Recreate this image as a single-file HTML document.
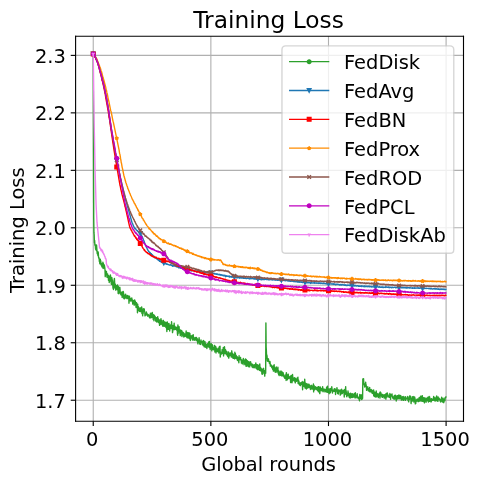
<!DOCTYPE html>
<html><head><meta charset="utf-8"><title>Training Loss</title><style>html,body{margin:0;padding:0;background:#fff;overflow:hidden}svg{display:block}</style></head><body>
<svg width="480" height="484" viewBox="0 0 345.6 348.48" version="1.1">
<defs>
<style type="text/css">*{stroke-linejoin: round; stroke-linecap: butt}</style>
</defs>
<g id="figure_1">
<g id="patch_1">
<path d="M 0 348.48 L 345.6 348.48 L 345.6 0 L 0 0 z
" style="fill: #ffffff"/>
</g>
<g id="axes_1">
<g id="patch_2">
<path d="M 54.43 303.26 L 333.72 303.26 L 333.72 26.06 L 54.43 26.06 z
" style="fill: #ffffff"/>
</g>
<g id="matplotlib.axis_1">
<g id="xtick_1">
<g id="line2d_1">
<path d="M 67.13 303.26 L 67.13 26.06 
" clip-path="url(#p1e43ecd677)" style="fill: none; stroke: #b0b0b0; stroke-width: 0.8; stroke-linecap: square"/>
</g>
<g id="line2d_2">
<g>
<path d="M 0 0 L 0 3.5 
" transform="translate(67.13 303.26)" style="stroke: #000000; stroke-width: 0.8"/>
</g>
</g>
<g id="text_1">
<g transform="translate(-0.72 0.00)"><text style="font-size: 14px; font-family: 'DejaVu Sans', sans-serif; text-anchor: middle" x="67.13" y="320.9" transform="rotate(-0 67.13 320.9)">0</text></g>
</g>
</g>
<g id="xtick_2">
<g id="line2d_3">
<path d="M 151.82 303.26 L 151.82 26.06 
" clip-path="url(#p1e43ecd677)" style="fill: none; stroke: #b0b0b0; stroke-width: 0.8; stroke-linecap: square"/>
</g>
<g id="line2d_4">
<g>
<path d="M 0 0 L 0 3.5 
" transform="translate(151.82 303.26)" style="stroke: #000000; stroke-width: 0.8"/>
</g>
</g>
<g id="text_2">
<g transform="translate(-0.72 0.00)"><text style="font-size: 14px; font-family: 'DejaVu Sans', sans-serif; text-anchor: middle" x="151.82" y="320.9" transform="rotate(-0 151.82 320.9)">500</text></g>
</g>
</g>
<g id="xtick_3">
<g id="line2d_5">
<path d="M 236.51 303.26 L 236.51 26.06 
" clip-path="url(#p1e43ecd677)" style="fill: none; stroke: #b0b0b0; stroke-width: 0.8; stroke-linecap: square"/>
</g>
<g id="line2d_6">
<g>
<path d="M 0 0 L 0 3.5 
" transform="translate(236.51 303.26)" style="stroke: #000000; stroke-width: 0.8"/>
</g>
</g>
<g id="text_3">
<g transform="translate(-0.72 0.00)"><text style="font-size: 14px; font-family: 'DejaVu Sans', sans-serif; text-anchor: middle" x="236.51" y="320.9" transform="rotate(-0 236.51 320.9)">1000</text></g>
</g>
</g>
<g id="xtick_4">
<g id="line2d_7">
<path d="M 321.19 303.26 L 321.19 26.06 
" clip-path="url(#p1e43ecd677)" style="fill: none; stroke: #b0b0b0; stroke-width: 0.8; stroke-linecap: square"/>
</g>
<g id="line2d_8">
<g>
<path d="M 0 0 L 0 3.5 
" transform="translate(321.19 303.26)" style="stroke: #000000; stroke-width: 0.8"/>
</g>
</g>
<g id="text_4">
<g transform="translate(-0.72 0.00)"><text style="font-size: 14px; font-family: 'DejaVu Sans', sans-serif; text-anchor: middle" x="321.19" y="320.9" transform="rotate(-0 321.19 320.9)">1500</text></g>
</g>
</g>
<g id="text_5">
<g transform="translate(-0.72 0.79)"><text style="font-size: 14px; font-family: 'DejaVu Sans', sans-serif; text-anchor: middle" x="194.08" y="338.45" transform="rotate(-0 194.08 338.45)">Global rounds</text></g>
</g>
</g>
<g id="matplotlib.axis_2">
<g id="ytick_1">
<g id="line2d_9">
<path d="M 54.43 288.16 L 333.72 288.16 
" clip-path="url(#p1e43ecd677)" style="fill: none; stroke: #b0b0b0; stroke-width: 0.8; stroke-linecap: square"/>
</g>
<g id="line2d_10">
<g>
<path d="M 0 0 L -3.5 0 
" transform="translate(54.43 288.16)" style="stroke: #000000; stroke-width: 0.8"/>
</g>
</g>
<g id="text_6">
<text style="font-size: 14px; font-family: 'DejaVu Sans', sans-serif; text-anchor: end" x="47.43" y="293.48" transform="rotate(-0 47.43 293.48)">1.7</text>
</g>
</g>
<g id="ytick_2">
<g id="line2d_11">
<path d="M 54.43 246.78 L 333.72 246.78 
" clip-path="url(#p1e43ecd677)" style="fill: none; stroke: #b0b0b0; stroke-width: 0.8; stroke-linecap: square"/>
</g>
<g id="line2d_12">
<g>
<path d="M 0 0 L -3.5 0 
" transform="translate(54.43 246.78)" style="stroke: #000000; stroke-width: 0.8"/>
</g>
</g>
<g id="text_7">
<text style="font-size: 14px; font-family: 'DejaVu Sans', sans-serif; text-anchor: end" x="47.43" y="252.1" transform="rotate(-0 47.43 252.1)">1.8</text>
</g>
</g>
<g id="ytick_3">
<g id="line2d_13">
<path d="M 54.43 205.4 L 333.72 205.4 
" clip-path="url(#p1e43ecd677)" style="fill: none; stroke: #b0b0b0; stroke-width: 0.8; stroke-linecap: square"/>
</g>
<g id="line2d_14">
<g>
<path d="M 0 0 L -3.5 0 
" transform="translate(54.43 205.4)" style="stroke: #000000; stroke-width: 0.8"/>
</g>
</g>
<g id="text_8">
<text style="font-size: 14px; font-family: 'DejaVu Sans', sans-serif; text-anchor: end" x="47.43" y="210.72" transform="rotate(-0 47.43 210.72)">1.9</text>
</g>
</g>
<g id="ytick_4">
<g id="line2d_15">
<path d="M 54.43 164.02 L 333.72 164.02 
" clip-path="url(#p1e43ecd677)" style="fill: none; stroke: #b0b0b0; stroke-width: 0.8; stroke-linecap: square"/>
</g>
<g id="line2d_16">
<g>
<path d="M 0 0 L -3.5 0 
" transform="translate(54.43 164.02)" style="stroke: #000000; stroke-width: 0.8"/>
</g>
</g>
<g id="text_9">
<text style="font-size: 14px; font-family: 'DejaVu Sans', sans-serif; text-anchor: end" x="47.43" y="169.34" transform="rotate(-0 47.43 169.34)">2.0</text>
</g>
</g>
<g id="ytick_5">
<g id="line2d_17">
<path d="M 54.43 122.64 L 333.72 122.64 
" clip-path="url(#p1e43ecd677)" style="fill: none; stroke: #b0b0b0; stroke-width: 0.8; stroke-linecap: square"/>
</g>
<g id="line2d_18">
<g>
<path d="M 0 0 L -3.5 0 
" transform="translate(54.43 122.64)" style="stroke: #000000; stroke-width: 0.8"/>
</g>
</g>
<g id="text_10">
<text style="font-size: 14px; font-family: 'DejaVu Sans', sans-serif; text-anchor: end" x="47.43" y="127.96" transform="rotate(-0 47.43 127.96)">2.1</text>
</g>
</g>
<g id="ytick_6">
<g id="line2d_19">
<path d="M 54.43 81.26 L 333.72 81.26 
" clip-path="url(#p1e43ecd677)" style="fill: none; stroke: #b0b0b0; stroke-width: 0.8; stroke-linecap: square"/>
</g>
<g id="line2d_20">
<g>
<path d="M 0 0 L -3.5 0 
" transform="translate(54.43 81.26)" style="stroke: #000000; stroke-width: 0.8"/>
</g>
</g>
<g id="text_11">
<text style="font-size: 14px; font-family: 'DejaVu Sans', sans-serif; text-anchor: end" x="47.43" y="86.58" transform="rotate(-0 47.43 86.58)">2.2</text>
</g>
</g>
<g id="ytick_7">
<g id="line2d_21">
<path d="M 54.43 39.88 L 333.72 39.88 
" clip-path="url(#p1e43ecd677)" style="fill: none; stroke: #b0b0b0; stroke-width: 0.8; stroke-linecap: square"/>
</g>
<g id="line2d_22">
<g>
<path d="M 0 0 L -3.5 0 
" transform="translate(54.43 39.88)" style="stroke: #000000; stroke-width: 0.8"/>
</g>
</g>
<g id="text_12">
<text style="font-size: 14px; font-family: 'DejaVu Sans', sans-serif; text-anchor: end" x="47.43" y="45.2" transform="rotate(-0 47.43 45.2)">2.3</text>
</g>
</g>
<g id="text_13">
<g transform="translate(-1.08 1.08)"><text style="font-size: 14px; font-family: 'DejaVu Sans', sans-serif; text-anchor: middle" x="18.26" y="164.66" transform="rotate(-90 18.26 164.66)">Training Loss</text></g>
</g>
</g>
<g id="line2d_23">
<path d="M 67.13 38.81 L 67.47 156.89 L 67.64 167.52 L 67.8 169.02 L 67.97 174.85 L 68.14 173.19 L 68.31 176.5 L 68.48 175.85 L 68.65 176.95 L 68.82 179.42 L 68.99 177.86 L 69.16 178.34 L 69.33 180.39 L 69.5 176.35 L 70.01 182.74 L 70.18 181.19 L 70.35 181.73 L 70.51 184.03 L 70.68 181.35 L 71.02 185.72 L 71.19 185.52 L 71.36 185.61 L 71.53 188.26 L 71.7 187.88 L 71.87 189.86 L 72.21 186.57 L 72.38 189.97 L 72.55 187.78 L 72.72 190.69 L 72.89 189.48 L 73.06 190.25 L 73.22 191.59 L 73.39 190.75 L 73.56 192.29 L 73.73 189.78 L 73.9 190.49 L 74.07 188.84 L 74.24 193.36 L 74.41 189.52 L 74.58 191.65 L 74.75 191.71 L 74.92 192.97 L 75.09 190.8 L 75.43 192.61 L 75.6 194.42 L 75.77 199.18 L 75.93 194.96 L 76.27 196.9 L 76.61 195.39 L 76.95 198.77 L 77.12 199.63 L 77.46 197.26 L 77.97 200.19 L 78.14 201.84 L 78.31 198.45 L 78.48 199.16 L 78.64 203.41 L 78.98 199.19 L 79.15 199.45 L 79.32 202.43 L 79.49 197.88 L 80.17 204.69 L 80.51 199.81 L 80.68 201.33 L 80.85 204.93 L 81.02 201.51 L 81.35 207.48 L 81.52 203.45 L 81.69 208.5 L 81.86 204.18 L 82.03 202.99 L 82.2 203.15 L 82.37 200.43 L 82.71 206.8 L 82.88 204.41 L 83.05 204.71 L 83.39 208.93 L 83.56 206.94 L 83.73 207.34 L 84.06 206.95 L 84.23 206.12 L 84.4 206.53 L 84.57 205.11 L 84.74 208.71 L 84.91 206.66 L 85.08 211.29 L 85.25 208.7 L 85.42 211.45 L 85.59 210.39 L 85.76 207.32 L 85.93 210.89 L 86.1 207.16 L 86.27 206.89 L 86.61 210.72 L 86.77 211.74 L 86.94 211.61 L 87.11 210.79 L 87.28 212.46 L 87.45 211.26 L 87.62 212.43 L 87.79 210.17 L 87.96 214.18 L 88.13 210.7 L 88.3 210.23 L 88.47 213.65 L 88.64 209.8 L 88.81 210.07 L 88.98 211.39 L 89.15 214.86 L 89.32 212.14 L 89.48 215.2 L 89.65 213.42 L 89.82 214.77 L 89.99 212.62 L 90.16 214.37 L 90.5 211.82 L 90.67 214.56 L 90.84 212.66 L 91.01 214.25 L 91.18 213.95 L 91.35 214.15 L 91.52 215.05 L 91.69 214.86 L 91.86 212.8 L 92.03 212.9 L 92.19 214.7 L 92.36 213.31 L 92.53 213.2 L 92.7 213.78 L 92.87 218.29 L 93.21 213.28 L 93.55 215.7 L 93.72 216.35 L 93.89 215.57 L 94.06 216.72 L 94.23 214.91 L 94.4 216.27 L 94.57 216.21 L 94.9 214.59 L 95.07 216.89 L 95.24 215.8 L 95.58 218.92 L 95.75 216.99 L 95.92 216.38 L 96.09 216.88 L 96.26 217.89 L 96.43 218.06 L 96.6 219.79 L 96.94 215.93 L 97.11 218.89 L 97.28 218.9 L 97.45 216.85 L 97.62 219.16 L 97.78 219.24 L 97.95 221.37 L 98.12 218.46 L 98.29 217.99 L 98.46 220.48 L 98.63 218.81 L 98.8 219.09 L 98.97 225.24 L 99.14 219 L 99.31 223.4 L 99.48 220.71 L 99.65 220.88 L 99.82 221.92 L 99.99 222.11 L 100.16 222.12 L 100.66 223.77 L 100.83 222.73 L 101.17 223.29 L 101.34 222.46 L 101.51 224.25 L 102.02 221.02 L 102.19 225.72 L 102.36 223.03 L 102.53 223.93 L 102.7 227.4 L 102.87 225.08 L 103.04 225.71 L 103.37 222.31 L 103.54 222.57 L 103.71 224.16 L 103.88 222.52 L 104.05 224.34 L 104.22 224.51 L 104.39 227.46 L 104.56 226.29 L 104.73 225.96 L 105.07 226.88 L 105.24 226.47 L 105.41 224.62 L 105.58 225.58 L 105.75 225.75 L 106.08 226.9 L 106.25 226.32 L 106.42 227.67 L 106.59 226.41 L 106.93 227.45 L 107.1 226.79 L 107.27 227.03 L 107.44 226.92 L 107.61 228.76 L 107.78 228.82 L 107.95 228.46 L 108.12 228.88 L 108.29 225.57 L 108.46 228.85 L 108.62 226.83 L 108.79 226.63 L 108.96 225.69 L 109.13 228.12 L 109.3 228.63 L 109.47 227.49 L 109.64 224.99 L 109.81 228.22 L 109.98 226.53 L 110.15 226.67 L 110.32 229.98 L 110.49 226.49 L 110.66 227.1 L 110.83 230.97 L 111 227.27 L 111.17 227.03 L 111.33 228.82 L 111.5 228.46 L 111.67 227.79 L 111.84 228.49 L 112.01 230.6 L 112.18 231.24 L 112.35 230.63 L 112.52 230.73 L 112.69 228.77 L 112.86 231.87 L 113.03 231.42 L 113.2 231.79 L 113.37 228.51 L 113.54 227.99 L 113.71 229.93 L 113.88 229.3 L 114.04 229.67 L 114.21 232.3 L 114.38 231.92 L 114.55 230.2 L 114.72 230.84 L 114.89 234.26 L 115.23 231.37 L 115.4 233.56 L 115.57 230.41 L 115.74 230.43 L 115.91 229.48 L 116.08 233.31 L 116.42 230.68 L 116.59 233.31 L 116.75 232.24 L 116.92 233.55 L 117.09 232.69 L 117.26 234.88 L 117.6 230.63 L 117.77 231.24 L 117.94 233.28 L 118.11 233.44 L 118.28 234.9 L 118.45 232.05 L 118.62 233.27 L 118.79 231.84 L 119.13 234.88 L 119.3 232.83 L 119.46 235.78 L 119.8 232.23 L 120.14 238.68 L 120.48 231.88 L 120.82 237.12 L 120.99 236.09 L 121.16 233.11 L 121.33 236.31 L 121.5 237.18 L 121.67 232.94 L 121.84 235.58 L 122.01 234.81 L 122.17 238.33 L 122.34 234.16 L 122.51 236.09 L 122.68 234 L 122.85 234.95 L 123.02 236.59 L 123.19 236.23 L 123.36 236.27 L 123.53 231.67 L 123.7 234.94 L 123.87 234.2 L 124.04 235.26 L 124.21 239.47 L 124.38 238.49 L 124.55 234.36 L 124.88 237.33 L 125.05 235.47 L 125.22 236.06 L 125.39 232.7 L 125.56 237.29 L 125.73 237.28 L 126.07 235.09 L 126.24 236.8 L 126.41 235.79 L 126.58 237.17 L 126.75 236.91 L 127.09 237.41 L 127.26 235.66 L 127.43 237.85 L 127.59 236.12 L 127.76 240.31 L 127.93 241.35 L 128.1 233.94 L 128.27 240.11 L 128.44 237 L 128.61 238.19 L 128.95 235.22 L 129.12 238.51 L 129.29 237.91 L 129.46 239.97 L 129.63 238.64 L 129.8 241.64 L 129.97 237.62 L 130.31 240.97 L 130.47 239.94 L 130.64 240.11 L 130.81 237.96 L 130.98 242.28 L 131.15 241.43 L 131.32 239.08 L 131.49 240.72 L 131.83 239.31 L 132 241.38 L 132.17 239.49 L 132.34 242.68 L 132.51 242.46 L 132.68 240.26 L 132.85 241.94 L 133.18 242.09 L 133.35 240.89 L 133.52 241.17 L 133.69 240.82 L 133.86 240.08 L 134.03 238.34 L 134.2 241.83 L 134.37 239.55 L 134.71 243.17 L 134.88 241.35 L 135.05 242.21 L 135.22 239.45 L 135.39 243.27 L 135.73 240.8 L 135.89 241.17 L 136.06 239.48 L 136.23 243.67 L 136.4 242.07 L 136.57 241.97 L 136.74 240.13 L 136.91 244.67 L 137.08 245.15 L 137.42 241.95 L 137.59 243.35 L 137.76 243.46 L 137.93 242.92 L 138.27 241.53 L 138.6 244.8 L 138.77 242.54 L 138.94 244.57 L 139.11 240.94 L 139.28 243.76 L 139.45 242.72 L 139.62 244.89 L 139.79 243.14 L 139.96 244.83 L 140.13 244.91 L 140.3 243.8 L 140.47 244.49 L 140.64 243.07 L 140.81 244.26 L 140.98 242.98 L 141.31 245.23 L 141.48 242.95 L 141.82 245.25 L 141.99 245.45 L 142.16 243.99 L 142.33 246.69 L 142.5 247.62 L 142.67 246.04 L 142.84 246.44 L 143.01 246.14 L 143.18 245.16 L 143.35 243.18 L 143.69 246.43 L 143.86 247.72 L 144.02 247 L 144.36 247.99 L 144.7 244.77 L 144.87 246.06 L 145.04 246.07 L 145.21 246.58 L 145.38 246.03 L 145.55 246.68 L 145.72 248.21 L 145.89 245.72 L 146.06 247.17 L 146.23 246.92 L 146.4 248.87 L 146.57 245.1 L 146.73 245.46 L 146.9 249.16 L 147.07 249.72 L 147.24 249.39 L 147.58 245.99 L 147.92 250 L 148.09 249.66 L 148.26 247.63 L 148.43 248.1 L 148.94 250.89 L 149.11 248.71 L 149.44 247.44 L 149.61 249.6 L 149.78 247.7 L 149.95 249.81 L 150.12 249.16 L 150.29 246.13 L 150.46 246.94 L 150.63 249.59 L 150.8 245.85 L 150.97 250.41 L 151.14 249.66 L 151.31 251.59 L 151.65 248.46 L 151.82 249.17 L 151.99 247.41 L 152.15 249.5 L 152.32 247.98 L 152.49 252.61 L 152.66 249.06 L 152.83 251.06 L 153 250.37 L 153.34 251.54 L 153.51 250.17 L 153.68 251.83 L 153.85 251.14 L 154.02 251.15 L 154.19 250.99 L 154.36 249.09 L 154.53 248.66 L 154.7 253.39 L 154.86 249.55 L 155.03 252.08 L 155.37 249.53 L 155.54 254.2 L 155.71 250.59 L 155.88 251.81 L 156.05 251.74 L 156.22 251.31 L 156.56 253.15 L 156.73 252.44 L 156.9 253.11 L 157.07 250.75 L 157.24 253.26 L 157.41 251.28 L 157.57 254.21 L 157.91 249.65 L 158.08 249.89 L 158.25 251.95 L 158.42 249.25 L 158.59 257.01 L 158.76 253.34 L 158.93 255.54 L 159.1 254.97 L 159.27 254.92 L 159.61 254.48 L 159.78 253.51 L 159.95 251.69 L 160.45 254.56 L 160.62 254.3 L 160.79 250.11 L 160.96 256.27 L 161.13 251.69 L 161.3 253.59 L 161.47 253.87 L 161.64 249.63 L 161.98 254.65 L 162.32 251.83 L 162.49 252.13 L 163 255.28 L 163.16 253.4 L 163.33 253.11 L 163.67 256.1 L 163.84 256.08 L 164.01 256.64 L 164.18 255.03 L 164.35 256.72 L 164.52 253.46 L 164.69 257.84 L 164.86 256.68 L 165.03 254.18 L 165.37 255.17 L 165.54 256.13 L 165.71 255.83 L 166.04 254.16 L 166.21 255.02 L 166.38 254.63 L 166.55 257.13 L 166.89 252.59 L 167.06 256.29 L 167.23 254.8 L 167.4 256.25 L 167.57 254.52 L 167.74 255 L 167.91 257.98 L 168.08 255.91 L 168.25 256.02 L 168.42 256.82 L 168.58 255.42 L 168.92 258.41 L 169.09 253.64 L 169.26 256.19 L 169.43 254.44 L 169.77 256.8 L 169.94 255.83 L 170.28 258.06 L 170.45 257.52 L 170.62 258.58 L 170.79 256.85 L 170.96 259.52 L 171.29 257.57 L 171.46 258.24 L 171.63 257.81 L 171.97 261.17 L 172.14 256.15 L 172.31 259.08 L 172.48 258.84 L 172.82 257.78 L 173.16 257.33 L 173.33 259.23 L 173.5 258.81 L 173.67 259.23 L 173.84 261.47 L 174 259.22 L 174.17 259.18 L 174.51 261.96 L 174.68 259.96 L 174.85 260.62 L 175.02 260.51 L 175.19 258.11 L 175.36 260.44 L 175.53 260.68 L 175.7 262.58 L 176.04 259.29 L 176.21 259.98 L 176.38 261.94 L 176.71 258.37 L 176.88 262.75 L 177.05 261.22 L 177.22 263.78 L 177.39 258.89 L 177.56 263.51 L 177.73 260.86 L 177.9 260.84 L 178.07 259.65 L 178.24 261.51 L 178.41 261.86 L 178.58 263.68 L 178.92 262.08 L 179.09 260.31 L 179.26 264.14 L 179.42 260.72 L 179.76 264.17 L 179.93 261.41 L 180.1 261.28 L 180.27 260.45 L 180.44 260.57 L 180.61 262.82 L 180.78 261.43 L 180.95 262.33 L 181.12 262.43 L 181.46 264.05 L 181.8 262.14 L 181.97 264.62 L 182.13 262.83 L 182.47 264.73 L 182.81 262.97 L 182.98 262.58 L 183.15 264.5 L 183.32 264.33 L 183.49 264.88 L 183.66 262.87 L 183.83 262.99 L 184 262.43 L 184.17 261.37 L 184.34 264.11 L 184.51 264.13 L 184.68 262.36 L 185.01 264.75 L 185.18 262.85 L 185.35 262.67 L 185.52 266.17 L 185.69 264.58 L 185.86 264.08 L 186.03 262.92 L 186.2 263.57 L 186.37 265.99 L 186.54 265.02 L 186.71 266.56 L 186.88 263.17 L 187.05 262.05 L 187.22 266.61 L 187.39 265.91 L 187.55 267.04 L 187.72 264.81 L 187.89 266.04 L 188.06 265.31 L 188.23 267.02 L 188.4 266.16 L 188.57 269.33 L 188.74 266.15 L 188.91 269.45 L 189.08 266.18 L 189.25 265.6 L 189.42 266.69 L 189.59 266.36 L 189.76 265.19 L 190.1 268.98 L 190.26 269.23 L 190.43 266.89 L 190.6 270.82 L 190.77 268.33 L 190.94 269.07 L 191.11 268.26 L 191.28 268.7 L 191.45 232.5 L 191.62 249.62 L 191.79 252.54 L 191.96 257.73 L 192.13 255.58 L 192.3 256.51 L 192.47 259.97 L 192.64 258.15 L 192.81 258.03 L 192.98 260.17 L 193.14 259.71 L 193.31 258.45 L 193.48 260.34 L 193.82 260.47 L 193.99 261.71 L 194.16 261.31 L 194.33 260.22 L 194.5 261.33 L 194.67 263.63 L 194.84 262.66 L 195.01 262.78 L 195.18 262.75 L 195.35 263.02 L 195.69 264.77 L 195.85 263.85 L 196.02 264.82 L 196.19 263.75 L 196.36 266.06 L 196.53 265.12 L 196.7 263.53 L 196.87 267.19 L 197.04 267.17 L 197.38 262.61 L 197.55 266.2 L 197.72 266.15 L 197.89 265.57 L 198.06 267.8 L 198.23 265 L 198.56 266.3 L 198.73 268.09 L 198.9 264.22 L 199.07 265.41 L 199.41 265.59 L 199.58 267.18 L 199.75 266.89 L 199.92 267.72 L 200.09 264.37 L 200.26 268.65 L 200.43 267.16 L 200.6 269.65 L 200.77 267.05 L 200.94 270.39 L 201.11 269.48 L 201.27 267.84 L 201.44 268.46 L 201.61 268.36 L 201.78 269.25 L 202.12 267.94 L 202.29 267.02 L 202.63 269.03 L 202.8 269.37 L 202.97 270.6 L 203.14 268.58 L 203.31 268.98 L 203.48 268.13 L 203.65 270.01 L 203.82 270 L 203.98 270.7 L 204.15 270.54 L 204.32 269.79 L 204.66 271.76 L 204.83 271.26 L 205 272.34 L 205.17 270.75 L 205.34 271.76 L 205.51 270.44 L 205.68 272.54 L 205.85 269.47 L 206.02 273.91 L 206.19 268.27 L 206.53 270.83 L 206.69 270.02 L 207.03 273.39 L 207.2 269.77 L 207.37 270.27 L 207.54 269.49 L 207.71 271.76 L 207.88 272.41 L 208.05 271.76 L 208.22 272.12 L 208.39 272.09 L 208.56 271.82 L 208.73 271.11 L 208.9 272.8 L 209.07 271.37 L 209.24 275.46 L 209.57 270.3 L 209.91 274.55 L 210.08 273.07 L 210.25 275.61 L 210.42 273.92 L 210.59 269.57 L 210.93 272.96 L 211.1 274.09 L 211.44 272.25 L 211.61 273.79 L 211.78 272.75 L 211.95 274.16 L 212.11 271.92 L 212.28 274.51 L 212.62 275.7 L 212.96 273.1 L 213.13 272.37 L 213.47 274.58 L 213.64 274.05 L 213.81 274.32 L 213.98 273.9 L 214.15 274.12 L 214.32 271.97 L 214.49 271.61 L 214.66 276.14 L 214.82 273.55 L 214.99 273.75 L 215.16 276.05 L 215.33 274.76 L 215.5 276.76 L 215.67 277.14 L 215.84 276.02 L 216.18 276.06 L 216.35 277.66 L 216.52 275.57 L 216.86 275.89 L 217.03 276.64 L 217.2 275.1 L 217.37 276.35 L 217.53 275.96 L 217.7 276.9 L 217.87 280.62 L 218.04 274.58 L 218.21 277.78 L 218.38 276.04 L 218.55 275.54 L 218.72 277.21 L 218.89 277.22 L 219.06 275.93 L 219.23 277.96 L 219.4 273.03 L 219.74 279.49 L 219.91 276.74 L 220.08 276.5 L 220.24 276.02 L 220.58 280.11 L 220.75 277.74 L 220.92 277.27 L 221.09 279.32 L 221.26 278.15 L 221.43 279.4 L 221.6 276.43 L 221.77 276.84 L 222.11 278.4 L 222.28 279.12 L 222.45 276.66 L 222.62 278.42 L 222.79 278.31 L 222.96 277.27 L 223.12 278.87 L 223.29 278.83 L 223.46 280.17 L 223.63 278.63 L 223.8 280.4 L 223.97 277.79 L 224.14 279.87 L 224.31 277.43 L 224.48 277.92 L 224.65 279.32 L 224.82 278.92 L 224.99 280.04 L 225.16 278.88 L 225.33 279.46 L 225.67 276.48 L 225.83 282.16 L 226 277.37 L 226.17 277.69 L 226.34 280.79 L 226.68 279.06 L 227.19 278.42 L 227.36 279.94 L 227.53 280.44 L 227.87 280.13 L 228.04 278.95 L 228.21 279.07 L 228.54 281.11 L 228.71 279.74 L 228.88 280.37 L 229.05 278.46 L 229.22 282.11 L 229.56 278.48 L 229.73 281.72 L 229.9 280.39 L 230.07 281.51 L 230.24 283.43 L 230.41 281.9 L 230.58 278.53 L 230.75 279.4 L 230.92 281.07 L 231.09 280.73 L 231.25 279.63 L 231.42 280.83 L 231.59 280.39 L 231.76 281.46 L 231.93 280.86 L 232.1 281 L 232.27 278.41 L 232.44 279.75 L 232.61 282.03 L 232.78 280.73 L 232.95 281.46 L 233.12 280.23 L 233.29 280.13 L 233.46 280.23 L 233.63 280.51 L 233.8 280.42 L 233.96 282.11 L 234.13 281.29 L 234.3 281.35 L 234.47 280.47 L 234.64 280.66 L 234.98 282.2 L 235.15 278.83 L 235.32 278.71 L 235.49 282 L 235.83 278.04 L 236 281.61 L 236.17 281.94 L 236.34 280.77 L 236.67 282.31 L 236.84 281.92 L 237.01 283.46 L 237.18 282.79 L 237.52 280.03 L 237.69 280.06 L 237.86 282.81 L 238.03 279.63 L 238.2 280.73 L 238.37 281.05 L 238.54 281.01 L 238.71 281.37 L 238.88 278.45 L 239.38 282.94 L 239.55 280.95 L 239.72 280.89 L 240.06 281.22 L 240.23 281.65 L 240.4 281.76 L 240.57 280.07 L 240.74 281.78 L 240.91 281.2 L 241.08 279.81 L 241.25 280.07 L 241.42 280.61 L 241.59 284 L 241.93 280.67 L 242.26 280.6 L 242.43 281.6 L 242.6 279.08 L 243.11 283.27 L 243.45 282.16 L 243.62 283.65 L 243.79 280.81 L 243.96 280.76 L 244.47 281.95 L 244.64 281.12 L 244.8 280.9 L 244.97 284.52 L 245.14 281.7 L 245.31 281.76 L 245.48 280.77 L 245.82 283.62 L 245.99 280.29 L 246.16 281.28 L 246.33 283.02 L 246.5 283.26 L 246.67 281.75 L 246.84 282.71 L 247.01 282.58 L 247.18 281.02 L 247.35 282.44 L 247.68 281.55 L 247.85 285.87 L 248.02 281.08 L 248.19 280.41 L 248.53 283.85 L 248.7 283.33 L 248.87 278.36 L 249.04 283.8 L 249.21 281.22 L 249.55 285.26 L 249.72 285.69 L 249.89 284.42 L 250.06 284.24 L 250.22 283.11 L 250.39 283.62 L 250.56 281.56 L 250.73 284.8 L 250.9 282.74 L 251.24 285.1 L 251.41 285.99 L 251.58 284.13 L 251.75 284.73 L 251.92 283.54 L 252.09 286.68 L 252.43 283.03 L 252.6 285 L 252.77 284.12 L 252.93 285.17 L 253.1 284.4 L 253.27 284.33 L 253.44 284.85 L 253.61 283.59 L 253.78 284.71 L 253.95 283.97 L 254.29 285.31 L 254.46 285.69 L 254.63 284.07 L 254.97 285.3 L 255.14 283.41 L 255.48 286.41 L 255.65 285.48 L 255.81 282.71 L 255.98 285.33 L 256.15 285.71 L 256.32 286.43 L 256.49 285.01 L 256.66 285.6 L 256.83 285.76 L 257.17 283.54 L 257.34 286.02 L 257.51 285.19 L 257.68 286.51 L 257.85 286.91 L 258.02 286.51 L 258.19 286.45 L 258.36 286.26 L 258.86 288.54 L 259.03 283.98 L 259.2 286.27 L 259.37 286.18 L 259.54 286.71 L 259.71 284.91 L 259.88 286.95 L 260.05 284.23 L 260.22 287.65 L 260.56 284.98 L 260.73 287.38 L 261.07 286.67 L 261.23 272.9 L 261.4 275.21 L 261.57 274.32 L 261.74 272.62 L 261.91 275.58 L 262.08 276.12 L 262.25 277.19 L 262.42 277.2 L 262.59 278.65 L 262.76 278.6 L 263.27 275.21 L 263.44 277.45 L 263.61 277.03 L 263.78 278.45 L 263.94 281.05 L 264.11 280.51 L 264.28 279.23 L 264.45 279.1 L 264.62 279.96 L 264.79 278.48 L 265.13 281.34 L 265.3 279.74 L 265.47 280.61 L 265.64 279.94 L 265.81 281.73 L 265.98 281.15 L 266.15 278.92 L 266.32 282.13 L 266.49 282.23 L 266.65 281.27 L 266.82 281.49 L 266.99 281.13 L 267.16 280.38 L 267.5 282.34 L 267.67 280.72 L 268.01 283.22 L 268.18 282.44 L 268.35 282.47 L 268.52 283.37 L 268.69 281.21 L 268.86 283.35 L 269.03 280.8 L 269.2 284.81 L 269.36 281.97 L 269.53 283.34 L 269.7 283.75 L 269.87 282.43 L 270.04 284.22 L 270.21 284.2 L 270.38 284.4 L 270.55 282.63 L 270.72 285.77 L 270.89 281.53 L 271.06 285.07 L 271.23 285.54 L 271.4 283.14 L 271.57 284.92 L 271.74 283.55 L 271.91 284.61 L 272.07 284.88 L 272.24 283.6 L 272.41 286.32 L 272.58 284.81 L 272.75 284.76 L 273.09 285.18 L 273.26 282.98 L 273.43 284.28 L 273.6 286.66 L 273.77 282.13 L 273.94 283.24 L 274.11 282.51 L 274.28 284.99 L 274.45 284.54 L 274.62 284.51 L 274.78 283.87 L 274.95 285.74 L 275.12 285.5 L 275.29 286.08 L 275.46 284.07 L 275.63 285.06 L 275.8 284.76 L 275.97 285.09 L 276.14 284.8 L 276.31 285.82 L 276.48 284.24 L 276.65 286.65 L 276.82 285.66 L 276.99 286.51 L 277.16 286.3 L 277.33 284.2 L 277.49 283.8 L 277.83 287.39 L 278.17 283.25 L 278.51 285.61 L 278.68 285.81 L 278.85 282.88 L 279.02 284.77 L 279.19 283.73 L 279.36 284.98 L 279.53 284.86 L 279.87 285.86 L 280.2 284.91 L 280.37 286.04 L 280.71 283.32 L 280.88 283.91 L 281.22 287.47 L 281.39 284.26 L 281.56 285.27 L 281.73 285.23 L 282.24 283.67 L 282.41 285.35 L 282.58 285.67 L 282.75 286.62 L 282.91 285.68 L 283.08 286.14 L 283.25 286.09 L 283.42 287.05 L 283.59 286.03 L 283.76 287.48 L 283.93 284.78 L 284.1 285.6 L 284.27 285.65 L 284.44 284.7 L 284.61 287.07 L 284.78 284.59 L 284.95 286.39 L 285.12 286.3 L 285.29 288.75 L 285.46 285.93 L 285.63 285.95 L 285.79 285.14 L 285.96 287.03 L 286.13 287.3 L 286.47 286.33 L 286.64 284.99 L 286.81 284.71 L 286.98 286.51 L 287.15 286.52 L 287.49 285.09 L 287.83 285.92 L 288.17 285.59 L 288.34 287.01 L 288.5 284.81 L 288.67 286.98 L 288.84 286.89 L 289.01 288.08 L 289.18 286.77 L 289.35 287 L 289.69 285.58 L 289.86 287.88 L 290.03 286.16 L 290.2 287.92 L 290.37 287.24 L 290.54 288.27 L 290.71 285.5 L 290.88 285.78 L 291.05 287.12 L 291.38 287.35 L 291.55 286.69 L 291.89 288.26 L 292.06 285.66 L 292.23 287.49 L 292.4 286.71 L 292.74 287.19 L 292.91 287.03 L 293.25 286.33 L 293.42 286.44 L 293.59 285.44 L 293.76 288.27 L 293.92 286.57 L 294.09 288.74 L 294.26 289.36 L 294.43 287.07 L 294.6 286.3 L 294.77 287.52 L 294.94 285.12 L 295.11 286.15 L 295.28 285.04 L 295.45 287.16 L 295.62 287.49 L 295.79 285.53 L 295.96 290.56 L 296.3 287.45 L 296.47 286.81 L 296.63 288.05 L 296.8 286.61 L 296.97 288.77 L 297.14 285.69 L 297.31 286.05 L 297.48 287.16 L 297.65 285.53 L 297.82 285.92 L 297.99 289.45 L 298.5 285.82 L 298.84 287.27 L 299.01 290.78 L 299.18 288.01 L 299.34 290.46 L 299.51 288.18 L 299.68 289.12 L 300.02 287.8 L 300.19 287.49 L 300.36 287.61 L 300.53 287.29 L 300.87 289.04 L 301.04 287.38 L 301.21 288.29 L 301.38 287.52 L 301.55 289.05 L 301.72 286.44 L 301.89 286.34 L 302.05 288.56 L 302.22 288.14 L 302.39 287.12 L 302.56 288.76 L 302.73 285.34 L 302.9 287.21 L 303.07 286.62 L 303.24 287.49 L 303.58 285.18 L 303.75 288.48 L 304.09 284.95 L 304.26 287.69 L 304.6 286.78 L 304.76 287.11 L 304.93 286.48 L 305.1 289.15 L 305.27 286.49 L 305.44 287.7 L 305.61 290.09 L 305.78 286.64 L 305.95 286.41 L 306.12 288.36 L 306.29 287.77 L 306.46 288.24 L 306.8 289.57 L 306.97 286.99 L 307.14 286.87 L 307.31 288.28 L 307.47 288.4 L 307.64 286.6 L 307.81 288.55 L 308.15 285.94 L 308.49 289.45 L 308.66 286.64 L 308.83 287.36 L 309 285.41 L 309.17 289.02 L 309.34 285.73 L 309.51 288.82 L 309.68 287.16 L 309.85 288.01 L 310.02 287.33 L 310.18 287.58 L 310.35 289.43 L 310.52 289.11 L 310.69 287.02 L 310.86 287.1 L 311.03 288.33 L 311.2 287.83 L 311.37 288.16 L 311.71 287.38 L 311.88 288.14 L 312.05 287.87 L 312.22 285.5 L 312.39 288.19 L 312.56 286.06 L 312.73 288.18 L 312.89 288.62 L 313.06 286.5 L 313.4 287.77 L 313.57 286.7 L 313.74 288.75 L 313.91 286.53 L 314.08 285.87 L 314.25 287.85 L 314.42 285.12 L 314.76 288.5 L 314.93 288.17 L 315.1 288.1 L 315.27 288.97 L 315.44 285.76 L 315.6 287.44 L 315.77 286.5 L 315.94 287.3 L 316.11 286.71 L 316.28 287.66 L 316.45 287.27 L 316.62 287.87 L 316.79 287.39 L 316.96 288.79 L 317.3 289.48 L 317.47 287.79 L 317.64 288.72 L 317.81 288.85 L 317.98 286.04 L 318.15 287.7 L 318.32 286.95 L 318.48 287.38 L 318.65 289.41 L 318.99 286.77 L 319.33 288.99 L 319.5 289.93 L 319.84 287.73 L 320.01 287.32 L 320.35 288.5 L 320.52 286.18 L 320.69 286.5 L 320.86 285.91 L 321.03 285.82 L 321.03 285.82 
" clip-path="url(#p1e43ecd677)" style="fill: none; stroke: #2ca02c; stroke-linecap: square"/>
<g clip-path="url(#p1e43ecd677)">
<path d="M 0 1.3 
C 0.34 1.3 0.68 1.16 0.92 0.92 
C 1.16 0.68 1.3 0.34 1.3 0 
C 1.3 -0.34 1.16 -0.68 0.92 -0.92 
C 0.68 -1.16 0.34 -1.3 0 -1.3 
C -0.34 -1.3 -0.68 -1.16 -0.92 -0.92 
C -1.16 -0.68 -1.3 -0.34 -1.3 0 
C -1.3 0.34 -1.16 0.68 -0.92 0.92 
C -0.68 1.16 -0.34 1.3 0 1.3 z
" transform="translate(67.13 38.81)" style="fill: #2ca02c; stroke: #2ca02c"/>
<path d="M 0 1.3 
C 0.34 1.3 0.68 1.16 0.92 0.92 
C 1.16 0.68 1.3 0.34 1.3 0 
C 1.3 -0.34 1.16 -0.68 0.92 -0.92 
C 0.68 -1.16 0.34 -1.3 0 -1.3 
C -0.34 -1.3 -0.68 -1.16 -0.92 -0.92 
C -1.16 -0.68 -1.3 -0.34 -1.3 0 
C -1.3 0.34 -1.16 0.68 -0.92 0.92 
C -0.68 1.16 -0.34 1.3 0 1.3 z
" transform="translate(84.06 206.95)" style="fill: #2ca02c; stroke: #2ca02c"/>
<path d="M 0 1.3 
C 0.34 1.3 0.68 1.16 0.92 0.92 
C 1.16 0.68 1.3 0.34 1.3 0 
C 1.3 -0.34 1.16 -0.68 0.92 -0.92 
C 0.68 -1.16 0.34 -1.3 0 -1.3 
C -0.34 -1.3 -0.68 -1.16 -0.92 -0.92 
C -1.16 -0.68 -1.3 -0.34 -1.3 0 
C -1.3 0.34 -1.16 0.68 -0.92 0.92 
C -0.68 1.16 -0.34 1.3 0 1.3 z
" transform="translate(101 222.94)" style="fill: #2ca02c; stroke: #2ca02c"/>
<path d="M 0 1.3 
C 0.34 1.3 0.68 1.16 0.92 0.92 
C 1.16 0.68 1.3 0.34 1.3 0 
C 1.3 -0.34 1.16 -0.68 0.92 -0.92 
C 0.68 -1.16 0.34 -1.3 0 -1.3 
C -0.34 -1.3 -0.68 -1.16 -0.92 -0.92 
C -1.16 -0.68 -1.3 -0.34 -1.3 0 
C -1.3 0.34 -1.16 0.68 -0.92 0.92 
C -0.68 1.16 -0.34 1.3 0 1.3 z
" transform="translate(117.94 233.28)" style="fill: #2ca02c; stroke: #2ca02c"/>
<path d="M 0 1.3 
C 0.34 1.3 0.68 1.16 0.92 0.92 
C 1.16 0.68 1.3 0.34 1.3 0 
C 1.3 -0.34 1.16 -0.68 0.92 -0.92 
C 0.68 -1.16 0.34 -1.3 0 -1.3 
C -0.34 -1.3 -0.68 -1.16 -0.92 -0.92 
C -1.16 -0.68 -1.3 -0.34 -1.3 0 
C -1.3 0.34 -1.16 0.68 -0.92 0.92 
C -0.68 1.16 -0.34 1.3 0 1.3 z
" transform="translate(134.88 241.35)" style="fill: #2ca02c; stroke: #2ca02c"/>
<path d="M 0 1.3 
C 0.34 1.3 0.68 1.16 0.92 0.92 
C 1.16 0.68 1.3 0.34 1.3 0 
C 1.3 -0.34 1.16 -0.68 0.92 -0.92 
C 0.68 -1.16 0.34 -1.3 0 -1.3 
C -0.34 -1.3 -0.68 -1.16 -0.92 -0.92 
C -1.16 -0.68 -1.3 -0.34 -1.3 0 
C -1.3 0.34 -1.16 0.68 -0.92 0.92 
C -0.68 1.16 -0.34 1.3 0 1.3 z
" transform="translate(151.82 249.17)" style="fill: #2ca02c; stroke: #2ca02c"/>
<path d="M 0 1.3 
C 0.34 1.3 0.68 1.16 0.92 0.92 
C 1.16 0.68 1.3 0.34 1.3 0 
C 1.3 -0.34 1.16 -0.68 0.92 -0.92 
C 0.68 -1.16 0.34 -1.3 0 -1.3 
C -0.34 -1.3 -0.68 -1.16 -0.92 -0.92 
C -1.16 -0.68 -1.3 -0.34 -1.3 0 
C -1.3 0.34 -1.16 0.68 -0.92 0.92 
C -0.68 1.16 -0.34 1.3 0 1.3 z
" transform="translate(168.75 256.77)" style="fill: #2ca02c; stroke: #2ca02c"/>
<path d="M 0 1.3 
C 0.34 1.3 0.68 1.16 0.92 0.92 
C 1.16 0.68 1.3 0.34 1.3 0 
C 1.3 -0.34 1.16 -0.68 0.92 -0.92 
C 0.68 -1.16 0.34 -1.3 0 -1.3 
C -0.34 -1.3 -0.68 -1.16 -0.92 -0.92 
C -1.16 -0.68 -1.3 -0.34 -1.3 0 
C -1.3 0.34 -1.16 0.68 -0.92 0.92 
C -0.68 1.16 -0.34 1.3 0 1.3 z
" transform="translate(185.69 264.58)" style="fill: #2ca02c; stroke: #2ca02c"/>
<path d="M 0 1.3 
C 0.34 1.3 0.68 1.16 0.92 0.92 
C 1.16 0.68 1.3 0.34 1.3 0 
C 1.3 -0.34 1.16 -0.68 0.92 -0.92 
C 0.68 -1.16 0.34 -1.3 0 -1.3 
C -0.34 -1.3 -0.68 -1.16 -0.92 -0.92 
C -1.16 -0.68 -1.3 -0.34 -1.3 0 
C -1.3 0.34 -1.16 0.68 -0.92 0.92 
C -0.68 1.16 -0.34 1.3 0 1.3 z
" transform="translate(202.63 269.03)" style="fill: #2ca02c; stroke: #2ca02c"/>
<path d="M 0 1.3 
C 0.34 1.3 0.68 1.16 0.92 0.92 
C 1.16 0.68 1.3 0.34 1.3 0 
C 1.3 -0.34 1.16 -0.68 0.92 -0.92 
C 0.68 -1.16 0.34 -1.3 0 -1.3 
C -0.34 -1.3 -0.68 -1.16 -0.92 -0.92 
C -1.16 -0.68 -1.3 -0.34 -1.3 0 
C -1.3 0.34 -1.16 0.68 -0.92 0.92 
C -0.68 1.16 -0.34 1.3 0 1.3 z
" transform="translate(219.57 277.17)" style="fill: #2ca02c; stroke: #2ca02c"/>
<path d="M 0 1.3 
C 0.34 1.3 0.68 1.16 0.92 0.92 
C 1.16 0.68 1.3 0.34 1.3 0 
C 1.3 -0.34 1.16 -0.68 0.92 -0.92 
C 0.68 -1.16 0.34 -1.3 0 -1.3 
C -0.34 -1.3 -0.68 -1.16 -0.92 -0.92 
C -1.16 -0.68 -1.3 -0.34 -1.3 0 
C -1.3 0.34 -1.16 0.68 -0.92 0.92 
C -0.68 1.16 -0.34 1.3 0 1.3 z
" transform="translate(236.51 281.37)" style="fill: #2ca02c; stroke: #2ca02c"/>
<path d="M 0 1.3 
C 0.34 1.3 0.68 1.16 0.92 0.92 
C 1.16 0.68 1.3 0.34 1.3 0 
C 1.3 -0.34 1.16 -0.68 0.92 -0.92 
C 0.68 -1.16 0.34 -1.3 0 -1.3 
C -0.34 -1.3 -0.68 -1.16 -0.92 -0.92 
C -1.16 -0.68 -1.3 -0.34 -1.3 0 
C -1.3 0.34 -1.16 0.68 -0.92 0.92 
C -0.68 1.16 -0.34 1.3 0 1.3 z
" transform="translate(253.44 284.85)" style="fill: #2ca02c; stroke: #2ca02c"/>
<path d="M 0 1.3 
C 0.34 1.3 0.68 1.16 0.92 0.92 
C 1.16 0.68 1.3 0.34 1.3 0 
C 1.3 -0.34 1.16 -0.68 0.92 -0.92 
C 0.68 -1.16 0.34 -1.3 0 -1.3 
C -0.34 -1.3 -0.68 -1.16 -0.92 -0.92 
C -1.16 -0.68 -1.3 -0.34 -1.3 0 
C -1.3 0.34 -1.16 0.68 -0.92 0.92 
C -0.68 1.16 -0.34 1.3 0 1.3 z
" transform="translate(270.38 284.4)" style="fill: #2ca02c; stroke: #2ca02c"/>
<path d="M 0 1.3 
C 0.34 1.3 0.68 1.16 0.92 0.92 
C 1.16 0.68 1.3 0.34 1.3 0 
C 1.3 -0.34 1.16 -0.68 0.92 -0.92 
C 0.68 -1.16 0.34 -1.3 0 -1.3 
C -0.34 -1.3 -0.68 -1.16 -0.92 -0.92 
C -1.16 -0.68 -1.3 -0.34 -1.3 0 
C -1.3 0.34 -1.16 0.68 -0.92 0.92 
C -0.68 1.16 -0.34 1.3 0 1.3 z
" transform="translate(287.32 285.91)" style="fill: #2ca02c; stroke: #2ca02c"/>
<path d="M 0 1.3 
C 0.34 1.3 0.68 1.16 0.92 0.92 
C 1.16 0.68 1.3 0.34 1.3 0 
C 1.3 -0.34 1.16 -0.68 0.92 -0.92 
C 0.68 -1.16 0.34 -1.3 0 -1.3 
C -0.34 -1.3 -0.68 -1.16 -0.92 -0.92 
C -1.16 -0.68 -1.3 -0.34 -1.3 0 
C -1.3 0.34 -1.16 0.68 -0.92 0.92 
C -0.68 1.16 -0.34 1.3 0 1.3 z
" transform="translate(304.26 287.69)" style="fill: #2ca02c; stroke: #2ca02c"/>
</g>
</g>
<g id="line2d_24">
<path d="M 67.13 38.81 L 67.3 39.54 L 67.47 39.15 L 67.8 39.84 L 67.97 40.06 L 68.14 40.73 L 68.31 40.67 L 68.48 41.13 L 68.65 40.6 L 68.99 42.07 L 70.18 44.63 L 70.51 45.71 L 70.68 45.89 L 71.36 48.34 L 71.53 48.66 L 71.87 50.37 L 72.04 50.76 L 72.38 52.32 L 72.55 52.72 L 73.06 54.67 L 73.22 56.03 L 73.39 55.89 L 73.73 57.75 L 73.9 58.02 L 74.24 59.53 L 74.75 61.58 L 74.92 62.02 L 77.8 76.98 L 78.14 79.58 L 78.48 81.53 L 78.81 84.3 L 79.32 87.49 L 79.66 90.03 L 80.17 93.32 L 81.69 102.78 L 83.39 112.14 L 83.73 113.75 L 84.4 117.32 L 84.57 117.93 L 84.91 119.71 L 85.42 122.11 L 85.59 122.43 L 86.44 126.97 L 86.61 127.5 L 86.77 128.83 L 86.94 128.89 L 88.64 136.36 L 88.81 136.74 L 89.65 140.67 L 89.82 140.88 L 90.67 144.59 L 91.01 145.62 L 91.18 145.86 L 91.52 147.7 L 91.86 149.08 L 92.03 149.31 L 92.7 151.76 L 95.24 160.94 L 95.41 160.85 L 95.75 161.91 L 96.26 162.91 L 96.43 163.42 L 96.6 163.43 L 96.94 164.29 L 97.11 164.33 L 97.28 164.81 L 97.45 164.47 L 97.62 164.88 L 97.78 164.82 L 98.12 165.64 L 98.46 165.71 L 98.63 166.11 L 98.8 166.05 L 98.97 166.26 L 99.14 166.07 L 99.31 166.65 L 99.48 166.44 L 99.82 167.12 L 99.99 167.21 L 100.16 167.46 L 100.49 167.36 L 100.83 167.83 L 101.51 168.96 L 101.68 169.51 L 101.85 169.35 L 102.02 170.17 L 102.19 170.03 L 102.36 170.51 L 102.53 170.65 L 102.87 171.79 L 103.04 171.94 L 103.37 172.85 L 103.88 174.1 L 104.39 175.74 L 104.56 175.76 L 104.73 176.38 L 104.9 176.34 L 105.07 176.71 L 105.24 177.74 L 105.41 177.72 L 106.25 179.89 L 106.42 179.91 L 106.93 180.96 L 107.1 180.85 L 107.27 181.05 L 107.44 181.63 L 107.78 181.8 L 107.95 182.09 L 108.12 181.82 L 108.46 182.72 L 108.79 182.9 L 108.96 182.61 L 109.13 183.27 L 109.47 183.47 L 109.64 183.74 L 109.81 183.46 L 109.98 184.17 L 110.15 184.08 L 110.66 184.92 L 110.83 184.49 L 111 185.01 L 111.17 185.13 L 111.5 185.56 L 111.67 185.45 L 111.84 185.51 L 112.52 186.22 L 112.69 186.19 L 113.2 186.59 L 113.37 186.6 L 113.71 187.15 L 114.04 186.94 L 114.21 187.46 L 114.55 187.65 L 114.72 187.5 L 114.89 188.19 L 115.06 187.86 L 115.23 187.8 L 115.4 188.28 L 115.57 187.93 L 115.91 188.51 L 116.08 188.45 L 116.25 188.88 L 116.42 188.77 L 116.59 188.4 L 116.75 189 L 116.92 188.55 L 117.09 189 L 117.26 188.87 L 117.43 189.13 L 117.6 189.64 L 117.94 189.34 L 118.28 189.74 L 118.45 189.47 L 118.79 189.99 L 119.13 189.62 L 119.3 189.93 L 119.63 189.66 L 119.97 190.27 L 120.14 190.35 L 120.48 190.03 L 120.65 190.2 L 120.82 190.19 L 120.99 190.43 L 121.16 190.33 L 121.33 190.52 L 121.5 190.54 L 121.84 190.86 L 122.01 190.7 L 122.34 190.87 L 122.51 190.6 L 122.68 190.79 L 122.85 190.25 L 123.19 191.01 L 123.36 190.78 L 123.7 191.14 L 123.87 190.84 L 124.21 191.72 L 124.38 191.02 L 124.55 191.33 L 124.72 190.97 L 125.05 191.56 L 125.22 191.09 L 125.39 191.63 L 125.73 191.24 L 126.07 191.62 L 126.41 191.54 L 126.58 191.9 L 126.75 191.68 L 126.92 191.74 L 127.09 191.45 L 127.26 192.01 L 127.43 192.17 L 127.59 191.91 L 127.76 192.18 L 127.93 192.11 L 128.1 192.19 L 128.27 192.05 L 128.44 192.45 L 128.61 192.4 L 128.78 192.92 L 129.12 192.26 L 129.29 192.73 L 129.63 192.95 L 129.8 192.66 L 129.97 192.79 L 130.14 193.11 L 130.31 192.81 L 130.47 192.95 L 130.64 192.91 L 130.81 193.23 L 130.98 192.83 L 131.32 193.29 L 131.66 193.42 L 131.83 193.27 L 132 193.53 L 132.17 193.33 L 132.34 193.47 L 132.51 193.38 L 132.85 193.74 L 133.02 194.14 L 133.18 193.77 L 133.35 193.72 L 133.52 193.89 L 133.69 193.85 L 133.86 194.09 L 134.03 194.11 L 134.2 194.26 L 134.37 193.87 L 134.71 194.29 L 135.05 194.29 L 135.22 194.03 L 135.56 194.5 L 135.73 194.13 L 136.06 194.27 L 136.74 194.43 L 136.91 194.75 L 137.08 194.36 L 137.25 194.62 L 137.42 194.31 L 137.59 195.1 L 137.76 194.62 L 137.93 194.59 L 138.1 194.87 L 138.44 194.72 L 138.6 194.77 L 138.77 195.01 L 138.94 194.96 L 139.11 194.77 L 139.28 194.74 L 139.45 194.99 L 139.79 195.02 L 139.96 194.89 L 140.13 195.3 L 140.3 195.37 L 140.47 195.13 L 140.64 195.38 L 141.15 195.15 L 141.31 195.46 L 141.48 195.14 L 141.65 195.64 L 141.82 195.23 L 141.99 195.64 L 142.16 195.61 L 142.33 195.28 L 142.67 195.58 L 143.18 195.51 L 143.35 195.53 L 143.52 195.35 L 143.69 195.7 L 144.02 195.7 L 144.19 195.41 L 144.53 195.43 L 144.7 195.69 L 144.87 195.74 L 145.04 195.57 L 145.21 195.82 L 145.38 195.62 L 145.55 195.66 L 145.72 195.94 L 146.23 195.55 L 146.4 195.42 L 146.57 195.93 L 146.73 195.93 L 146.9 196.38 L 147.07 195.94 L 147.24 196 L 147.41 196.22 L 147.58 195.9 L 147.75 196.35 L 148.09 196.08 L 148.26 196.36 L 148.43 195.99 L 148.6 195.98 L 148.77 196.45 L 148.94 196.47 L 149.11 196.13 L 149.44 196.51 L 149.78 196.35 L 149.95 196.38 L 150.12 196.23 L 150.29 196.33 L 150.46 196.1 L 150.97 196.3 L 151.14 196.28 L 151.31 196.42 L 151.48 196.8 L 151.65 196.45 L 151.82 196.63 L 151.99 196.36 L 152.15 196.67 L 152.66 196.46 L 153 196.87 L 153.17 196.8 L 153.34 196.96 L 153.51 196.88 L 153.85 196.92 L 154.02 196.65 L 154.19 197.11 L 154.36 197.06 L 154.53 197.13 L 154.7 197.01 L 154.86 197.37 L 155.37 197.16 L 155.88 197.51 L 156.22 197.16 L 156.56 197.45 L 156.73 197.44 L 156.9 197.72 L 157.41 197.6 L 157.57 197.69 L 157.74 197.94 L 157.91 197.55 L 158.08 197.48 L 158.25 197.87 L 158.42 197.79 L 158.76 197.79 L 158.93 198.23 L 159.1 197.7 L 159.27 198.11 L 159.44 197.83 L 159.78 198.2 L 159.95 198.19 L 160.12 198.04 L 160.29 198.39 L 160.62 198.39 L 160.79 198.64 L 160.96 198.13 L 161.3 198.44 L 161.47 198.26 L 161.64 198.67 L 161.81 198.54 L 161.98 198.25 L 162.15 198.42 L 162.49 199.26 L 162.83 198.53 L 163 198.84 L 163.33 198.71 L 163.5 199 L 163.84 198.76 L 164.35 199.1 L 164.52 198.93 L 164.69 199.13 L 165.03 198.65 L 165.37 199.55 L 165.71 199.15 L 166.04 199.07 L 166.21 199.43 L 166.38 199.46 L 166.55 199.11 L 166.72 199.56 L 166.89 199.19 L 167.06 199.45 L 167.23 199.29 L 167.74 199.35 L 167.91 199.69 L 168.08 199.48 L 168.42 199.52 L 168.58 199.37 L 168.92 199.75 L 169.26 199.72 L 169.43 199.54 L 169.6 199.84 L 169.77 199.51 L 170.28 200 L 170.62 199.67 L 170.79 200.12 L 170.96 199.61 L 171.13 199.55 L 171.29 199.8 L 171.46 199.78 L 171.63 199.46 L 171.97 200.07 L 172.14 199.93 L 172.48 199.99 L 172.65 200.39 L 172.82 199.85 L 172.99 200.12 L 173.16 199.99 L 173.33 200.05 L 173.5 199.89 L 173.84 200.21 L 174.17 199.85 L 174.34 200.17 L 174.51 199.88 L 174.85 200.25 L 175.02 199.9 L 175.19 200.32 L 175.36 200.01 L 175.53 200.29 L 175.7 200.14 L 175.87 200.44 L 176.04 200.39 L 176.21 200.07 L 176.55 200.27 L 176.71 200.37 L 176.88 200.22 L 177.05 200.56 L 177.22 200.52 L 177.39 200.36 L 177.56 200.49 L 178.24 200.43 L 178.41 200.11 L 178.58 200.24 L 178.75 200.21 L 179.09 200.54 L 179.26 200.71 L 179.42 200.53 L 179.59 200.85 L 180.1 200.23 L 180.27 200.36 L 180.44 200.69 L 180.61 200.46 L 180.78 200.69 L 180.95 200.42 L 181.12 200.6 L 181.46 200.15 L 181.63 200.45 L 181.8 200.21 L 181.97 200.6 L 182.13 200.7 L 182.3 200.42 L 182.47 200.36 L 182.64 200.77 L 182.81 200.67 L 182.98 200.94 L 183.32 200.56 L 183.83 200.99 L 184 200.69 L 184.34 200.67 L 184.51 200.74 L 184.68 201.01 L 184.84 200.5 L 185.01 200.82 L 185.18 200.85 L 185.35 200.7 L 185.52 201.21 L 185.69 200.85 L 186.03 200.81 L 186.2 200.65 L 186.37 200.81 L 186.54 201.22 L 186.88 200.88 L 187.05 200.9 L 187.39 201.23 L 187.55 200.86 L 187.89 200.97 L 188.06 201.28 L 188.23 200.68 L 188.4 201.5 L 188.74 200.65 L 188.91 201.05 L 189.08 200.99 L 189.25 201.24 L 189.42 200.81 L 189.59 201.27 L 189.76 201.02 L 189.93 201.04 L 190.1 201.26 L 190.26 200.93 L 190.43 201.33 L 190.77 201.11 L 190.94 201.18 L 191.28 200.97 L 191.62 201.24 L 191.96 201.22 L 192.13 201.03 L 192.3 201.21 L 192.47 201.11 L 192.81 201.34 L 192.98 201.05 L 193.14 201.38 L 193.48 200.97 L 193.65 201.42 L 193.82 201.25 L 193.99 201.51 L 194.16 201.34 L 194.33 201.51 L 194.5 201.33 L 194.67 201.36 L 194.84 201.26 L 195.01 201.02 L 195.18 201.25 L 195.35 201.19 L 196.02 201.64 L 196.36 201.07 L 196.7 201.45 L 196.87 201.09 L 197.04 201.45 L 197.55 201.56 L 197.72 201.45 L 197.89 201.08 L 198.23 201.61 L 198.56 201.49 L 198.73 201.75 L 199.07 201.35 L 199.41 201.39 L 199.58 201.72 L 199.75 201.8 L 199.92 201.3 L 200.09 201.34 L 200.26 201.8 L 200.43 201.51 L 200.6 201.55 L 200.77 201.47 L 201.27 201.56 L 201.61 201.62 L 201.95 202.14 L 202.12 201.78 L 202.29 201.93 L 202.46 201.62 L 203.14 201.7 L 203.31 201.53 L 203.48 201.86 L 203.65 201.59 L 203.98 201.73 L 204.15 201.55 L 204.32 201.92 L 204.49 201.66 L 204.66 201.99 L 205 202.04 L 205.17 201.8 L 205.34 202.05 L 205.51 201.9 L 205.68 202.11 L 206.02 201.65 L 206.19 201.93 L 206.36 201.71 L 206.53 201.91 L 206.69 201.66 L 207.03 202.31 L 207.2 201.82 L 207.54 202.28 L 207.71 202.23 L 207.88 202.41 L 208.05 202.18 L 208.22 202.35 L 208.39 201.95 L 208.56 202.1 L 208.73 202.51 L 208.9 202.5 L 209.07 202.36 L 209.24 202.6 L 209.4 202.32 L 209.57 202.33 L 209.74 202.47 L 209.91 202.45 L 210.25 202.16 L 210.42 202.17 L 210.59 202.43 L 210.76 202.31 L 210.93 202.6 L 211.1 202.42 L 211.27 202.67 L 211.44 202.41 L 211.61 202.75 L 211.78 202.73 L 212.11 202.51 L 212.28 202.86 L 212.62 202.64 L 212.79 202.64 L 212.96 202.84 L 213.13 202.7 L 213.3 202.78 L 213.47 202.53 L 213.64 202.68 L 213.98 203.18 L 214.32 202.65 L 214.49 202.84 L 214.66 202.74 L 214.99 203.15 L 215.16 202.82 L 215.33 202.94 L 215.5 202.86 L 215.67 203.22 L 215.84 202.98 L 216.01 203.13 L 216.18 202.91 L 216.35 203.15 L 216.69 203.19 L 216.86 202.9 L 217.2 203.26 L 217.53 203.34 L 217.7 202.94 L 217.87 203.5 L 218.38 203.05 L 218.55 203.28 L 218.72 203.14 L 219.23 203.3 L 219.4 203.05 L 219.57 203.32 L 219.74 203.09 L 219.91 203.53 L 220.08 203.21 L 220.24 203.58 L 220.41 203.63 L 220.58 203.32 L 220.75 203.54 L 220.92 203.35 L 221.09 203.61 L 221.26 203.18 L 221.6 203.65 L 221.94 203.34 L 222.11 203.62 L 222.45 203.18 L 222.96 203.64 L 223.12 203.46 L 223.46 204.07 L 223.63 203.69 L 223.8 203.77 L 223.97 203.32 L 224.31 203.78 L 224.48 203.82 L 224.65 203.56 L 224.82 203.78 L 225.83 203.49 L 226 203.43 L 226.17 203.98 L 226.34 203.31 L 226.51 203.71 L 226.68 203.54 L 226.85 203.87 L 227.02 203.71 L 227.36 203.76 L 227.53 203.65 L 227.7 203.69 L 227.87 203.96 L 228.21 203.7 L 228.38 203.72 L 228.54 203.89 L 228.88 203.88 L 229.22 204.08 L 229.39 203.63 L 229.56 203.95 L 229.73 203.88 L 229.9 204.02 L 230.07 203.7 L 230.24 203.64 L 230.41 203.96 L 230.58 203.85 L 230.75 204.07 L 230.92 203.67 L 231.09 203.81 L 231.25 204.11 L 231.42 203.78 L 231.59 203.93 L 231.93 203.95 L 232.1 204.12 L 232.27 204.11 L 232.44 203.93 L 232.78 204.2 L 232.95 203.74 L 233.12 204.1 L 233.46 204.2 L 233.8 203.95 L 233.96 204.08 L 234.13 203.99 L 234.3 204.38 L 234.47 204.21 L 234.81 204.17 L 234.98 204.1 L 235.15 204.51 L 235.32 203.7 L 235.49 204.35 L 235.83 204.1 L 236.17 204.21 L 236.34 204.73 L 236.67 204.17 L 236.84 204.44 L 237.01 204.48 L 237.18 204.7 L 237.35 204.14 L 237.86 204.39 L 238.03 204.4 L 238.2 204.57 L 238.71 204.35 L 238.88 204.25 L 239.22 204.55 L 239.38 204.42 L 239.72 204.71 L 239.89 204.34 L 240.06 204.6 L 240.4 204.46 L 240.57 204.75 L 240.74 204.49 L 241.42 204.77 L 241.59 205.01 L 241.76 204.72 L 241.93 204.83 L 242.09 204.57 L 242.43 204.81 L 242.94 204.59 L 243.45 204.86 L 244.13 204.83 L 244.47 205.16 L 244.64 205.18 L 245.14 204.77 L 245.48 205.23 L 245.65 204.88 L 245.82 204.94 L 245.99 205.24 L 246.16 204.88 L 246.33 205.03 L 246.5 204.87 L 246.67 205.03 L 246.84 204.96 L 247.51 205.26 L 247.68 205.04 L 248.02 205.44 L 248.19 205.11 L 248.53 205.02 L 248.7 205.09 L 248.87 205.5 L 249.21 205.38 L 249.38 205.31 L 249.55 205.66 L 249.72 205.34 L 249.89 205.31 L 250.06 205.51 L 250.39 205.2 L 250.56 205.4 L 250.73 205.25 L 251.24 205.39 L 251.41 205.52 L 251.58 205.29 L 251.75 205.56 L 251.92 205.61 L 252.09 205.41 L 252.26 205.64 L 252.6 205.39 L 252.77 205.55 L 252.93 205.56 L 253.1 205.44 L 253.27 205.48 L 253.61 205.82 L 253.78 205.42 L 253.95 205.58 L 254.12 205.97 L 254.46 205.67 L 254.63 205.83 L 254.8 205.62 L 254.97 205.69 L 255.14 205.64 L 255.31 205.91 L 255.65 205.45 L 255.81 205.88 L 255.98 205.57 L 256.49 205.81 L 256.66 205.99 L 256.83 205.96 L 257 205.72 L 257.68 205.74 L 258.02 206.08 L 258.36 205.85 L 258.52 205.92 L 258.69 206.17 L 258.86 206.03 L 259.03 206.19 L 259.2 205.95 L 259.37 206.14 L 259.71 205.96 L 259.88 206 L 260.05 205.82 L 260.39 206.38 L 260.56 205.91 L 260.9 205.86 L 261.07 206.04 L 261.4 206.09 L 261.57 206.31 L 261.91 206.06 L 262.08 206.23 L 262.25 205.87 L 262.42 206.4 L 262.76 206.02 L 263.1 206.38 L 263.27 206.42 L 263.44 206.33 L 263.61 206.01 L 263.78 206.18 L 263.94 206.17 L 264.11 206.34 L 264.28 206.14 L 264.62 206.43 L 265.13 206.14 L 265.3 206.33 L 265.47 206.26 L 265.64 206.04 L 265.81 206.47 L 265.98 206.54 L 266.15 206.22 L 266.49 206.4 L 266.65 206.35 L 266.82 206.45 L 266.99 206.33 L 267.16 206.47 L 267.33 206.3 L 267.5 206.61 L 268.35 206.48 L 268.52 206.56 L 268.69 206.45 L 269.2 206.68 L 270.04 206.46 L 270.21 206.28 L 270.55 206.59 L 270.72 206.32 L 270.89 206.4 L 271.06 206.65 L 271.4 206.43 L 271.57 206.56 L 271.74 206.45 L 271.91 206.55 L 272.07 206.51 L 272.24 206.67 L 272.41 206.57 L 272.58 206.69 L 272.75 206.54 L 272.92 206.9 L 273.26 206.47 L 273.6 206.67 L 273.77 206.59 L 273.94 206.8 L 274.45 206.72 L 274.62 206.56 L 274.78 206.84 L 274.95 206.56 L 275.12 206.95 L 275.63 206.56 L 275.97 207.06 L 276.14 206.68 L 276.82 206.87 L 277.16 206.68 L 277.33 207 L 277.49 206.45 L 277.66 206.79 L 277.83 206.85 L 278 206.7 L 278.17 206.79 L 278.34 206.47 L 278.85 206.88 L 279.19 206.88 L 279.36 206.74 L 279.53 206.93 L 279.7 206.61 L 279.87 206.86 L 280.04 206.87 L 280.2 206.72 L 280.37 207.15 L 280.71 206.78 L 281.05 206.88 L 281.22 206.83 L 281.39 206.98 L 281.56 206.92 L 281.9 207.18 L 282.07 206.72 L 282.24 207.05 L 282.41 207.02 L 282.58 206.72 L 282.75 206.77 L 282.91 207.01 L 283.42 207.08 L 283.59 206.87 L 283.93 206.94 L 284.44 206.7 L 284.61 206.76 L 284.78 207.23 L 284.95 206.85 L 285.12 207.15 L 285.29 207.2 L 285.46 206.9 L 285.63 207.1 L 285.79 207.05 L 285.96 206.86 L 286.13 207.11 L 286.3 207.15 L 286.64 206.86 L 286.81 206.96 L 286.98 207.27 L 287.49 206.78 L 287.83 206.94 L 288 206.9 L 288.17 207.12 L 288.5 207.02 L 288.67 207.23 L 289.01 207.02 L 289.18 207.26 L 289.35 206.99 L 289.69 206.97 L 289.86 207.23 L 290.2 206.92 L 290.37 207.02 L 290.54 207.25 L 290.88 206.95 L 291.05 207.17 L 291.21 207.11 L 291.38 206.8 L 291.55 207.17 L 291.72 207.19 L 291.89 207.32 L 292.06 207.28 L 292.23 206.98 L 292.57 207.37 L 292.91 207.2 L 293.08 207.1 L 293.25 207.32 L 293.42 207.12 L 293.59 207.29 L 293.92 207.16 L 294.09 207.15 L 294.26 207.3 L 294.6 207.18 L 294.77 207.44 L 295.11 207.19 L 295.28 207.12 L 295.62 207.31 L 295.79 207.27 L 295.96 207.39 L 296.47 207.26 L 296.63 207.46 L 296.8 207.36 L 296.97 207.62 L 297.14 207.21 L 297.31 207.4 L 297.48 207.3 L 297.65 207.49 L 298.16 207.22 L 298.33 207.55 L 298.5 207.25 L 298.84 207.48 L 299.01 207.31 L 299.34 207.43 L 299.51 207.49 L 299.68 207.37 L 300.36 207.49 L 300.7 207.25 L 300.87 207.44 L 301.04 207.25 L 301.38 207.61 L 301.55 207.37 L 301.72 207.6 L 302.05 207.33 L 302.22 207.53 L 302.39 207.5 L 302.56 207.15 L 302.73 207.47 L 303.58 207.48 L 303.75 207.87 L 303.92 207.35 L 304.09 207.7 L 304.43 207.49 L 304.76 207.75 L 304.93 207.55 L 305.1 207.75 L 305.27 207.69 L 305.44 207.81 L 306.12 207.59 L 306.29 207.51 L 306.63 207.74 L 306.8 207.7 L 306.97 207.44 L 307.14 207.67 L 307.81 207.65 L 308.49 207.85 L 308.83 207.65 L 309 207.64 L 309.34 207.89 L 309.51 207.7 L 309.68 207.71 L 309.85 208.01 L 310.02 207.7 L 310.18 207.74 L 310.35 207.6 L 310.52 207.99 L 310.69 208.02 L 310.86 207.75 L 311.03 208.11 L 311.2 207.97 L 311.71 208.16 L 312.05 207.79 L 312.56 207.99 L 312.73 207.76 L 312.89 207.89 L 313.06 207.83 L 313.23 208.19 L 313.4 207.95 L 313.57 208.16 L 313.74 207.96 L 313.91 207.99 L 314.08 208.18 L 314.42 207.89 L 315.1 208.18 L 315.27 208.25 L 315.6 207.96 L 316.11 208.3 L 316.28 208.1 L 316.45 208.2 L 316.62 208.44 L 316.79 208.43 L 316.96 208.25 L 317.13 208.33 L 317.3 208 L 317.64 208.38 L 317.81 208.32 L 317.98 208.05 L 318.15 208.4 L 318.32 208.18 L 318.48 208.24 L 318.65 208.11 L 318.99 208.38 L 319.16 208.27 L 319.33 208.34 L 319.5 208.23 L 319.67 208.38 L 319.84 208.12 L 320.01 208.41 L 320.18 208.35 L 320.35 208.51 L 320.69 208.44 L 321.03 208.34 L 321.03 208.34 
" clip-path="url(#p1e43ecd677)" style="fill: none; stroke: #1f77b4; stroke-linecap: square"/>
<g clip-path="url(#p1e43ecd677)">
<path d="M -0 1.3 L 1.3 -1.3 L -1.3 -1.3 z
" transform="translate(67.13 38.81)" style="fill: #1f77b4; stroke: #1f77b4; stroke-linejoin: miter"/>
<path d="M -0 1.3 L 1.3 -1.3 L -1.3 -1.3 z
" transform="translate(84.06 115.63)" style="fill: #1f77b4; stroke: #1f77b4; stroke-linejoin: miter"/>
<path d="M -0 1.3 L 1.3 -1.3 L -1.3 -1.3 z
" transform="translate(101 168.06)" style="fill: #1f77b4; stroke: #1f77b4; stroke-linejoin: miter"/>
<path d="M -0 1.3 L 1.3 -1.3 L -1.3 -1.3 z
" transform="translate(117.94 189.34)" style="fill: #1f77b4; stroke: #1f77b4; stroke-linejoin: miter"/>
<path d="M -0 1.3 L 1.3 -1.3 L -1.3 -1.3 z
" transform="translate(134.88 194.3)" style="fill: #1f77b4; stroke: #1f77b4; stroke-linejoin: miter"/>
<path d="M -0 1.3 L 1.3 -1.3 L -1.3 -1.3 z
" transform="translate(151.82 196.63)" style="fill: #1f77b4; stroke: #1f77b4; stroke-linejoin: miter"/>
<path d="M -0 1.3 L 1.3 -1.3 L -1.3 -1.3 z
" transform="translate(168.75 199.62)" style="fill: #1f77b4; stroke: #1f77b4; stroke-linejoin: miter"/>
<path d="M -0 1.3 L 1.3 -1.3 L -1.3 -1.3 z
" transform="translate(185.69 200.85)" style="fill: #1f77b4; stroke: #1f77b4; stroke-linejoin: miter"/>
<path d="M -0 1.3 L 1.3 -1.3 L -1.3 -1.3 z
" transform="translate(202.63 201.64)" style="fill: #1f77b4; stroke: #1f77b4; stroke-linejoin: miter"/>
<path d="M -0 1.3 L 1.3 -1.3 L -1.3 -1.3 z
" transform="translate(219.57 203.32)" style="fill: #1f77b4; stroke: #1f77b4; stroke-linejoin: miter"/>
<path d="M -0 1.3 L 1.3 -1.3 L -1.3 -1.3 z
" transform="translate(236.51 204.33)" style="fill: #1f77b4; stroke: #1f77b4; stroke-linejoin: miter"/>
<path d="M -0 1.3 L 1.3 -1.3 L -1.3 -1.3 z
" transform="translate(253.44 205.68)" style="fill: #1f77b4; stroke: #1f77b4; stroke-linejoin: miter"/>
<path d="M -0 1.3 L 1.3 -1.3 L -1.3 -1.3 z
" transform="translate(270.38 206.5)" style="fill: #1f77b4; stroke: #1f77b4; stroke-linejoin: miter"/>
<path d="M -0 1.3 L 1.3 -1.3 L -1.3 -1.3 z
" transform="translate(287.32 207.06)" style="fill: #1f77b4; stroke: #1f77b4; stroke-linejoin: miter"/>
<path d="M -0 1.3 L 1.3 -1.3 L -1.3 -1.3 z
" transform="translate(304.26 207.6)" style="fill: #1f77b4; stroke: #1f77b4; stroke-linejoin: miter"/>
</g>
</g>
<g id="line2d_25">
<path d="M 67.13 38.81 L 67.3 39.2 L 67.47 39.04 L 67.8 39.95 L 67.97 39.87 L 68.14 40.26 L 68.31 41.3 L 68.48 41.18 L 68.65 41.3 L 68.82 41.66 L 68.99 42.32 L 69.16 42.3 L 69.5 43.49 L 70.18 45 L 70.35 45.68 L 70.51 45.87 L 70.85 47.26 L 71.02 47.44 L 71.53 49.74 L 73.22 56.23 L 73.56 58.15 L 73.73 58.22 L 75.77 67.72 L 76.27 71.02 L 77.29 76.52 L 77.63 78.57 L 77.8 79.28 L 78.48 84.06 L 78.81 85.84 L 81.19 101.97 L 82.2 108.7 L 82.71 111.75 L 83.05 113.91 L 86.44 133.57 L 86.61 134.07 L 86.94 135.99 L 87.45 138.2 L 87.79 139.8 L 89.82 147.53 L 89.99 148.83 L 90.16 148.95 L 90.67 151.35 L 90.84 151.88 L 91.35 154.39 L 91.86 156.48 L 92.7 160.48 L 93.55 164.03 L 93.72 163.91 L 94.06 164.96 L 94.23 165.12 L 94.57 166.02 L 94.74 165.87 L 95.07 166.74 L 95.58 167.8 L 95.75 167.68 L 95.92 168.43 L 96.09 168.54 L 96.77 170.1 L 96.94 169.65 L 97.11 169.9 L 97.28 170.52 L 97.62 170.77 L 97.78 171.31 L 97.95 170.98 L 98.12 171.76 L 98.29 171.91 L 98.46 172.53 L 98.63 171.9 L 98.8 172.4 L 98.97 172.31 L 99.14 173.04 L 99.31 172.99 L 99.65 173.45 L 99.82 173.3 L 99.99 173.49 L 100.49 174.45 L 100.66 174.6 L 101.34 176.05 L 101.68 176.09 L 101.85 176.87 L 102.19 177.05 L 102.36 177.76 L 102.53 177.79 L 102.7 178.37 L 102.87 178.42 L 103.2 179.01 L 103.71 179.63 L 103.88 180.3 L 104.05 179.75 L 104.39 180.71 L 104.73 180.83 L 104.9 181.27 L 105.41 181.44 L 105.58 181.84 L 105.75 181.74 L 106.08 182.13 L 106.25 181.99 L 106.59 182.72 L 106.76 182.55 L 107.27 182.92 L 107.44 182.62 L 107.61 183.14 L 107.78 183.2 L 107.95 183.44 L 108.12 183.24 L 108.46 183.85 L 108.62 184.03 L 108.79 183.79 L 108.96 183.84 L 109.13 184.38 L 109.64 184.13 L 109.81 184.67 L 110.15 184.42 L 110.32 184.76 L 110.66 184.92 L 110.83 185.15 L 111 184.96 L 111.17 184.98 L 111.33 185.39 L 111.67 185.04 L 111.84 185.29 L 112.01 185.21 L 112.18 185.57 L 112.35 185.26 L 112.52 185.74 L 112.69 185.28 L 112.86 185.8 L 113.2 186 L 113.54 186.04 L 113.88 186.12 L 114.04 185.98 L 114.21 185.99 L 114.38 186.28 L 114.55 186.03 L 114.72 186.52 L 115.06 186.65 L 115.23 186.36 L 115.4 186.83 L 115.57 186.85 L 115.74 186.39 L 115.91 186.36 L 116.08 186.48 L 116.25 187.08 L 116.59 186.73 L 116.75 186.93 L 116.92 187.31 L 117.09 187.11 L 117.26 187.43 L 117.43 187.39 L 117.6 186.8 L 118.11 187.66 L 118.28 187.34 L 118.45 187.6 L 118.62 187.43 L 118.79 187.72 L 119.13 187.65 L 119.46 188.17 L 119.97 187.99 L 120.48 188.01 L 120.65 188.33 L 120.82 187.94 L 120.99 187.88 L 121.16 188.25 L 121.33 188.34 L 121.5 188.19 L 122.34 188.94 L 122.51 188.66 L 122.68 188.62 L 122.85 189.11 L 123.19 189.01 L 123.53 189.34 L 123.7 189.35 L 123.87 189.74 L 124.04 189.46 L 124.21 189.59 L 124.38 189.22 L 124.72 189.87 L 124.88 189.9 L 125.05 189.67 L 125.22 189.79 L 125.73 190.65 L 125.9 190.53 L 126.07 190.6 L 126.24 190.8 L 126.41 190.42 L 126.58 191.19 L 126.75 190.94 L 127.26 190.83 L 127.43 191.49 L 127.93 191.4 L 128.27 191.69 L 128.44 191.41 L 128.61 191.87 L 128.78 191.84 L 128.95 191.51 L 129.12 191.52 L 129.8 192.23 L 129.97 192.33 L 130.14 192.25 L 130.31 191.98 L 130.64 192.46 L 130.98 192.64 L 131.15 192.24 L 131.32 192.9 L 131.49 192.52 L 131.66 192.89 L 131.83 192.86 L 132 192.99 L 132.17 192.58 L 132.34 192.82 L 132.51 192.34 L 132.68 193.1 L 132.85 193.16 L 133.02 192.89 L 133.18 192.94 L 133.52 193.52 L 133.69 192.92 L 134.2 193.45 L 134.37 193.26 L 134.54 193.54 L 134.71 193.48 L 134.88 193.54 L 135.05 193.35 L 135.22 193.72 L 135.39 193.75 L 135.56 193.53 L 135.89 193.84 L 136.06 193.94 L 136.23 193.76 L 136.4 194.11 L 136.74 193.71 L 137.08 194.34 L 137.25 194.47 L 137.42 194.27 L 137.76 194.7 L 137.93 194.59 L 138.1 194.7 L 138.27 194.39 L 138.44 194.87 L 138.6 194.35 L 138.77 194.84 L 139.11 194.68 L 139.28 194.81 L 139.45 194.77 L 139.79 195.43 L 139.96 195.09 L 140.13 195.42 L 140.47 195.03 L 140.81 195.42 L 140.98 195.56 L 141.15 195.46 L 141.31 195.49 L 141.48 195.8 L 141.65 195.5 L 141.82 195.8 L 141.99 195.61 L 142.16 195.79 L 142.33 195.57 L 142.5 195.65 L 142.84 195.92 L 143.35 195.85 L 143.52 196.07 L 143.69 196.09 L 143.86 195.9 L 144.02 196.55 L 144.19 196.19 L 144.36 196.51 L 144.53 196.14 L 144.7 196.53 L 144.87 196.51 L 145.04 196.74 L 145.55 196.37 L 145.72 196.96 L 145.89 196.86 L 146.06 196.11 L 146.4 196.93 L 146.57 196.88 L 146.73 197.51 L 146.9 196.77 L 147.24 197.43 L 147.41 197 L 147.75 197.5 L 147.92 197.26 L 148.09 197.33 L 148.26 197.54 L 148.43 197.51 L 148.77 197.86 L 148.94 197.48 L 149.11 197.45 L 149.61 197.91 L 149.78 197.91 L 149.95 198.1 L 150.12 197.66 L 150.29 198.13 L 150.46 198 L 150.63 198.12 L 150.8 198.42 L 150.97 197.86 L 151.14 198.33 L 151.31 198.45 L 151.48 198.34 L 151.65 198.57 L 151.82 198.45 L 151.99 198.67 L 152.15 198.44 L 152.32 198.58 L 152.49 198.89 L 152.66 198.5 L 153 198.98 L 153.17 198.76 L 153.34 198.8 L 153.51 198.59 L 153.68 199.13 L 153.85 198.87 L 154.02 199.09 L 154.19 199.01 L 154.36 199.21 L 154.7 199.17 L 155.03 199.74 L 155.2 199.41 L 155.37 199.54 L 155.71 199.44 L 155.88 199.64 L 156.05 199.43 L 156.22 199.71 L 156.73 199.74 L 156.9 199.91 L 157.07 199.92 L 157.24 200.13 L 157.57 200.07 L 157.74 199.99 L 157.91 200.26 L 158.25 199.93 L 158.42 199.94 L 158.59 200.37 L 158.76 200.24 L 159.1 200.38 L 159.61 200.52 L 159.95 200.81 L 160.45 200.68 L 160.62 200.88 L 160.96 200.78 L 161.13 201.26 L 161.47 201.08 L 161.81 201.45 L 161.98 201.14 L 162.32 201.59 L 162.49 201.11 L 162.66 201.73 L 162.83 201.54 L 163 201.71 L 163.33 201.57 L 163.5 201.86 L 163.67 201.78 L 163.84 201.83 L 164.01 202.03 L 164.18 201.68 L 164.52 202.03 L 164.86 202.12 L 165.03 202.07 L 165.2 202.22 L 165.37 201.96 L 165.54 202.68 L 165.71 202.64 L 165.87 202.34 L 166.04 202.67 L 166.21 202.39 L 166.38 202.53 L 166.55 202.35 L 166.72 202.42 L 166.89 202.29 L 167.4 202.54 L 167.57 202.48 L 168.25 203.03 L 168.42 202.76 L 168.58 203.3 L 168.75 202.91 L 168.92 203.08 L 169.09 202.85 L 169.43 203.17 L 169.6 203.07 L 169.77 203.51 L 169.94 203.09 L 170.11 203.08 L 170.28 203.52 L 170.45 203.08 L 170.62 203.28 L 170.79 203.26 L 170.96 203.57 L 171.13 203.24 L 171.46 203.41 L 171.63 203.61 L 171.8 203.33 L 171.97 203.28 L 172.14 203.46 L 172.31 203.38 L 172.48 203.69 L 172.82 203.57 L 172.99 203.64 L 173.16 203.2 L 173.5 203.85 L 173.67 203.63 L 173.84 204 L 174.17 203.73 L 174.34 203.98 L 174.51 203.97 L 174.68 204.11 L 174.85 203.95 L 175.02 204.11 L 175.19 203.72 L 175.7 204.35 L 175.87 203.77 L 176.38 204.17 L 176.71 204.34 L 176.88 203.95 L 177.22 204.58 L 177.39 204.47 L 177.56 204.83 L 177.73 204.29 L 177.9 204.29 L 178.24 204.11 L 178.41 204.64 L 178.75 204.38 L 178.92 204.44 L 179.09 204.69 L 179.26 204.48 L 179.42 204.56 L 179.59 204.43 L 179.93 204.76 L 180.44 204.92 L 181.29 204.71 L 181.46 204.82 L 181.63 205.15 L 181.97 204.79 L 182.13 205.24 L 183.15 205.08 L 183.32 205.38 L 183.49 205.22 L 183.83 205.41 L 184 205.08 L 184.17 205.28 L 184.34 205.21 L 184.51 205.38 L 184.68 205.23 L 184.84 205.26 L 185.18 205.72 L 185.35 205.29 L 186.2 205.5 L 186.37 205.73 L 186.71 205.54 L 187.05 205.81 L 187.22 205.34 L 187.55 205.75 L 187.72 205.8 L 187.89 206.19 L 188.4 205.58 L 188.57 206.17 L 188.74 205.96 L 188.91 205.53 L 189.25 205.82 L 189.42 205.71 L 189.59 205.95 L 189.76 205.98 L 190.1 205.84 L 190.26 206.19 L 190.43 205.76 L 190.6 206.34 L 190.77 206.18 L 190.94 205.55 L 191.11 206.18 L 191.28 206 L 191.45 206.3 L 191.62 206.2 L 191.96 206.25 L 192.3 205.92 L 192.47 206.09 L 192.64 205.99 L 192.81 206.36 L 192.98 206.04 L 193.14 206.21 L 193.31 206.09 L 193.48 206.41 L 193.65 206.4 L 193.82 206.14 L 194.33 206.55 L 194.84 206.36 L 195.01 206.59 L 195.35 206.46 L 195.52 206.74 L 195.69 206.41 L 196.19 207.03 L 196.7 206.77 L 196.87 206.88 L 197.04 206.65 L 197.38 206.79 L 197.55 207.11 L 197.72 206.54 L 197.89 206.84 L 198.06 206.71 L 198.23 206.94 L 198.56 206.74 L 198.73 206.84 L 198.9 206.73 L 199.07 206.94 L 199.24 206.59 L 199.41 207.26 L 199.75 206.81 L 200.26 207.33 L 200.43 206.84 L 200.6 207.38 L 200.77 206.99 L 200.94 207.06 L 201.27 206.88 L 201.44 207.27 L 201.78 207.23 L 201.95 207.49 L 202.12 207.08 L 202.29 207.3 L 202.46 207.22 L 202.63 207.32 L 202.8 207.28 L 202.97 207.41 L 203.14 207.33 L 203.31 207.52 L 203.48 207.18 L 203.82 207.82 L 203.98 207.3 L 204.32 207.6 L 204.49 207.05 L 204.83 207.73 L 205.17 207.48 L 205.34 207.6 L 205.51 207.38 L 205.68 207.42 L 205.85 207.75 L 206.19 207.55 L 206.53 207.78 L 206.69 207.57 L 206.86 207.66 L 207.03 207.99 L 207.37 207.87 L 207.54 207.84 L 207.71 207.96 L 207.88 207.63 L 208.05 208.04 L 208.22 208.08 L 208.39 207.88 L 208.56 208.31 L 208.9 207.87 L 209.07 208.22 L 209.24 208.16 L 209.4 207.86 L 209.74 208.07 L 209.91 208.05 L 210.08 208.23 L 210.25 208.08 L 210.42 208.19 L 210.59 207.76 L 210.93 208.27 L 211.27 208.24 L 211.44 208.49 L 211.61 208.42 L 211.78 208.05 L 211.95 208.55 L 212.45 208.12 L 212.62 208.56 L 212.79 208.17 L 212.96 208.49 L 213.13 208.17 L 213.47 208.52 L 213.64 208.37 L 213.81 208.42 L 213.98 208.65 L 214.15 208.19 L 214.32 208.62 L 214.49 208.38 L 214.82 208.91 L 215.5 208.37 L 215.84 208.74 L 216.01 208.91 L 216.35 208.68 L 216.52 209.11 L 216.69 208.54 L 216.86 208.58 L 217.03 208.41 L 217.2 208.94 L 217.37 208.8 L 217.53 208.81 L 217.7 209.04 L 218.55 208.65 L 218.89 209.12 L 219.06 208.83 L 219.57 208.86 L 219.74 209.02 L 219.91 208.8 L 220.08 209.11 L 220.41 208.84 L 220.58 208.98 L 220.75 208.93 L 220.92 209.2 L 221.26 208.96 L 221.43 209.18 L 221.6 209.13 L 221.77 208.6 L 222.11 209.14 L 222.28 209.18 L 222.45 208.79 L 222.62 209.48 L 222.96 208.94 L 223.12 209.14 L 223.29 208.97 L 223.46 209.23 L 223.63 209.06 L 224.31 209.07 L 224.48 208.9 L 224.82 209.19 L 225.16 209.15 L 225.5 209.41 L 225.67 209.33 L 225.83 209.07 L 226 209.22 L 226.17 209.19 L 226.34 208.66 L 226.68 209.16 L 226.85 209.23 L 227.02 208.91 L 227.19 209.26 L 227.36 208.94 L 227.53 209.05 L 227.7 208.92 L 227.87 209.27 L 228.04 209.01 L 228.21 209.45 L 228.54 208.99 L 228.71 209.05 L 228.88 209.46 L 229.05 209.06 L 229.39 209.19 L 229.56 209.3 L 230.41 209.02 L 230.58 209.09 L 230.75 209.41 L 231.09 208.87 L 231.25 209.39 L 231.42 209.17 L 231.76 209.37 L 232.1 209.08 L 232.61 209.09 L 232.78 209.51 L 232.95 209.12 L 233.63 209.4 L 233.8 209.09 L 234.13 209.52 L 234.3 209.29 L 234.47 209.38 L 234.64 209.31 L 234.81 209.06 L 234.98 209.33 L 235.15 209.29 L 235.32 208.95 L 235.49 209.54 L 235.83 209.15 L 236.17 208.99 L 236.34 209.45 L 236.51 209.31 L 237.18 209.61 L 237.35 209.34 L 237.52 209.28 L 237.69 209.57 L 237.86 209.29 L 238.37 209.86 L 238.54 209.28 L 239.05 209.54 L 239.22 209.7 L 239.38 209.42 L 239.55 209.52 L 239.72 209.44 L 239.89 209.51 L 240.06 209.77 L 240.23 209.81 L 240.4 209.51 L 240.57 209.85 L 240.91 209.47 L 241.08 209.83 L 241.25 209.53 L 241.42 209.64 L 241.59 209.58 L 241.76 209.77 L 242.26 209.42 L 242.77 209.96 L 242.94 209.72 L 243.11 209.89 L 243.62 209.67 L 244.13 209.88 L 244.3 209.67 L 244.47 210.04 L 244.8 209.71 L 244.97 209.98 L 245.14 209.83 L 245.31 209.83 L 245.48 209.68 L 245.65 209.83 L 245.82 210.28 L 245.99 210.04 L 246.84 209.94 L 247.01 210.31 L 247.18 210.24 L 247.35 210.48 L 247.51 209.9 L 247.68 210.21 L 247.85 210.23 L 248.02 210.47 L 248.36 210.18 L 248.7 210.34 L 248.87 210.39 L 249.04 210 L 249.38 210.57 L 249.72 210.42 L 250.06 210.43 L 250.22 210.58 L 250.56 210.37 L 250.73 210.67 L 250.9 210.15 L 251.07 210.2 L 251.24 210.77 L 251.58 210.35 L 251.92 210.25 L 252.09 210.82 L 252.6 210.48 L 252.77 210.74 L 252.93 210.51 L 253.27 210.48 L 253.44 210.64 L 253.78 210.6 L 253.95 210.69 L 254.12 210.43 L 254.29 210.68 L 254.46 210.42 L 254.63 210.74 L 254.8 210.39 L 254.97 210.4 L 255.14 210.79 L 255.31 210.62 L 255.48 210.63 L 255.65 210.83 L 255.81 210.57 L 255.98 210.6 L 256.15 210.83 L 256.49 210.57 L 256.83 210.83 L 257 210.47 L 257.17 210.88 L 257.51 210.57 L 257.68 210.62 L 257.85 211.03 L 258.02 210.81 L 259.37 210.6 L 259.54 211.09 L 259.71 210.46 L 259.88 210.89 L 260.05 210.69 L 260.22 211.06 L 260.39 210.9 L 260.56 211.01 L 260.73 210.66 L 261.4 210.78 L 261.57 210.99 L 261.91 210.97 L 262.08 210.73 L 262.42 211.06 L 262.59 210.82 L 262.93 210.67 L 263.1 210.97 L 263.44 210.58 L 263.61 210.95 L 263.78 210.96 L 263.94 210.83 L 264.11 210.99 L 264.28 210.92 L 264.62 211.05 L 264.79 210.8 L 265.13 211.1 L 265.64 210.91 L 265.98 210.7 L 266.15 211.16 L 266.32 211.01 L 266.49 211.26 L 266.65 210.95 L 266.82 210.91 L 267.16 211.14 L 267.5 211.24 L 267.84 210.74 L 268.01 211.21 L 268.18 210.79 L 268.52 211.26 L 268.69 210.97 L 269.03 211.01 L 269.2 211.12 L 269.36 210.83 L 269.53 211.13 L 269.87 211 L 270.21 211.4 L 270.38 211.19 L 270.72 211.08 L 270.89 211.41 L 271.06 211.26 L 271.23 210.93 L 271.4 211.44 L 271.57 211.11 L 271.91 211.07 L 272.07 211.42 L 272.24 211.16 L 272.41 211.42 L 272.58 211.02 L 272.75 211.36 L 272.92 211.18 L 273.09 211.37 L 273.26 211.24 L 273.43 211.5 L 273.6 211.23 L 273.77 211.19 L 273.94 211.29 L 274.11 211.06 L 274.28 211.25 L 274.78 211.06 L 274.95 211.45 L 275.8 211.27 L 276.31 211.43 L 276.48 211.37 L 276.65 211.78 L 276.82 211.24 L 276.99 211.54 L 277.49 211.52 L 277.66 211.71 L 278 211.31 L 278.34 211.35 L 278.51 211.63 L 278.68 211.59 L 279.02 211.35 L 279.53 211.89 L 279.7 211.4 L 279.87 211.85 L 280.04 211.57 L 280.2 211.51 L 280.37 211.17 L 280.54 211.63 L 280.71 211.69 L 281.22 211.5 L 281.56 211.83 L 281.73 212.04 L 281.9 211.69 L 282.07 211.85 L 282.24 211.55 L 282.41 211.96 L 282.58 211.75 L 282.91 211.93 L 283.08 211.56 L 283.42 211.85 L 283.59 211.72 L 283.76 211.96 L 284.1 211.96 L 284.27 211.57 L 284.44 211.83 L 284.78 211.73 L 284.95 211.93 L 285.12 211.94 L 285.29 212.17 L 285.46 211.86 L 285.79 212.01 L 285.96 211.78 L 286.13 212.23 L 286.3 211.91 L 286.47 212.19 L 286.81 212.03 L 286.98 211.81 L 287.15 212.19 L 287.32 212.07 L 287.49 212.21 L 287.66 211.74 L 287.83 211.97 L 288 211.99 L 288.17 211.75 L 288.5 212.39 L 288.67 212.16 L 288.84 212.27 L 289.01 211.8 L 289.18 212.32 L 289.35 212.07 L 289.69 212.2 L 290.03 212.17 L 290.37 212.35 L 290.54 212.27 L 290.88 212.33 L 291.05 212.19 L 291.21 212.23 L 291.38 212.15 L 291.55 212.26 L 291.72 211.95 L 291.89 212.35 L 292.06 212.4 L 292.23 212.11 L 292.4 212.38 L 292.74 212.14 L 293.08 212.36 L 293.25 212.17 L 293.76 212.51 L 293.92 212.4 L 294.09 212.6 L 294.26 212.49 L 294.43 212.53 L 294.77 212.27 L 294.94 212.49 L 295.11 212.47 L 295.45 212.62 L 295.79 212.35 L 296.3 212.5 L 296.47 212.87 L 296.63 212.34 L 296.8 212.28 L 297.14 212.36 L 297.31 212.34 L 297.48 212.11 L 297.65 212.47 L 297.82 212.29 L 298.33 212.56 L 298.67 212.72 L 298.84 212.47 L 299.18 212.74 L 299.34 212.69 L 299.51 212.75 L 299.68 212.35 L 299.85 212.63 L 300.02 212.58 L 300.19 212.78 L 300.36 212.76 L 300.53 212.46 L 300.7 212.65 L 300.87 212.59 L 301.04 212.36 L 301.21 212.33 L 301.55 212.57 L 301.89 212.69 L 302.05 212.36 L 302.22 212.83 L 302.39 212.67 L 302.56 212.94 L 302.73 212.85 L 302.9 212.61 L 303.24 212.62 L 303.58 212.78 L 303.92 212.74 L 304.09 212.52 L 304.76 212.82 L 304.93 212.65 L 305.1 212.73 L 305.27 212.96 L 305.44 212.5 L 305.78 212.74 L 306.12 212.83 L 306.29 212.57 L 306.46 212.84 L 306.97 212.44 L 307.31 212.71 L 307.47 212.77 L 307.64 212.59 L 307.81 212.57 L 307.98 212.78 L 308.15 212.63 L 308.66 212.86 L 309 212.52 L 309.51 212.83 L 309.68 212.65 L 309.85 212.68 L 310.02 212.96 L 310.18 212.64 L 310.35 212.83 L 310.52 212.64 L 310.86 212.63 L 311.2 212.64 L 311.37 212.89 L 311.54 212.88 L 311.71 212.59 L 311.88 212.67 L 312.05 212.97 L 312.22 213.03 L 312.56 212.43 L 312.89 212.78 L 313.06 212.71 L 313.23 213.13 L 313.57 212.6 L 313.74 212.63 L 313.91 213.05 L 314.08 212.58 L 314.25 212.68 L 314.42 212.62 L 314.59 212.78 L 314.76 212.75 L 314.93 212.91 L 315.27 212.63 L 315.44 212.89 L 315.6 212.71 L 315.77 212.83 L 315.94 212.61 L 316.11 212.62 L 316.28 213.09 L 316.45 212.7 L 316.62 212.62 L 316.79 212.84 L 317.13 212.78 L 317.3 212.92 L 317.64 212.54 L 317.81 212.7 L 317.98 212.55 L 318.48 212.75 L 318.99 212.56 L 319.5 212.9 L 319.84 212.7 L 320.01 213.02 L 320.18 212.74 L 320.52 212.72 L 320.69 212.84 L 320.86 212.44 L 321.03 212.64 L 321.03 212.64 
" clip-path="url(#p1e43ecd677)" style="fill: none; stroke: #ff0000; stroke-linecap: square"/>
<g clip-path="url(#p1e43ecd677)">
<path d="M -1.3 1.3 L 1.3 1.3 L 1.3 -1.3 L -1.3 -1.3 z
" transform="translate(67.13 38.81)" style="fill: #ff0000; stroke: #ff0000; stroke-linejoin: miter"/>
<path d="M -1.3 1.3 L 1.3 1.3 L 1.3 -1.3 L -1.3 -1.3 z
" transform="translate(84.06 120.27)" style="fill: #ff0000; stroke: #ff0000; stroke-linejoin: miter"/>
<path d="M -1.3 1.3 L 1.3 1.3 L 1.3 -1.3 L -1.3 -1.3 z
" transform="translate(101 175.33)" style="fill: #ff0000; stroke: #ff0000; stroke-linejoin: miter"/>
<path d="M -1.3 1.3 L 1.3 1.3 L 1.3 -1.3 L -1.3 -1.3 z
" transform="translate(117.94 187.4)" style="fill: #ff0000; stroke: #ff0000; stroke-linejoin: miter"/>
<path d="M -1.3 1.3 L 1.3 1.3 L 1.3 -1.3 L -1.3 -1.3 z
" transform="translate(134.88 193.54)" style="fill: #ff0000; stroke: #ff0000; stroke-linejoin: miter"/>
<path d="M -1.3 1.3 L 1.3 1.3 L 1.3 -1.3 L -1.3 -1.3 z
" transform="translate(151.82 198.45)" style="fill: #ff0000; stroke: #ff0000; stroke-linejoin: miter"/>
<path d="M -1.3 1.3 L 1.3 1.3 L 1.3 -1.3 L -1.3 -1.3 z
" transform="translate(168.75 202.91)" style="fill: #ff0000; stroke: #ff0000; stroke-linejoin: miter"/>
<path d="M -1.3 1.3 L 1.3 1.3 L 1.3 -1.3 L -1.3 -1.3 z
" transform="translate(185.69 205.47)" style="fill: #ff0000; stroke: #ff0000; stroke-linejoin: miter"/>
<path d="M -1.3 1.3 L 1.3 1.3 L 1.3 -1.3 L -1.3 -1.3 z
" transform="translate(202.63 207.32)" style="fill: #ff0000; stroke: #ff0000; stroke-linejoin: miter"/>
<path d="M -1.3 1.3 L 1.3 1.3 L 1.3 -1.3 L -1.3 -1.3 z
" transform="translate(219.57 208.86)" style="fill: #ff0000; stroke: #ff0000; stroke-linejoin: miter"/>
<path d="M -1.3 1.3 L 1.3 1.3 L 1.3 -1.3 L -1.3 -1.3 z
" transform="translate(236.51 209.31)" style="fill: #ff0000; stroke: #ff0000; stroke-linejoin: miter"/>
<path d="M -1.3 1.3 L 1.3 1.3 L 1.3 -1.3 L -1.3 -1.3 z
" transform="translate(253.44 210.64)" style="fill: #ff0000; stroke: #ff0000; stroke-linejoin: miter"/>
<path d="M -1.3 1.3 L 1.3 1.3 L 1.3 -1.3 L -1.3 -1.3 z
" transform="translate(270.38 211.19)" style="fill: #ff0000; stroke: #ff0000; stroke-linejoin: miter"/>
<path d="M -1.3 1.3 L 1.3 1.3 L 1.3 -1.3 L -1.3 -1.3 z
" transform="translate(287.32 212.07)" style="fill: #ff0000; stroke: #ff0000; stroke-linejoin: miter"/>
<path d="M -1.3 1.3 L 1.3 1.3 L 1.3 -1.3 L -1.3 -1.3 z
" transform="translate(304.26 212.62)" style="fill: #ff0000; stroke: #ff0000; stroke-linejoin: miter"/>
</g>
</g>
<g id="line2d_26">
<path d="M 67.13 38.81 L 67.3 39.13 L 67.47 38.99 L 68.31 40.38 L 68.48 40.77 L 68.65 40.7 L 68.82 41.7 L 69.16 41.44 L 69.5 42.59 L 69.67 42.26 L 70.35 44.08 L 71.19 46.2 L 71.53 47.31 L 71.7 47.53 L 72.04 49.08 L 72.21 48.76 L 72.72 50.77 L 73.06 51.44 L 73.39 52.76 L 74.07 55.57 L 74.24 55.77 L 76.1 62.8 L 76.44 64.66 L 76.61 64.77 L 76.95 66.73 L 77.29 67.81 L 77.8 70.63 L 78.31 72.7 L 79.66 79.48 L 80 80.37 L 81.35 87.27 L 81.52 87.61 L 85.76 108.13 L 86.1 110.49 L 86.27 110.85 L 86.44 111.62 L 86.77 113.92 L 87.11 115.74 L 87.28 117.18 L 87.45 117.39 L 87.96 120.48 L 88.3 121.79 L 88.64 123.55 L 89.15 126.17 L 90.67 131.57 L 90.84 131.93 L 91.35 133.56 L 91.86 134.85 L 92.03 135.85 L 92.19 135.89 L 92.53 136.91 L 92.7 137.2 L 93.38 139 L 93.72 139.55 L 94.06 140.82 L 94.4 141.21 L 95.24 143.43 L 95.41 143.47 L 95.92 144.67 L 96.09 144.66 L 96.43 145.57 L 96.6 146.1 L 96.94 146.46 L 97.62 147.88 L 97.78 147.95 L 98.12 148.96 L 98.63 149.84 L 98.8 149.9 L 99.48 151.65 L 99.65 151.25 L 99.82 152.13 L 99.99 152.33 L 100.49 153.36 L 100.83 153.6 L 101 154.26 L 101.17 154.41 L 101.68 155.58 L 101.85 155.67 L 102.19 156.74 L 103.04 157.66 L 103.2 158.41 L 103.37 158.38 L 104.05 159.53 L 104.73 160.72 L 104.9 161.24 L 105.07 161.22 L 105.24 161.44 L 105.41 161.41 L 105.58 162.26 L 106.42 163.18 L 106.76 163.62 L 106.93 163.73 L 107.1 164.34 L 107.27 164.11 L 107.44 164.86 L 107.61 164.28 L 107.95 165.13 L 108.12 165 L 108.29 165.42 L 108.62 165.62 L 108.96 166.14 L 109.13 166.2 L 109.81 167.4 L 109.98 166.92 L 110.15 167.25 L 110.32 167.85 L 110.49 167.67 L 110.66 167.88 L 110.83 168.52 L 111.33 168.26 L 111.84 169.02 L 112.01 169.04 L 112.18 169.62 L 112.35 169.43 L 112.52 169.56 L 112.69 170.1 L 113.03 169.86 L 113.2 169.93 L 113.37 170.17 L 113.54 170.73 L 113.71 170.75 L 113.88 170.98 L 114.04 170.77 L 114.38 171.49 L 114.55 171.73 L 114.72 171.51 L 114.89 171.6 L 115.23 172.08 L 115.4 172.1 L 115.57 171.92 L 115.74 172.56 L 115.91 172.43 L 116.59 172.72 L 116.75 172.93 L 116.92 172.81 L 117.43 173.36 L 117.6 173.73 L 117.77 173.58 L 118.11 174.01 L 118.28 173.93 L 118.45 174.3 L 118.96 174.16 L 119.13 174.37 L 119.46 174.17 L 119.63 174.39 L 119.97 175.04 L 120.14 174.95 L 120.31 175.02 L 120.48 175.3 L 120.82 175.39 L 120.99 175.24 L 121.16 174.92 L 121.33 174.94 L 121.5 175.53 L 121.67 175.48 L 122.01 175.84 L 122.17 175.61 L 122.34 175.65 L 122.51 175.84 L 122.68 175.66 L 122.85 175.91 L 123.02 175.7 L 123.19 176.07 L 123.36 175.87 L 123.53 176.14 L 123.87 176.11 L 124.04 176.55 L 124.38 176.43 L 124.55 176.54 L 124.72 176.5 L 125.05 176.94 L 125.22 176.77 L 125.39 176.77 L 125.56 177.04 L 125.73 176.73 L 126.07 176.94 L 126.24 177.03 L 126.41 177.41 L 126.58 176.92 L 126.75 177.53 L 127.09 177.4 L 127.76 177.91 L 127.93 177.9 L 128.1 177.73 L 128.27 178.18 L 128.44 178 L 129.12 178.45 L 129.29 178.83 L 129.46 178.55 L 129.63 178.59 L 129.8 178.82 L 129.97 178.7 L 130.14 178.81 L 130.31 179.08 L 130.47 178.86 L 130.64 179.2 L 130.81 178.72 L 130.98 179.44 L 131.32 179.52 L 131.66 179.33 L 132 179.78 L 132.17 179.42 L 132.85 180.37 L 133.18 179.91 L 133.35 180.53 L 133.52 180.65 L 133.69 180.43 L 133.86 180.98 L 134.03 180.35 L 134.2 180.97 L 134.71 180.68 L 135.22 181.44 L 135.39 181.16 L 135.56 181.67 L 135.73 181.41 L 135.89 181.58 L 136.06 181.36 L 136.23 181.36 L 136.4 182.13 L 136.57 181.66 L 136.74 181.69 L 136.91 182.03 L 137.08 182.08 L 137.25 182.27 L 137.76 182.02 L 137.93 182.08 L 138.27 182.66 L 138.44 182.39 L 138.6 183.17 L 138.94 182.68 L 139.11 182.46 L 139.28 183.1 L 139.45 183.01 L 139.62 183.31 L 139.79 183.18 L 139.96 183.26 L 140.13 183.45 L 140.3 183.31 L 140.47 183.49 L 140.64 183.43 L 140.98 183.88 L 141.31 183.64 L 141.48 184.01 L 141.65 183.68 L 141.99 184.12 L 142.16 184.11 L 142.5 184.4 L 142.67 184.12 L 142.84 184.19 L 143.01 184.49 L 143.52 184.45 L 143.69 184.36 L 143.86 184.81 L 144.02 184.69 L 144.19 184.8 L 144.53 184.64 L 144.87 185.4 L 145.04 185.11 L 145.21 185.42 L 145.38 184.87 L 145.55 185.37 L 146.06 185.36 L 146.23 185.53 L 146.57 185.38 L 146.73 185.66 L 146.9 185.31 L 147.24 186.19 L 147.41 185.64 L 147.58 186.18 L 147.92 185.53 L 148.43 186.23 L 148.77 185.9 L 148.94 186.35 L 149.11 186.05 L 149.44 186.35 L 149.61 186.41 L 149.78 186.1 L 149.95 186.73 L 150.12 186.69 L 150.29 186.35 L 150.46 186.37 L 150.63 186.82 L 150.97 186.86 L 151.14 186.57 L 151.31 186.82 L 151.48 186.47 L 151.99 186.76 L 152.32 186.68 L 152.49 186.85 L 152.83 186.74 L 153 186.91 L 153.17 186.73 L 153.51 187.08 L 154.02 186.7 L 154.19 187.27 L 154.36 186.94 L 154.53 187.09 L 155.03 187.07 L 155.37 187.1 L 155.54 187.02 L 155.71 187.29 L 156.22 187.31 L 156.39 187.01 L 156.56 187.33 L 156.73 187.16 L 157.41 187.03 L 157.57 187.25 L 157.91 187.15 L 158.08 187.58 L 158.42 187.1 L 158.76 187.51 L 158.93 187.24 L 159.1 187.73 L 159.27 187.73 L 159.44 188.61 L 159.61 188.42 L 159.95 188.92 L 160.12 189.04 L 160.62 190.49 L 160.79 190.02 L 160.96 190.06 L 161.3 190.52 L 161.64 190.36 L 161.81 190.47 L 161.98 190.26 L 162.32 190.97 L 162.66 190.58 L 162.83 190.93 L 163 190.88 L 163.33 191.17 L 163.5 191.11 L 163.67 191.38 L 163.84 190.99 L 164.18 190.94 L 164.35 191.27 L 164.52 191.26 L 164.69 191.47 L 164.86 191.46 L 165.2 190.73 L 165.37 191.45 L 165.71 191.13 L 165.87 191.45 L 166.04 191.24 L 166.38 191.43 L 166.55 191.24 L 166.89 191.66 L 167.06 191.31 L 167.57 191.66 L 167.74 191.43 L 167.91 191.68 L 168.25 191.42 L 168.42 191.64 L 168.58 191.45 L 168.75 191.74 L 168.92 191.58 L 169.09 191.62 L 169.26 191.4 L 169.43 191.76 L 169.6 191.62 L 169.94 192.02 L 170.28 192 L 170.45 191.75 L 170.62 192.05 L 171.13 191.75 L 171.29 191.83 L 171.46 191.75 L 171.63 192.23 L 172.14 191.89 L 172.82 192.45 L 172.99 192.03 L 173.16 192.51 L 173.5 192.04 L 173.67 192.09 L 173.84 192.55 L 174 192.24 L 174.34 192.37 L 174.51 192.04 L 174.85 192.62 L 175.02 192.57 L 175.19 192.27 L 175.36 192.37 L 175.7 192.74 L 175.87 192.56 L 176.04 192.56 L 176.21 192.35 L 176.38 192.62 L 176.71 192.33 L 176.88 192.84 L 177.05 192.68 L 177.22 192.32 L 177.39 192.69 L 177.73 192.48 L 177.9 192.8 L 178.07 192.75 L 178.24 192.99 L 178.41 192.62 L 178.58 192.82 L 178.75 192.82 L 178.92 193.22 L 179.09 192.62 L 179.26 192.69 L 179.42 192.97 L 179.59 192.63 L 179.76 193.29 L 179.93 192.9 L 180.1 193.2 L 180.27 192.45 L 180.44 193.4 L 180.95 192.87 L 181.29 192.98 L 181.46 193.12 L 181.63 192.72 L 181.8 193.24 L 182.13 192.86 L 182.3 193.4 L 182.47 193.35 L 182.64 193.04 L 182.81 193.18 L 182.98 193.51 L 183.32 193 L 183.49 193.41 L 183.66 193.25 L 184 193.56 L 184.17 193.19 L 184.34 193.33 L 184.51 193.32 L 184.68 193.58 L 185.18 193.57 L 185.52 193.8 L 185.69 193.67 L 185.86 193.97 L 186.2 193.93 L 186.71 194.15 L 186.88 193.93 L 187.22 194.31 L 187.39 193.96 L 187.55 194.54 L 187.72 194.2 L 187.89 194.39 L 188.06 194.75 L 188.23 194.66 L 188.4 194.73 L 188.57 194.51 L 188.91 194.93 L 189.25 195.32 L 189.42 195.13 L 189.59 195.42 L 189.76 195.28 L 190.1 195.32 L 190.26 195.29 L 190.43 195.51 L 190.6 195.51 L 190.77 195.69 L 190.94 195.54 L 191.11 195.64 L 191.28 195.56 L 191.45 195.66 L 191.79 196.25 L 191.96 195.93 L 192.13 195.89 L 192.3 196.24 L 192.47 195.9 L 192.64 196.17 L 192.98 196.19 L 193.14 196.52 L 193.31 196.58 L 193.48 196.39 L 193.65 196.56 L 193.82 196.38 L 193.99 196.4 L 194.16 196.87 L 194.5 196.39 L 194.67 196.9 L 194.84 196.58 L 195.18 196.9 L 195.35 196.39 L 195.52 196.42 L 195.69 196.7 L 195.85 196.73 L 196.02 196.43 L 196.19 196.48 L 196.36 196.7 L 196.53 196.57 L 196.87 196.81 L 197.04 196.67 L 197.21 196.86 L 197.38 196.71 L 197.72 196.92 L 197.89 196.95 L 198.23 196.73 L 198.4 196.83 L 198.56 197.07 L 198.73 196.83 L 198.9 197.1 L 199.07 197.15 L 199.41 196.86 L 199.75 196.93 L 199.92 196.8 L 200.26 197.12 L 200.43 196.94 L 200.6 197.14 L 200.94 197.02 L 201.27 197.4 L 201.44 197.19 L 202.29 197.5 L 202.46 197.14 L 202.97 197.3 L 203.14 196.98 L 203.48 197.34 L 203.65 197.22 L 203.82 197.38 L 203.98 197.27 L 204.66 197.52 L 205 197.29 L 205.17 197.64 L 205.34 197.59 L 205.51 197.7 L 205.68 197.39 L 205.85 197.59 L 206.02 197.42 L 206.19 197.71 L 206.36 197.45 L 206.53 197.7 L 206.69 197.7 L 206.86 197.55 L 207.2 197.76 L 207.37 197.53 L 207.54 197.7 L 207.88 197.3 L 208.05 197.83 L 208.22 197.8 L 208.39 198.01 L 208.56 197.97 L 208.73 197.69 L 209.07 197.77 L 209.24 197.75 L 209.57 198.14 L 209.74 197.69 L 209.91 197.84 L 210.08 197.71 L 210.25 197.92 L 210.42 197.8 L 210.59 198.03 L 211.27 197.76 L 211.44 197.9 L 211.61 198.49 L 211.78 198.05 L 211.95 198.04 L 212.11 197.93 L 212.62 198.23 L 212.79 198.17 L 212.96 198.24 L 213.13 197.9 L 213.47 198.15 L 213.81 197.84 L 213.98 198.24 L 214.32 198.28 L 214.49 198.44 L 214.66 198.36 L 214.82 198.42 L 214.99 198.2 L 215.33 198.16 L 215.5 198.44 L 215.67 198.17 L 215.84 198.5 L 216.35 198.18 L 216.52 198.22 L 216.69 198.06 L 217.2 198.48 L 217.37 198.58 L 217.53 198.43 L 217.7 198.6 L 218.04 198.66 L 218.21 198.79 L 218.38 198.13 L 218.55 198.4 L 218.72 198.89 L 218.89 198.49 L 219.23 198.94 L 219.4 198.64 L 219.91 198.46 L 220.08 198.79 L 220.41 198.57 L 220.92 198.7 L 221.09 198.53 L 221.26 198.94 L 221.43 198.99 L 221.6 198.48 L 221.77 198.71 L 221.94 198.61 L 222.28 198.87 L 222.96 198.87 L 223.12 198.88 L 223.29 198.75 L 223.46 198.77 L 223.63 198.65 L 223.8 199.03 L 224.14 198.79 L 224.31 198.9 L 224.48 199.36 L 224.65 198.92 L 225.33 199.14 L 225.5 198.85 L 225.83 199.02 L 226 198.89 L 226.17 198.93 L 226.34 199.22 L 226.68 199.27 L 226.85 199 L 227.02 199.14 L 227.19 198.95 L 227.7 199.38 L 227.87 199.23 L 228.04 198.85 L 228.21 199.32 L 228.38 199.36 L 228.54 199.27 L 228.71 199.03 L 229.05 199.45 L 229.73 199.16 L 229.9 198.93 L 230.41 199.37 L 230.58 199.5 L 230.92 199.19 L 231.59 199.48 L 232.27 199.5 L 232.44 199.34 L 232.78 199.54 L 232.95 199.37 L 233.12 199.43 L 233.29 199.38 L 233.46 199.68 L 233.63 199.37 L 233.96 199.76 L 234.13 199.64 L 234.3 199.81 L 234.64 199.71 L 234.81 199.51 L 234.98 199.88 L 235.15 199.63 L 235.32 199.73 L 235.49 199.46 L 235.66 199.68 L 236 199.52 L 236.17 199.91 L 236.34 199.81 L 236.67 199.91 L 236.84 199.74 L 237.01 199.83 L 237.18 199.75 L 237.52 199.94 L 237.69 199.87 L 238.2 200.12 L 238.54 199.83 L 238.71 200.1 L 238.88 200 L 239.05 200.29 L 239.38 199.95 L 239.55 200.17 L 239.72 199.91 L 239.89 200.05 L 240.06 199.95 L 240.4 200.24 L 240.74 199.94 L 240.91 200.14 L 241.08 200.01 L 241.25 200.19 L 241.42 200.14 L 241.59 199.91 L 241.93 200.26 L 242.09 200.05 L 242.43 200.23 L 242.6 200.06 L 242.77 200.61 L 243.11 199.9 L 243.45 200.5 L 243.79 199.85 L 244.13 200.41 L 244.97 200.21 L 245.14 200.65 L 245.31 200.36 L 245.48 200.35 L 245.65 200.06 L 245.99 200.57 L 246.33 200.34 L 246.5 200.66 L 246.67 200.23 L 246.84 200.43 L 247.01 200.29 L 247.35 200.35 L 247.68 200.2 L 247.85 200.53 L 248.02 200.48 L 248.19 200.33 L 248.53 200.59 L 248.7 200.5 L 248.87 200.65 L 249.04 200.61 L 249.21 201.06 L 249.55 200.28 L 249.72 200.46 L 250.06 200.56 L 250.22 200.71 L 250.39 200.53 L 250.73 200.64 L 250.9 200.6 L 251.07 200.73 L 251.58 200.52 L 251.75 200.66 L 251.92 200.56 L 252.09 200.67 L 252.26 201.04 L 252.43 201 L 252.6 200.75 L 252.77 200.9 L 252.93 200.66 L 253.1 200.95 L 253.44 200.79 L 253.78 200.87 L 254.12 200.79 L 254.29 200.89 L 254.63 200.75 L 254.97 200.95 L 255.65 200.88 L 255.81 200.5 L 256.15 200.91 L 256.66 200.75 L 256.83 200.74 L 257 201.1 L 257.17 200.64 L 257.34 201.11 L 257.51 200.97 L 258.02 201.28 L 258.19 200.73 L 258.36 200.81 L 258.52 201.19 L 258.69 201.22 L 258.86 200.84 L 259.03 201.21 L 259.37 200.79 L 259.54 200.98 L 259.71 200.89 L 260.05 201.38 L 260.22 201.26 L 260.39 201.41 L 260.56 201.11 L 260.73 201.36 L 260.9 201.15 L 261.23 201.29 L 261.4 201.12 L 261.74 201.34 L 261.91 201.08 L 262.25 201.46 L 262.42 201.08 L 262.59 201.47 L 262.76 201.24 L 262.93 201.2 L 263.27 201.42 L 263.61 201.37 L 263.78 201.49 L 263.94 201.21 L 264.11 201.43 L 264.28 201.46 L 264.45 201.15 L 264.79 201.6 L 264.96 201.39 L 265.3 201.39 L 265.47 201.1 L 265.64 201.5 L 265.81 201.22 L 265.98 201.3 L 266.15 201.22 L 266.32 201.46 L 266.65 201.49 L 267.16 201.23 L 267.33 201.74 L 267.5 201.33 L 268.01 201.66 L 268.18 201.46 L 268.35 201.79 L 268.52 201.34 L 268.69 201.67 L 269.03 201.57 L 269.2 201.47 L 269.36 201.75 L 269.53 201.44 L 269.7 201.51 L 269.87 201.35 L 270.21 201.6 L 270.55 201.65 L 270.72 201.36 L 270.89 201.67 L 271.23 201.64 L 271.4 201.5 L 271.57 201.88 L 271.74 201.36 L 271.91 201.55 L 272.07 201.53 L 272.24 201.64 L 272.41 201.36 L 272.58 201.72 L 272.75 201.54 L 273.09 201.85 L 273.43 201.57 L 273.77 201.74 L 273.94 201.69 L 274.28 201.86 L 274.45 201.69 L 274.62 201.84 L 274.78 201.62 L 275.29 201.57 L 275.46 201.76 L 275.63 201.66 L 275.8 201.89 L 275.97 201.67 L 276.14 201.81 L 276.31 201.54 L 276.48 201.84 L 276.65 201.72 L 276.82 201.86 L 276.99 201.66 L 277.16 201.66 L 277.33 201.9 L 277.49 201.48 L 277.83 201.98 L 278 201.9 L 278.34 202.07 L 278.51 201.8 L 278.68 202.09 L 278.85 201.74 L 279.02 202.03 L 279.36 201.55 L 279.53 201.86 L 279.7 201.81 L 279.87 201.63 L 280.04 201.86 L 280.2 201.74 L 280.37 201.94 L 280.88 201.83 L 281.05 201.94 L 281.39 201.75 L 281.73 201.84 L 281.9 201.99 L 282.07 201.76 L 282.24 201.73 L 282.58 202.19 L 282.91 201.73 L 283.08 201.75 L 283.25 202.05 L 283.42 201.69 L 283.59 202.01 L 283.76 201.76 L 283.93 201.95 L 284.1 201.76 L 284.44 201.94 L 284.61 201.81 L 284.78 202.01 L 285.12 201.96 L 285.29 202.05 L 285.46 201.79 L 285.63 201.8 L 285.96 202.08 L 286.13 201.88 L 286.81 201.99 L 286.98 201.76 L 287.15 202.05 L 287.32 201.98 L 287.49 202.23 L 287.66 202.03 L 288 202.04 L 288.17 201.91 L 288.34 202.08 L 288.5 201.94 L 289.01 202.28 L 289.18 201.96 L 289.35 201.94 L 289.52 202.17 L 289.69 202.12 L 289.86 202.3 L 290.03 202.1 L 290.2 202.21 L 290.37 202 L 290.54 202.08 L 290.71 201.98 L 291.05 202.32 L 291.21 202.09 L 291.38 202.17 L 291.55 201.83 L 291.72 202.06 L 291.89 201.9 L 292.4 202.33 L 292.74 202.04 L 293.08 202.09 L 293.25 202.1 L 293.42 202.33 L 293.59 202.1 L 293.76 202.26 L 294.09 201.97 L 294.26 202.44 L 294.6 202.13 L 294.77 202.03 L 295.11 202.31 L 295.28 202.08 L 295.45 202.12 L 295.62 202.45 L 295.79 202.2 L 296.13 202.58 L 296.3 202.36 L 296.47 202.36 L 296.63 202.53 L 296.8 201.97 L 296.97 202.42 L 297.31 202.15 L 297.48 201.95 L 297.65 202.3 L 297.82 202.03 L 297.99 202.42 L 298.16 202.27 L 298.5 202.41 L 299.01 201.99 L 299.34 202.46 L 299.51 202.41 L 299.68 202.22 L 300.19 202.36 L 300.36 202.45 L 300.53 202.27 L 300.7 202.34 L 300.87 202.14 L 301.04 202.44 L 301.38 202.16 L 301.72 202.09 L 301.89 202.51 L 302.05 202.53 L 302.22 202.35 L 302.56 202.71 L 302.73 202.18 L 302.9 202.32 L 303.07 202.25 L 303.24 202.37 L 303.41 202.24 L 303.75 202.39 L 303.92 202.15 L 304.09 202.58 L 304.26 202.4 L 304.43 202.65 L 304.6 202.22 L 304.93 202.61 L 305.1 202.7 L 305.44 202.18 L 305.95 202.75 L 306.12 202.07 L 306.29 202.55 L 306.46 202.68 L 306.8 202.4 L 306.97 202.27 L 307.31 202.6 L 307.47 202.41 L 307.64 202.62 L 307.81 202.46 L 307.98 202.49 L 308.15 202.38 L 308.32 202.62 L 308.49 202.62 L 308.83 202.47 L 309 202.74 L 309.51 202.6 L 309.68 202.24 L 309.85 202.46 L 310.02 202.39 L 310.18 202.58 L 310.69 202.43 L 310.86 202.63 L 311.03 202.37 L 311.2 202.69 L 311.37 202.45 L 311.71 202.65 L 311.88 202.38 L 312.39 202.72 L 312.56 202.5 L 312.73 202.73 L 312.89 202.55 L 313.06 202.75 L 313.23 202.62 L 313.4 202.76 L 313.57 202.67 L 313.74 202.42 L 313.91 202.41 L 314.08 202.72 L 314.25 202.69 L 314.42 202.89 L 314.76 202.51 L 314.93 202.79 L 315.1 202.8 L 315.27 202.63 L 315.44 202.76 L 315.77 202.48 L 315.94 202.63 L 316.11 202.6 L 316.28 202.44 L 316.45 202.67 L 316.62 202.61 L 316.96 202.82 L 317.13 202.5 L 317.3 202.91 L 317.47 202.71 L 317.64 202.88 L 318.48 202.57 L 318.65 203 L 318.82 202.72 L 319.16 202.84 L 319.5 202.74 L 319.84 202.77 L 320.01 202.48 L 320.18 202.76 L 320.35 202.74 L 320.52 202.94 L 320.69 202.64 L 320.86 202.86 L 321.03 202.81 L 321.03 202.81 
" clip-path="url(#p1e43ecd677)" style="fill: none; stroke: #ff8c00; stroke-linecap: square"/>
<g clip-path="url(#p1e43ecd677)">
<path d="M 0 -1.3 L -0.29 -0.4 L -1.24 -0.4 L -0.47 0.15 L -0.76 1.05 L -0 0.5 L 0.76 1.05 L 0.47 0.15 L 1.24 -0.4 L 0.29 -0.4 z
" transform="translate(67.13 38.81)" style="fill: #ff8c00; stroke: #ff8c00; stroke-linejoin: bevel"/>
<path d="M 0 -1.3 L -0.29 -0.4 L -1.24 -0.4 L -0.47 0.15 L -0.76 1.05 L -0 0.5 L 0.76 1.05 L 0.47 0.15 L 1.24 -0.4 L 0.29 -0.4 z
" transform="translate(84.06 99.52)" style="fill: #ff8c00; stroke: #ff8c00; stroke-linejoin: bevel"/>
<path d="M 0 -1.3 L -0.29 -0.4 L -1.24 -0.4 L -0.47 0.15 L -0.76 1.05 L -0 0.5 L 0.76 1.05 L 0.47 0.15 L 1.24 -0.4 L 0.29 -0.4 z
" transform="translate(101 154.26)" style="fill: #ff8c00; stroke: #ff8c00; stroke-linejoin: bevel"/>
<path d="M 0 -1.3 L -0.29 -0.4 L -1.24 -0.4 L -0.47 0.15 L -0.76 1.05 L -0 0.5 L 0.76 1.05 L 0.47 0.15 L 1.24 -0.4 L 0.29 -0.4 z
" transform="translate(117.94 173.75)" style="fill: #ff8c00; stroke: #ff8c00; stroke-linejoin: bevel"/>
<path d="M 0 -1.3 L -0.29 -0.4 L -1.24 -0.4 L -0.47 0.15 L -0.76 1.05 L -0 0.5 L 0.76 1.05 L 0.47 0.15 L 1.24 -0.4 L 0.29 -0.4 z
" transform="translate(134.88 180.96)" style="fill: #ff8c00; stroke: #ff8c00; stroke-linejoin: bevel"/>
<path d="M 0 -1.3 L -0.29 -0.4 L -1.24 -0.4 L -0.47 0.15 L -0.76 1.05 L -0 0.5 L 0.76 1.05 L 0.47 0.15 L 1.24 -0.4 L 0.29 -0.4 z
" transform="translate(151.82 186.77)" style="fill: #ff8c00; stroke: #ff8c00; stroke-linejoin: bevel"/>
<path d="M 0 -1.3 L -0.29 -0.4 L -1.24 -0.4 L -0.47 0.15 L -0.76 1.05 L -0 0.5 L 0.76 1.05 L 0.47 0.15 L 1.24 -0.4 L 0.29 -0.4 z
" transform="translate(168.75 191.74)" style="fill: #ff8c00; stroke: #ff8c00; stroke-linejoin: bevel"/>
<path d="M 0 -1.3 L -0.29 -0.4 L -1.24 -0.4 L -0.47 0.15 L -0.76 1.05 L -0 0.5 L 0.76 1.05 L 0.47 0.15 L 1.24 -0.4 L 0.29 -0.4 z
" transform="translate(185.69 193.67)" style="fill: #ff8c00; stroke: #ff8c00; stroke-linejoin: bevel"/>
<path d="M 0 -1.3 L -0.29 -0.4 L -1.24 -0.4 L -0.47 0.15 L -0.76 1.05 L -0 0.5 L 0.76 1.05 L 0.47 0.15 L 1.24 -0.4 L 0.29 -0.4 z
" transform="translate(202.63 197.21)" style="fill: #ff8c00; stroke: #ff8c00; stroke-linejoin: bevel"/>
<path d="M 0 -1.3 L -0.29 -0.4 L -1.24 -0.4 L -0.47 0.15 L -0.76 1.05 L -0 0.5 L 0.76 1.05 L 0.47 0.15 L 1.24 -0.4 L 0.29 -0.4 z
" transform="translate(219.57 198.61)" style="fill: #ff8c00; stroke: #ff8c00; stroke-linejoin: bevel"/>
<path d="M 0 -1.3 L -0.29 -0.4 L -1.24 -0.4 L -0.47 0.15 L -0.76 1.05 L -0 0.5 L 0.76 1.05 L 0.47 0.15 L 1.24 -0.4 L 0.29 -0.4 z
" transform="translate(236.51 199.84)" style="fill: #ff8c00; stroke: #ff8c00; stroke-linejoin: bevel"/>
<path d="M 0 -1.3 L -0.29 -0.4 L -1.24 -0.4 L -0.47 0.15 L -0.76 1.05 L -0 0.5 L 0.76 1.05 L 0.47 0.15 L 1.24 -0.4 L 0.29 -0.4 z
" transform="translate(253.44 200.79)" style="fill: #ff8c00; stroke: #ff8c00; stroke-linejoin: bevel"/>
<path d="M 0 -1.3 L -0.29 -0.4 L -1.24 -0.4 L -0.47 0.15 L -0.76 1.05 L -0 0.5 L 0.76 1.05 L 0.47 0.15 L 1.24 -0.4 L 0.29 -0.4 z
" transform="translate(270.38 201.68)" style="fill: #ff8c00; stroke: #ff8c00; stroke-linejoin: bevel"/>
<path d="M 0 -1.3 L -0.29 -0.4 L -1.24 -0.4 L -0.47 0.15 L -0.76 1.05 L -0 0.5 L 0.76 1.05 L 0.47 0.15 L 1.24 -0.4 L 0.29 -0.4 z
" transform="translate(287.32 201.98)" style="fill: #ff8c00; stroke: #ff8c00; stroke-linejoin: bevel"/>
<path d="M 0 -1.3 L -0.29 -0.4 L -1.24 -0.4 L -0.47 0.15 L -0.76 1.05 L -0 0.5 L 0.76 1.05 L 0.47 0.15 L 1.24 -0.4 L 0.29 -0.4 z
" transform="translate(304.26 202.4)" style="fill: #ff8c00; stroke: #ff8c00; stroke-linejoin: bevel"/>
</g>
</g>
<g id="line2d_27">
<path d="M 67.13 38.81 L 67.47 39.43 L 67.8 40.03 L 67.97 40.1 L 68.65 40.9 L 68.99 42.15 L 69.16 42.22 L 69.33 42.94 L 69.5 42.93 L 69.67 43.35 L 69.84 44.17 L 70.01 44.24 L 70.18 44.53 L 70.68 46.24 L 70.85 46.63 L 71.36 48.49 L 72.04 51.14 L 72.21 51.56 L 72.38 52.63 L 72.55 52.93 L 73.39 55.98 L 74.07 58.9 L 74.41 59.92 L 76.27 68.84 L 76.44 69.18 L 78.14 79.04 L 79.15 86.63 L 79.49 88.12 L 79.83 90.89 L 80 91.61 L 80.51 95.12 L 81.02 97.89 L 82.71 107.95 L 82.88 108.68 L 83.22 111.02 L 83.39 111.4 L 85.42 122.11 L 85.76 123.41 L 86.27 126.01 L 87.11 129.73 L 87.79 133.23 L 88.13 134.29 L 88.64 136.5 L 88.98 137.65 L 89.48 139.73 L 89.65 139.49 L 89.82 140.83 L 90.16 141.89 L 90.33 142.79 L 90.5 142.81 L 90.84 144.34 L 91.01 144.54 L 91.52 146.5 L 91.86 147.1 L 92.36 148.82 L 92.53 148.99 L 92.87 150.31 L 93.04 150.34 L 93.55 151.9 L 93.89 152.51 L 94.06 153 L 94.23 153.85 L 94.4 153.79 L 94.57 154.65 L 94.74 154.39 L 94.9 155.21 L 95.07 155.39 L 95.75 156.96 L 95.92 156.95 L 96.26 157.99 L 96.43 157.91 L 96.94 159.53 L 97.11 159.31 L 97.95 161.38 L 98.12 161.28 L 98.29 161.82 L 98.46 161.95 L 98.63 162.78 L 98.8 162.43 L 99.14 163.71 L 99.65 163.66 L 99.82 164.74 L 100.16 164.66 L 100.33 165.23 L 100.49 165.24 L 100.66 165.58 L 100.83 165.57 L 101.34 166.38 L 101.51 166.39 L 101.68 166.63 L 101.85 166.61 L 102.02 166.96 L 102.19 166.84 L 102.36 167.69 L 102.7 167.59 L 102.87 167.9 L 103.04 168.61 L 103.2 168.2 L 103.37 168.53 L 103.54 168.12 L 103.71 168.79 L 103.88 168.8 L 104.05 169.29 L 104.22 169.12 L 104.39 169.97 L 104.56 169.78 L 104.73 169.81 L 104.9 170.21 L 105.07 169.85 L 105.24 170.2 L 105.41 170.03 L 105.58 170.78 L 105.75 170.82 L 105.91 170.67 L 106.08 171.05 L 106.25 170.94 L 106.42 171.12 L 106.59 171.54 L 106.93 171.58 L 107.61 172.32 L 107.95 172.17 L 108.12 173 L 108.46 173.06 L 108.62 172.89 L 108.79 173.5 L 108.96 173.03 L 109.13 173.19 L 109.3 174.26 L 109.47 173.82 L 109.64 173.99 L 109.98 174.78 L 110.15 174.51 L 110.32 174.8 L 110.49 174.64 L 110.83 175.35 L 111 174.92 L 111.33 175.3 L 111.5 175.73 L 111.67 175.7 L 112.18 176.68 L 112.35 176.4 L 112.52 176.98 L 112.69 176.6 L 112.86 177.14 L 113.03 176.98 L 113.54 177.65 L 113.71 177.7 L 113.88 177.44 L 114.21 178.08 L 114.38 178.01 L 114.72 178.76 L 114.89 178.79 L 115.06 178.56 L 115.23 178.98 L 115.57 179.21 L 115.74 179.47 L 115.91 179.3 L 116.08 179.56 L 116.42 180.23 L 116.59 180.21 L 116.75 180.54 L 117.09 180.57 L 117.77 181.58 L 117.94 181.67 L 118.11 181.55 L 118.28 182.16 L 118.45 182.21 L 118.96 182.99 L 119.13 183.49 L 119.3 183.03 L 119.46 183.91 L 119.63 183.85 L 119.8 184.44 L 119.97 184.38 L 120.14 184.99 L 120.31 184.72 L 120.65 185.91 L 120.82 185.54 L 120.99 186.51 L 121.33 186.44 L 121.5 186.98 L 121.67 186.9 L 122.01 187.73 L 122.17 187.58 L 122.51 188.32 L 122.68 188.22 L 123.02 188.99 L 123.19 189 L 123.36 188.49 L 123.53 188.64 L 123.7 189.5 L 123.87 189.14 L 124.04 189.15 L 124.21 189.54 L 124.38 189.45 L 124.55 189.87 L 124.72 189.83 L 124.88 189.64 L 125.22 190.04 L 125.39 190.14 L 125.56 190.43 L 126.07 190.4 L 126.24 190.61 L 126.41 190.14 L 126.58 190.91 L 127.09 190.64 L 127.26 191.08 L 127.43 190.8 L 127.59 191.07 L 127.76 191.11 L 128.1 190.89 L 128.27 190.89 L 128.44 191.36 L 128.61 190.98 L 128.78 191.01 L 128.95 191.19 L 129.29 191.32 L 129.46 191.39 L 129.8 191.11 L 129.97 191.51 L 130.31 191.34 L 130.47 191.83 L 130.64 191.27 L 130.81 191.54 L 130.98 191.36 L 131.32 191.87 L 131.66 191.69 L 131.83 191.96 L 132 191.62 L 132.34 192.06 L 132.51 191.79 L 132.68 191.93 L 132.85 191.92 L 133.35 192.25 L 133.52 192.01 L 133.86 192 L 134.03 192.26 L 134.37 192.02 L 134.54 192.44 L 134.88 192.15 L 135.05 192.41 L 135.39 192.39 L 135.56 192.52 L 135.73 192.29 L 136.06 192.56 L 136.23 192.73 L 136.4 192.51 L 136.74 192.78 L 136.91 192.8 L 137.08 192.48 L 137.25 192.83 L 137.42 192.82 L 137.59 192.66 L 137.76 192.98 L 137.93 192.82 L 138.1 193.24 L 138.27 192.97 L 138.44 193.55 L 138.6 193.16 L 138.94 193.42 L 139.11 193.13 L 139.45 193.27 L 139.62 193.19 L 139.79 193.43 L 139.96 193.47 L 140.13 193.64 L 140.3 193.32 L 140.81 193.99 L 141.15 194.06 L 141.31 193.73 L 141.48 193.97 L 141.65 193.87 L 141.82 194.27 L 141.99 194.32 L 142.16 193.99 L 142.33 194.65 L 142.5 194.55 L 142.67 194.77 L 142.84 194.55 L 143.01 193.98 L 143.18 194.66 L 143.35 194.37 L 143.52 194.3 L 143.69 194.78 L 143.86 194.84 L 144.19 194.67 L 144.36 195.14 L 144.53 195.04 L 144.7 194.62 L 144.87 195.13 L 145.21 194.87 L 145.38 195.17 L 145.72 195.29 L 146.06 195.38 L 146.23 195.61 L 146.57 195.42 L 146.73 195.28 L 147.07 195.61 L 147.24 195.17 L 147.41 195.56 L 147.75 195.71 L 147.92 195.65 L 148.09 195.84 L 148.26 195.8 L 148.6 195.98 L 148.77 195.86 L 148.94 196.06 L 149.11 195.51 L 149.28 196.06 L 149.44 195.54 L 149.61 195.83 L 149.95 195.65 L 150.12 196.24 L 150.29 195.65 L 150.63 196.06 L 150.8 196.12 L 150.97 195.92 L 151.14 196.29 L 151.31 195.67 L 151.48 196.03 L 151.65 195.86 L 151.99 196.08 L 152.32 196.11 L 152.49 195.68 L 152.66 195.86 L 153.17 195.55 L 153.34 195.52 L 153.51 195.29 L 153.68 195.56 L 153.85 195.54 L 154.02 195.29 L 154.36 195.1 L 154.53 194.81 L 154.86 194.77 L 155.03 194.95 L 155.2 194.65 L 155.37 194.65 L 155.54 194.5 L 155.88 194.64 L 156.05 194.53 L 156.39 194.71 L 156.56 194.5 L 156.73 194.55 L 156.9 194.37 L 157.24 194.77 L 157.41 194.31 L 157.57 194.27 L 157.74 194.77 L 157.91 194.69 L 158.08 194.41 L 158.25 194.56 L 158.42 194.87 L 158.59 194.41 L 158.76 194.61 L 159.1 194.44 L 159.27 194.78 L 159.44 194.81 L 159.61 194.57 L 159.78 194.54 L 159.95 194.7 L 160.12 194.53 L 160.29 194.68 L 160.45 194.58 L 160.62 194.94 L 160.96 194.64 L 161.13 195 L 161.3 195.01 L 161.47 194.87 L 161.98 195.25 L 162.15 194.74 L 162.32 195 L 162.49 194.78 L 162.66 195.22 L 162.83 195.07 L 163.16 195.12 L 163.33 195.45 L 163.5 194.98 L 163.67 195.28 L 163.84 195.22 L 164.01 195.48 L 164.18 195.09 L 164.35 195.72 L 164.52 195.21 L 164.69 195.74 L 165.03 196.05 L 165.2 195.83 L 165.37 196.39 L 165.71 196.73 L 165.87 196.64 L 166.04 196.8 L 166.21 197.19 L 166.55 197.09 L 167.06 197.94 L 167.23 197.59 L 167.4 197.83 L 167.57 198.29 L 167.74 198.24 L 167.91 198.68 L 168.08 198.17 L 168.25 198.54 L 168.58 198.18 L 168.75 198.53 L 168.92 198.33 L 169.26 198.73 L 169.43 198.33 L 169.77 198.73 L 169.94 198.54 L 170.28 198.83 L 170.45 198.77 L 170.62 198.55 L 170.79 199.03 L 170.96 198.99 L 171.13 198.63 L 171.29 199.05 L 171.46 198.86 L 171.63 198.9 L 171.8 199.09 L 172.48 198.82 L 172.65 198.91 L 172.82 198.81 L 173.16 199.07 L 173.33 198.9 L 174.17 199.1 L 174.34 199.36 L 174.51 199.03 L 174.68 199.24 L 175.02 199.21 L 175.19 198.79 L 175.36 199.31 L 175.53 198.92 L 175.7 199.56 L 176.04 198.88 L 176.21 199.19 L 176.38 199.17 L 176.71 199.6 L 176.88 199.18 L 177.39 198.96 L 177.56 199.32 L 177.73 199.22 L 177.9 199.69 L 178.24 199.31 L 178.58 199.03 L 178.75 199.08 L 179.09 199.41 L 179.59 199.38 L 179.76 199.21 L 180.1 199.72 L 180.27 199.65 L 180.44 198.94 L 180.78 199.56 L 180.95 199.52 L 181.12 199.36 L 181.46 199.45 L 181.63 199.86 L 181.8 199.76 L 182.13 199.42 L 182.3 199.5 L 182.47 199.29 L 182.64 199.56 L 183.15 199.43 L 183.32 199.71 L 183.49 199.27 L 183.66 199.81 L 183.83 199.51 L 184 199.53 L 184.17 199.39 L 184.34 199.87 L 184.68 199.75 L 185.01 199.57 L 185.18 200.18 L 185.35 199.8 L 185.69 199.76 L 185.86 199.73 L 186.03 199.83 L 186.2 199.8 L 186.37 200.15 L 186.54 199.69 L 186.71 200.28 L 186.88 199.9 L 187.05 200.05 L 187.22 199.84 L 187.39 200.09 L 187.55 199.78 L 187.72 199.89 L 188.23 199.79 L 188.4 200.04 L 188.57 199.88 L 189.08 200.04 L 189.25 200.51 L 189.42 200.13 L 189.59 200.11 L 189.93 200.26 L 190.1 200.13 L 190.26 200.28 L 190.6 199.98 L 190.77 200.21 L 190.94 200.08 L 191.11 200.44 L 191.96 200.3 L 192.13 200.06 L 192.3 200.43 L 192.47 200.14 L 192.64 200.54 L 192.98 200.26 L 193.14 200.36 L 193.31 200.84 L 193.48 200.45 L 193.65 200.38 L 193.82 200.72 L 194.16 200.55 L 194.5 200.31 L 194.67 200.77 L 194.84 200.71 L 195.01 200.31 L 195.18 200.38 L 195.35 200.31 L 195.52 200.62 L 195.69 200.45 L 195.85 201.04 L 196.02 200.58 L 196.36 200.92 L 196.53 200.88 L 196.7 200.54 L 196.87 200.47 L 197.04 200.82 L 197.21 200.81 L 197.38 200.57 L 197.55 200.89 L 197.89 200.7 L 198.06 200.62 L 198.4 201.31 L 198.73 200.75 L 198.9 200.96 L 199.24 201.07 L 199.41 200.85 L 199.92 200.96 L 200.09 200.76 L 200.6 201.19 L 201.11 200.8 L 201.44 201.12 L 201.61 200.95 L 201.78 200.98 L 201.95 201.17 L 202.12 201.03 L 202.29 201.3 L 202.63 201.04 L 202.8 200.99 L 203.14 201.03 L 203.31 201.06 L 203.48 201.39 L 203.65 201.28 L 203.82 201.33 L 204.32 200.91 L 204.66 201.45 L 204.83 201.22 L 205.34 201.3 L 205.51 201.23 L 205.68 201.41 L 206.02 201.18 L 206.19 201.32 L 206.36 201.27 L 206.53 201.47 L 206.69 201.23 L 207.03 201.5 L 207.37 201.48 L 207.71 201.52 L 207.88 201.16 L 208.22 201.38 L 209.07 201.51 L 209.24 201.64 L 209.4 201.32 L 209.91 201.37 L 210.08 201.94 L 210.42 201.41 L 210.59 201.5 L 210.76 201.85 L 210.93 201.55 L 211.1 201.5 L 211.44 201.81 L 211.61 201.73 L 211.78 202.12 L 211.95 201.61 L 212.11 201.8 L 212.45 201.71 L 212.62 201.7 L 212.79 201.44 L 212.96 201.84 L 213.13 201.75 L 213.3 202.07 L 213.47 201.84 L 213.64 202.05 L 213.81 201.63 L 214.15 201.87 L 214.32 201.63 L 214.49 201.95 L 214.66 201.82 L 214.99 201.96 L 215.16 201.85 L 215.33 201.92 L 215.5 201.85 L 215.84 202.1 L 216.01 201.63 L 216.35 201.93 L 216.52 201.84 L 216.69 202.05 L 216.86 201.83 L 217.03 202.13 L 217.2 201.83 L 217.87 201.95 L 218.04 201.67 L 218.21 201.85 L 218.38 202.21 L 218.55 202.13 L 218.72 201.71 L 218.89 202.07 L 219.06 201.93 L 219.23 202.09 L 219.4 201.76 L 219.57 201.96 L 219.74 201.89 L 219.91 202.09 L 220.08 202.08 L 220.24 201.82 L 220.58 202.4 L 220.75 201.82 L 220.92 201.92 L 221.09 202.29 L 221.26 202.04 L 221.94 201.92 L 222.11 202.25 L 222.62 202 L 222.79 202.21 L 222.96 201.98 L 223.12 202.3 L 223.29 202.05 L 223.46 202.47 L 223.8 201.88 L 223.97 201.97 L 224.31 202.7 L 224.48 202.19 L 224.65 202.07 L 224.82 202.23 L 224.99 202.22 L 225.16 202.49 L 225.33 202.36 L 225.67 202.5 L 225.83 202.39 L 226 202.08 L 226.34 202.45 L 226.51 202.36 L 226.68 202.49 L 227.02 202.33 L 227.19 202.61 L 227.36 202.33 L 227.53 202.48 L 227.7 202.22 L 227.87 202.55 L 228.04 202.37 L 228.21 202.55 L 228.38 202.34 L 228.54 202.71 L 228.71 202.52 L 229.05 202.7 L 229.22 202.52 L 229.56 202.57 L 229.9 202.6 L 230.07 202.61 L 230.24 202.34 L 230.41 202.43 L 230.58 202.31 L 230.75 202.37 L 230.92 202.24 L 231.09 202.52 L 231.42 202.53 L 231.59 202.61 L 231.76 202.45 L 232.27 202.53 L 232.44 202.42 L 232.61 202.81 L 232.78 202.5 L 233.12 202.7 L 233.63 202.5 L 233.8 202.67 L 233.96 202.53 L 234.13 202.59 L 234.47 202.5 L 234.64 202.55 L 234.98 202.85 L 235.15 202.47 L 235.32 202.82 L 235.49 202.57 L 235.66 202.69 L 235.83 202.46 L 236 202.74 L 236.17 202.77 L 236.34 203.05 L 236.51 202.72 L 237.01 202.82 L 237.18 202.57 L 237.35 202.71 L 237.52 202.65 L 237.69 202.82 L 238.03 202.65 L 238.2 202.85 L 238.37 202.61 L 238.54 202.85 L 238.71 202.52 L 238.88 202.91 L 239.72 202.86 L 239.89 202.67 L 240.06 202.94 L 240.23 202.69 L 240.74 202.92 L 240.91 202.6 L 241.08 203.29 L 241.25 202.98 L 242.26 202.78 L 242.43 203.04 L 242.77 202.7 L 242.94 203.06 L 243.11 202.94 L 243.28 203.19 L 243.45 202.92 L 243.62 203.11 L 243.79 202.9 L 243.96 203.18 L 244.13 203 L 244.3 203.17 L 244.8 202.68 L 244.97 202.97 L 245.14 202.97 L 245.31 202.77 L 245.48 202.89 L 245.65 203.22 L 245.82 202.99 L 245.99 203.06 L 246.16 202.96 L 246.33 203.01 L 246.5 203.37 L 246.67 203.19 L 246.84 202.83 L 247.35 203.2 L 247.51 203.18 L 247.85 203.66 L 248.02 203.08 L 248.19 203.33 L 248.7 203.26 L 248.87 203.27 L 249.04 202.97 L 249.21 203.26 L 249.38 203.13 L 249.55 203.23 L 249.72 203.04 L 250.06 203.56 L 250.22 202.97 L 250.39 203 L 250.56 203.16 L 250.73 203.52 L 250.9 203.07 L 251.24 203.42 L 251.41 203.39 L 251.58 203.13 L 251.75 203.41 L 251.92 203.35 L 252.09 203.44 L 252.26 203.25 L 252.43 203.48 L 252.6 203.26 L 252.77 203.4 L 252.93 203.05 L 253.1 203.44 L 253.61 203.25 L 253.78 203.63 L 253.95 203.37 L 254.29 203.31 L 254.46 203.45 L 254.63 203.2 L 254.8 203.22 L 255.14 203.61 L 255.65 203.3 L 255.81 203.65 L 255.98 203.58 L 256.15 203.79 L 256.32 203.64 L 256.66 203.18 L 257 203.54 L 257.17 203.57 L 257.34 203.23 L 258.02 203.68 L 258.19 203.57 L 258.36 203.3 L 258.52 203.62 L 259.03 203.65 L 259.2 203.47 L 259.37 203.78 L 259.54 203.62 L 259.71 203.75 L 259.88 203.53 L 260.39 203.77 L 260.56 203.7 L 260.73 203.48 L 261.4 203.97 L 261.57 203.99 L 261.91 203.71 L 262.08 203.78 L 262.25 203.62 L 262.42 203.97 L 262.59 203.84 L 262.93 203.98 L 263.1 204.17 L 263.44 203.72 L 263.61 204.13 L 263.78 203.75 L 263.94 203.75 L 264.11 203.92 L 264.28 203.86 L 264.62 203.92 L 264.79 203.71 L 265.64 203.93 L 265.81 204.18 L 266.15 203.99 L 266.32 204.28 L 266.49 204.02 L 267.16 204.16 L 267.33 203.76 L 267.5 204.37 L 267.67 204.2 L 267.84 204.37 L 268.01 204.06 L 268.35 203.87 L 268.52 204.25 L 268.69 204.06 L 268.86 204.3 L 269.2 204.09 L 269.36 204.42 L 269.53 204.23 L 269.7 204.31 L 270.04 204.12 L 270.21 204.47 L 270.38 204.25 L 270.72 204.62 L 271.06 204.4 L 271.4 204.49 L 271.57 204.14 L 271.74 204.33 L 272.07 204.16 L 272.24 204.36 L 272.41 204.01 L 272.58 204.34 L 273.09 204.49 L 273.26 204.4 L 273.6 204.44 L 273.77 204.44 L 273.94 204.71 L 274.28 204.59 L 274.95 204.72 L 275.12 204.46 L 275.29 204.74 L 275.46 204.6 L 275.63 204.94 L 275.97 204.53 L 276.14 204.69 L 276.31 204.61 L 276.65 204.78 L 276.82 204.68 L 277.16 204.72 L 277.33 204.88 L 277.49 204.88 L 277.66 205.23 L 277.83 204.83 L 278 205.01 L 278.17 204.98 L 278.34 204.76 L 278.85 205.04 L 279.02 204.87 L 279.53 205 L 279.7 204.76 L 279.87 205.18 L 280.04 204.99 L 280.54 204.99 L 280.71 205.15 L 281.22 204.96 L 281.39 205.19 L 281.56 205.12 L 281.73 205.18 L 281.9 204.98 L 282.07 205.25 L 282.24 205 L 282.41 204.97 L 282.58 205.24 L 282.75 204.91 L 282.91 205.28 L 283.08 205.28 L 283.25 205.16 L 283.42 205.35 L 283.59 205.27 L 283.76 205.47 L 284.1 205.31 L 284.27 205.53 L 284.44 205.24 L 284.61 205.25 L 284.78 205.38 L 285.12 205.29 L 285.29 205.51 L 285.46 205.32 L 285.79 205.51 L 285.96 205.37 L 286.3 205.85 L 286.47 205.39 L 286.64 205.42 L 286.81 205.21 L 286.98 205.52 L 287.15 205.35 L 287.49 205.65 L 287.83 205.47 L 288 205.51 L 288.17 205.35 L 288.34 205.35 L 288.5 205.7 L 288.67 205.6 L 288.84 205.27 L 289.01 205.34 L 289.18 205.7 L 289.35 205.65 L 289.52 205.26 L 289.69 205.68 L 289.86 205.37 L 290.03 205.84 L 290.2 205.59 L 290.37 205.71 L 290.71 205.39 L 290.88 205.51 L 291.38 205.35 L 291.89 205.83 L 292.06 205.48 L 292.74 205.7 L 292.91 205.9 L 293.25 205.67 L 293.59 205.89 L 293.76 205.46 L 293.92 205.67 L 294.43 205.69 L 294.6 205.84 L 294.77 205.57 L 295.11 205.84 L 295.28 205.53 L 295.45 205.69 L 295.62 205.62 L 295.79 205.98 L 295.96 205.47 L 296.13 205.84 L 296.3 205.89 L 296.47 205.79 L 296.8 205.86 L 297.14 205.54 L 297.31 205.78 L 297.82 205.73 L 297.99 205.94 L 298.16 205.52 L 298.33 205.97 L 298.5 205.86 L 298.67 205.48 L 299.01 205.92 L 299.18 205.76 L 299.34 205.45 L 299.68 205.95 L 299.85 205.76 L 300.02 205.75 L 300.19 205.92 L 300.36 205.77 L 300.53 206.12 L 300.7 205.74 L 301.21 205.91 L 301.38 205.63 L 301.55 205.73 L 301.72 205.64 L 301.89 205.92 L 302.22 205.6 L 302.39 205.64 L 302.56 205.98 L 302.73 205.86 L 302.9 205.95 L 303.24 205.87 L 303.41 205.62 L 303.58 205.66 L 303.75 205.9 L 303.92 205.76 L 304.09 205.97 L 304.26 205.95 L 304.43 206.16 L 304.6 206.02 L 304.76 205.63 L 304.93 205.88 L 305.27 205.77 L 305.44 206.2 L 305.61 205.97 L 305.78 205.93 L 305.95 205.76 L 306.12 205.89 L 306.29 206.19 L 306.46 206.2 L 306.63 205.92 L 306.8 205.94 L 306.97 206.17 L 307.14 206.17 L 307.31 205.97 L 307.47 206.17 L 307.64 205.94 L 307.98 206.04 L 308.15 205.73 L 308.32 206.13 L 308.49 206.17 L 308.66 206.09 L 308.83 206.36 L 309 205.92 L 309.68 206.06 L 309.85 206.27 L 310.02 206.09 L 310.86 205.99 L 311.03 206.37 L 311.37 206.01 L 311.54 206.17 L 311.88 206 L 312.05 206.26 L 312.39 205.91 L 312.73 206.24 L 312.89 206.14 L 313.23 206.33 L 313.4 206.07 L 313.57 206.16 L 313.74 206.43 L 313.91 206.01 L 314.08 206.31 L 314.42 206.13 L 314.76 206.37 L 314.93 206.53 L 315.27 206.19 L 315.44 206.39 L 315.77 206.06 L 315.94 206.37 L 316.11 205.69 L 316.45 206.42 L 316.62 206.2 L 316.79 206.3 L 316.96 206.09 L 317.13 206.45 L 317.3 206.18 L 317.47 206.43 L 317.81 206.09 L 317.98 206.28 L 318.15 206.12 L 318.32 206.35 L 318.48 206.19 L 318.65 206.41 L 318.99 206.33 L 319.16 206.54 L 319.5 206.43 L 319.67 206.12 L 320.01 206.52 L 320.18 206.54 L 320.35 206.39 L 320.52 206.54 L 320.69 206.36 L 320.86 206.54 L 321.03 206.54 L 321.03 206.54 
" clip-path="url(#p1e43ecd677)" style="fill: none; stroke: #8c564b; stroke-linecap: square"/>
<g clip-path="url(#p1e43ecd677)">
<path d="M -1.3 1.3 L 1.3 -1.3 
M -1.3 -1.3 L 1.3 1.3 
" transform="translate(67.13 38.81)" style="fill: #8c564b; stroke: #8c564b"/>
<path d="M -1.3 1.3 L 1.3 -1.3 
M -1.3 -1.3 L 1.3 1.3 
" transform="translate(84.06 115.3)" style="fill: #8c564b; stroke: #8c564b"/>
<path d="M -1.3 1.3 L 1.3 -1.3 
M -1.3 -1.3 L 1.3 1.3 
" transform="translate(101 165.89)" style="fill: #8c564b; stroke: #8c564b"/>
<path d="M -1.3 1.3 L 1.3 -1.3 
M -1.3 -1.3 L 1.3 1.3 
" transform="translate(117.94 181.67)" style="fill: #8c564b; stroke: #8c564b"/>
<path d="M -1.3 1.3 L 1.3 -1.3 
M -1.3 -1.3 L 1.3 1.3 
" transform="translate(134.88 192.15)" style="fill: #8c564b; stroke: #8c564b"/>
<path d="M -1.3 1.3 L 1.3 -1.3 
M -1.3 -1.3 L 1.3 1.3 
" transform="translate(151.82 196)" style="fill: #8c564b; stroke: #8c564b"/>
<path d="M -1.3 1.3 L 1.3 -1.3 
M -1.3 -1.3 L 1.3 1.3 
" transform="translate(168.75 198.53)" style="fill: #8c564b; stroke: #8c564b"/>
<path d="M -1.3 1.3 L 1.3 -1.3 
M -1.3 -1.3 L 1.3 1.3 
" transform="translate(185.69 199.76)" style="fill: #8c564b; stroke: #8c564b"/>
<path d="M -1.3 1.3 L 1.3 -1.3 
M -1.3 -1.3 L 1.3 1.3 
" transform="translate(202.63 201.04)" style="fill: #8c564b; stroke: #8c564b"/>
<path d="M -1.3 1.3 L 1.3 -1.3 
M -1.3 -1.3 L 1.3 1.3 
" transform="translate(219.57 201.96)" style="fill: #8c564b; stroke: #8c564b"/>
<path d="M -1.3 1.3 L 1.3 -1.3 
M -1.3 -1.3 L 1.3 1.3 
" transform="translate(236.51 202.72)" style="fill: #8c564b; stroke: #8c564b"/>
<path d="M -1.3 1.3 L 1.3 -1.3 
M -1.3 -1.3 L 1.3 1.3 
" transform="translate(253.44 203.33)" style="fill: #8c564b; stroke: #8c564b"/>
<path d="M -1.3 1.3 L 1.3 -1.3 
M -1.3 -1.3 L 1.3 1.3 
" transform="translate(270.38 204.25)" style="fill: #8c564b; stroke: #8c564b"/>
<path d="M -1.3 1.3 L 1.3 -1.3 
M -1.3 -1.3 L 1.3 1.3 
" transform="translate(287.32 205.52)" style="fill: #8c564b; stroke: #8c564b"/>
<path d="M -1.3 1.3 L 1.3 -1.3 
M -1.3 -1.3 L 1.3 1.3 
" transform="translate(304.26 205.95)" style="fill: #8c564b; stroke: #8c564b"/>
</g>
</g>
<g id="line2d_28">
<path d="M 67.13 38.81 L 67.3 39.41 L 67.47 38.76 L 67.8 40.06 L 67.97 39.9 L 68.31 40.35 L 68.99 41.97 L 69.33 42.56 L 69.67 43.38 L 69.84 44.45 L 70.18 44.58 L 70.51 45.74 L 71.19 48.28 L 71.36 48.37 L 71.7 49.87 L 71.87 50.76 L 72.04 51.04 L 72.21 51.88 L 72.38 52.06 L 72.89 54.33 L 73.06 54.44 L 73.39 56.29 L 73.9 57.92 L 74.07 59.07 L 74.24 59.34 L 74.58 60.67 L 75.09 63.06 L 75.93 67.12 L 76.61 70.3 L 76.78 70.99 L 77.12 73.3 L 77.97 77.97 L 78.31 80.19 L 78.64 82.52 L 79.15 86.24 L 79.66 89.12 L 80 91.54 L 80.34 93.46 L 80.51 94.88 L 80.68 95.31 L 81.35 99 L 81.69 101.14 L 82.54 105.36 L 83.22 109.75 L 83.39 110.19 L 84.06 113.94 L 85.42 121.49 L 85.76 123.27 L 85.93 124.01 L 86.1 125.55 L 86.27 126.01 L 86.61 128.26 L 88.98 141.01 L 89.32 142.51 L 89.65 144.48 L 89.82 144.96 L 90.16 146.92 L 90.33 147.32 L 91.18 150.79 L 91.35 151.1 L 91.69 153.15 L 91.86 153.29 L 92.87 157.59 L 93.04 157.4 L 93.38 159.16 L 93.72 160.08 L 93.89 160.39 L 94.06 161.29 L 94.57 162.09 L 94.74 162.99 L 95.07 163.35 L 95.24 164.31 L 95.41 164.32 L 95.58 164.6 L 95.75 165.13 L 96.26 165.47 L 96.43 165.76 L 96.77 166.6 L 96.94 166.44 L 97.11 167.16 L 97.28 167.17 L 97.62 167.79 L 97.78 167.61 L 97.95 168.15 L 98.12 168.17 L 98.29 167.98 L 98.46 168.1 L 98.63 168.87 L 98.97 169.13 L 99.14 169.41 L 99.31 169.05 L 99.82 170.06 L 99.99 169.9 L 100.33 170.44 L 100.66 170.56 L 101 171.29 L 101.17 171.69 L 101.34 171.43 L 101.51 171.85 L 101.68 172.67 L 101.85 172.4 L 102.02 172.52 L 102.19 173.25 L 102.36 173.48 L 102.53 173.23 L 102.87 174.24 L 103.04 174.18 L 103.2 174.37 L 103.54 175.08 L 103.71 175.14 L 103.88 175.39 L 104.05 175.24 L 104.73 176.5 L 104.9 177 L 105.07 176.72 L 105.41 177.12 L 105.58 176.97 L 105.75 176.99 L 105.91 177.74 L 106.08 177.41 L 106.25 177.51 L 106.59 177.97 L 106.76 177.59 L 106.93 177.9 L 107.1 177.72 L 107.27 178.4 L 107.44 178.55 L 108.12 178.33 L 108.46 179.18 L 108.62 178.78 L 108.96 179.03 L 109.13 178.94 L 109.47 179.71 L 109.64 179.05 L 109.98 179.68 L 110.32 179.33 L 110.49 179.81 L 110.66 179.58 L 110.83 179.99 L 111 179.7 L 111.17 180.12 L 111.33 180 L 111.5 180.31 L 111.67 180.26 L 112.18 180.56 L 112.35 180.5 L 112.69 180.87 L 113.03 180.59 L 113.37 181.19 L 113.54 181.22 L 113.71 181.09 L 113.88 180.82 L 114.04 181.41 L 114.21 181.03 L 114.55 181.5 L 114.72 181.52 L 114.89 181.25 L 115.06 181.62 L 115.23 181.32 L 115.4 181.24 L 115.57 181.88 L 115.91 182.18 L 116.08 181.79 L 116.25 182.14 L 116.59 182.27 L 116.75 181.92 L 117.09 182.23 L 117.26 182.78 L 117.6 182.63 L 117.94 182.79 L 118.11 182.61 L 118.79 183.64 L 119.13 183.97 L 119.3 184.48 L 119.63 184.6 L 120.14 185.63 L 120.31 185.6 L 120.65 185.69 L 120.99 186.35 L 121.16 186.59 L 121.33 186.63 L 121.5 186.89 L 121.67 186.77 L 121.84 187.13 L 122.01 187.01 L 122.34 187.63 L 122.51 187.71 L 122.68 187.35 L 122.85 187.72 L 123.02 187.79 L 123.19 187.28 L 123.36 188.07 L 123.53 187.93 L 123.7 188.26 L 124.04 188.03 L 124.21 188.25 L 124.38 187.89 L 124.55 188.51 L 124.72 188.52 L 124.88 188.73 L 125.05 188.52 L 125.22 188.74 L 125.39 188.68 L 125.56 188.88 L 125.73 188.7 L 125.9 188.99 L 126.07 188.92 L 126.75 189.27 L 126.92 189.26 L 127.09 189.83 L 127.26 189.27 L 127.43 189.63 L 127.76 189.79 L 127.93 190.29 L 128.1 190.03 L 128.44 190.59 L 128.61 190.51 L 128.95 191.23 L 129.12 191.06 L 129.63 191.83 L 129.8 191.68 L 129.97 192.28 L 130.14 192.31 L 130.47 192.73 L 130.64 192.75 L 130.81 193.18 L 130.98 193.03 L 131.49 193.68 L 131.66 193.94 L 132 193.62 L 132.34 194.38 L 132.51 194.46 L 132.68 194.4 L 133.02 194.63 L 133.35 195.16 L 133.52 194.84 L 133.69 195.2 L 133.86 195.17 L 134.2 195.43 L 134.37 195.37 L 134.54 195.58 L 134.71 195.29 L 134.88 195.68 L 135.05 195.66 L 135.22 195.95 L 135.39 195.81 L 135.56 195.97 L 135.73 195.96 L 136.23 196.47 L 136.57 196.25 L 136.91 196.64 L 137.25 196.53 L 137.59 196.86 L 137.93 196.75 L 138.1 197.15 L 138.44 197.04 L 138.6 197.17 L 138.94 197.03 L 139.11 197.38 L 139.28 196.84 L 139.45 197.26 L 139.62 197.09 L 139.79 197.29 L 139.96 197.82 L 140.13 197.76 L 140.3 197.52 L 140.64 197.54 L 140.81 198.07 L 141.31 197.6 L 141.48 197.78 L 141.65 198.17 L 141.99 198.06 L 142.16 198.12 L 142.33 197.89 L 142.67 197.92 L 142.84 198.4 L 143.18 198.55 L 143.52 198.33 L 143.69 198.64 L 143.86 198.38 L 144.36 198.45 L 144.53 198.76 L 144.7 198.81 L 144.87 198.38 L 145.04 198.75 L 145.21 198.54 L 145.55 199.21 L 145.72 198.73 L 145.89 199.09 L 146.06 199.06 L 146.23 198.78 L 146.4 199.26 L 146.9 198.71 L 147.07 199.3 L 147.24 199.12 L 147.41 199.31 L 147.58 199 L 147.75 199.35 L 147.92 199.06 L 148.09 199.57 L 148.43 199.14 L 149.11 199.81 L 149.28 199.43 L 149.61 199.62 L 149.78 199.95 L 150.12 199.83 L 150.29 199.53 L 150.46 199.54 L 150.63 199.75 L 150.97 200.39 L 151.14 200.05 L 151.31 200.02 L 151.48 199.84 L 151.65 200.35 L 151.82 200.17 L 151.99 200.35 L 152.15 200.23 L 152.32 200.48 L 152.83 200.56 L 153.17 200.78 L 153.34 200.62 L 153.51 200.95 L 153.68 200.84 L 154.02 200.91 L 154.19 200.69 L 154.36 201.09 L 154.53 200.71 L 154.7 201.39 L 155.03 201.02 L 155.2 201.64 L 155.37 201.28 L 155.54 201.2 L 155.71 201.58 L 155.88 201.09 L 156.05 201.07 L 156.22 201.43 L 156.39 201.48 L 156.73 201.38 L 156.9 201.68 L 157.07 201.71 L 157.24 201.29 L 157.57 201.77 L 157.74 201.93 L 157.91 202.35 L 158.08 201.87 L 158.42 201.92 L 158.59 201.98 L 158.76 201.83 L 159.27 202.11 L 159.78 202.3 L 159.95 202 L 160.29 202.27 L 160.45 201.93 L 160.96 202.55 L 161.13 202.44 L 161.3 202.55 L 161.47 202.25 L 161.81 202.38 L 162.15 202.44 L 162.32 202.96 L 162.66 202.87 L 162.83 202.63 L 163 202.71 L 163.16 202.44 L 163.5 202.59 L 163.67 202.98 L 164.01 202.73 L 164.18 203.14 L 164.35 203.09 L 164.52 202.66 L 164.69 202.63 L 164.86 203.36 L 165.03 203.08 L 165.37 203.48 L 165.87 203.08 L 166.04 203.18 L 166.21 203.01 L 166.38 203.42 L 166.55 203.34 L 166.72 203.05 L 167.23 203.61 L 167.4 203.41 L 167.74 203.4 L 167.91 203.51 L 168.08 203.48 L 168.25 203.64 L 168.42 203.56 L 168.58 203.69 L 168.92 203.59 L 169.09 203.78 L 169.26 203.8 L 169.43 203.57 L 169.6 203.63 L 169.77 203.37 L 169.94 203.43 L 170.11 203.82 L 170.45 203.91 L 170.62 204.06 L 170.79 203.55 L 171.13 203.97 L 171.29 203.57 L 171.46 203.79 L 171.63 203.79 L 171.97 204.4 L 172.14 203.87 L 172.48 204.29 L 172.65 203.94 L 172.82 203.96 L 172.99 204.25 L 173.33 204.03 L 173.67 204.26 L 173.84 203.91 L 174 204.24 L 174.17 204 L 174.51 204.3 L 174.68 204.03 L 174.85 204.39 L 175.19 204.22 L 175.36 204.13 L 175.87 204.69 L 176.04 204.72 L 176.55 204.51 L 177.05 204.64 L 177.39 204.52 L 177.56 204.17 L 177.73 204.62 L 178.24 204.76 L 178.41 204.49 L 178.58 204.88 L 178.75 204.3 L 178.92 204.96 L 179.26 204.53 L 179.59 204.6 L 179.76 205.02 L 179.93 204.61 L 180.1 204.68 L 180.27 204.51 L 180.44 204.81 L 180.61 204.8 L 180.78 205.12 L 180.95 204.75 L 181.12 205.05 L 181.46 204.57 L 181.63 205.06 L 181.8 204.87 L 182.3 205.29 L 182.64 204.92 L 182.98 204.73 L 183.15 205.05 L 183.32 204.87 L 183.66 205.22 L 183.83 205.15 L 184 204.93 L 184.17 204.97 L 184.34 205.41 L 184.51 205.02 L 184.68 205.19 L 184.84 205.03 L 185.01 205.12 L 185.18 205.39 L 185.35 205.42 L 185.52 205.2 L 185.86 205.19 L 186.03 205.43 L 186.2 204.98 L 186.37 205.66 L 186.54 205.02 L 186.88 205.37 L 187.05 204.98 L 187.22 205.31 L 187.39 205.29 L 187.55 205.4 L 187.72 205.23 L 187.89 205.23 L 188.06 205.08 L 188.23 205.14 L 188.57 205.48 L 189.08 205.47 L 189.25 205.5 L 189.42 205.36 L 189.59 205.4 L 189.76 205.56 L 189.93 205.39 L 190.1 205.84 L 190.26 205.47 L 190.43 205.87 L 190.77 205.37 L 190.94 205.46 L 191.11 205.7 L 191.28 205.55 L 191.79 205.51 L 192.13 205.7 L 192.3 205.74 L 192.47 205.49 L 192.81 205.85 L 192.98 205.46 L 193.31 205.86 L 193.48 205.51 L 193.65 205.74 L 193.99 205.79 L 194.16 205.54 L 194.5 205.5 L 194.67 205.79 L 194.84 205.27 L 195.01 205.8 L 195.18 205.89 L 195.35 205.76 L 195.52 206.02 L 195.85 205.8 L 196.19 205.51 L 196.53 205.8 L 196.7 205.75 L 196.87 205.97 L 197.04 205.52 L 197.21 205.74 L 197.38 205.7 L 197.72 205.94 L 198.06 205.96 L 198.23 205.92 L 198.4 205.68 L 198.56 205.96 L 198.73 205.74 L 198.9 205.71 L 199.07 205.79 L 199.24 205.72 L 199.41 206.26 L 199.58 205.83 L 199.75 205.96 L 199.92 205.66 L 200.26 205.96 L 200.6 205.89 L 200.77 205.63 L 200.94 206.01 L 201.11 205.9 L 201.27 206.05 L 201.61 205.91 L 201.95 206.01 L 202.12 205.73 L 202.8 205.95 L 202.97 206.01 L 203.14 205.88 L 203.31 205.96 L 203.48 206.17 L 203.82 205.76 L 204.15 206.28 L 204.66 205.91 L 204.83 206.38 L 205 205.95 L 205.17 205.86 L 205.34 205.9 L 205.51 206.38 L 205.85 205.95 L 206.36 206.36 L 206.69 206.13 L 206.86 206.4 L 207.37 206.04 L 207.54 206.24 L 207.71 206.05 L 208.05 206.4 L 208.73 206.4 L 208.9 205.99 L 209.07 206.19 L 209.24 205.99 L 209.4 206.55 L 209.57 206.27 L 209.91 206.65 L 210.08 206.32 L 210.25 206.54 L 210.59 206.01 L 210.76 206.44 L 211.1 206.59 L 211.27 206.74 L 211.44 206.54 L 211.61 206.65 L 211.78 206.49 L 211.95 206.59 L 212.45 206.36 L 212.62 206.76 L 212.79 206.71 L 212.96 206.35 L 213.13 206.45 L 213.3 206.73 L 213.47 206.2 L 213.64 207.1 L 213.81 206.71 L 213.98 206.71 L 214.15 206.58 L 214.32 206.9 L 214.49 206.68 L 214.66 206.66 L 214.82 206.51 L 214.99 207.03 L 215.16 206.84 L 215.33 206.84 L 215.67 206.43 L 215.84 206.48 L 216.01 206.89 L 216.18 206.75 L 216.69 206.93 L 216.86 206.79 L 217.03 206.85 L 217.2 206.75 L 217.37 206.88 L 217.53 206.44 L 217.7 207.15 L 217.87 206.98 L 218.04 206.98 L 218.38 206.76 L 218.55 206.93 L 218.72 206.43 L 218.89 206.87 L 219.06 206.7 L 219.4 207.08 L 219.57 206.85 L 219.91 207.24 L 220.41 206.79 L 220.58 207.07 L 220.92 207 L 221.09 206.93 L 221.26 207.2 L 221.43 207.03 L 221.6 207.18 L 221.77 207.02 L 222.11 206.95 L 222.28 206.83 L 222.45 207.22 L 222.62 207.29 L 222.79 207.13 L 223.12 207.16 L 223.29 207.04 L 223.46 207.16 L 223.63 207.05 L 224.14 207.36 L 224.31 207.12 L 224.48 207.24 L 224.65 207.05 L 225.16 207.25 L 225.67 207.54 L 225.83 207.29 L 226 207.32 L 226.17 207.54 L 226.34 207.31 L 226.51 207.31 L 226.68 207.56 L 226.85 207.57 L 227.19 207.29 L 227.36 207.37 L 227.53 207.72 L 227.7 207.62 L 227.87 207.37 L 228.04 207.63 L 228.21 207.31 L 228.38 207.31 L 228.54 207.63 L 228.88 207.4 L 229.56 207.57 L 229.73 207.31 L 229.9 207.47 L 230.07 207.4 L 230.24 207.55 L 230.58 207.47 L 230.92 207.74 L 231.09 207.57 L 231.42 207.74 L 231.76 207.89 L 231.93 207.66 L 232.1 207.84 L 232.44 207.76 L 232.61 207.91 L 232.78 207.64 L 232.95 207.59 L 233.12 207.92 L 233.46 207.79 L 234.13 207.89 L 234.3 207.68 L 234.47 208.1 L 234.64 207.97 L 234.81 207.67 L 234.98 207.89 L 235.49 207.58 L 235.66 208.02 L 236.34 207.83 L 236.51 207.97 L 236.67 207.82 L 236.84 207.9 L 237.01 207.67 L 237.18 208.15 L 237.35 207.81 L 237.69 208.03 L 237.86 207.8 L 238.03 207.8 L 238.2 208.15 L 238.37 207.82 L 238.71 208.02 L 239.22 208.06 L 239.38 207.96 L 239.55 208.36 L 239.72 207.84 L 240.06 208.08 L 240.23 207.94 L 240.4 208.04 L 240.74 207.85 L 240.91 207.95 L 241.08 208.49 L 241.25 207.82 L 241.42 208.02 L 241.59 207.93 L 241.76 208.16 L 242.26 207.97 L 242.6 208 L 242.94 207.93 L 243.28 207.97 L 243.45 208.13 L 243.62 207.96 L 243.79 208.18 L 244.13 207.87 L 244.3 208.32 L 244.47 208.28 L 244.64 208.45 L 244.8 207.83 L 244.97 208.1 L 245.31 208.09 L 245.65 208.27 L 245.82 208.11 L 245.99 208.29 L 246.33 207.91 L 246.5 207.81 L 246.67 208.3 L 246.84 208.23 L 247.35 208.36 L 247.85 208.01 L 248.02 208.33 L 248.19 208.1 L 248.36 208.24 L 249.04 208.08 L 249.38 208.18 L 250.22 208.22 L 250.39 208.04 L 250.56 208.4 L 250.9 208.25 L 251.07 208.28 L 251.24 208.61 L 251.41 208.12 L 251.58 208.06 L 251.75 208.54 L 251.92 208.5 L 252.09 208.1 L 252.26 208.53 L 252.43 208.3 L 252.77 208.39 L 252.93 208.28 L 253.27 208.59 L 253.44 208.37 L 253.78 208.33 L 254.12 208.15 L 254.46 208.4 L 254.63 208.33 L 254.8 208.59 L 255.14 208.54 L 255.31 208.67 L 255.48 208.33 L 255.65 208.61 L 255.98 208.62 L 256.15 208.26 L 256.32 208.3 L 256.49 208.46 L 256.66 208.41 L 256.83 208.79 L 257.17 208.5 L 257.51 208.77 L 257.85 208.47 L 258.02 208.38 L 258.19 208.76 L 258.36 208.41 L 258.52 208.81 L 258.69 208.62 L 259.03 208.72 L 259.2 208.42 L 259.54 208.69 L 259.71 208.55 L 259.88 208.82 L 260.22 208.52 L 260.39 208.69 L 260.56 208.47 L 260.73 208.93 L 260.9 208.96 L 261.23 208.84 L 261.4 208.89 L 261.57 208.62 L 261.91 209 L 262.08 208.96 L 262.25 208.81 L 262.42 209.07 L 262.59 208.84 L 262.76 209.06 L 263.1 208.9 L 263.27 209.16 L 263.61 209.03 L 263.94 208.89 L 264.28 209.22 L 264.45 209.09 L 264.62 209.17 L 265.3 208.92 L 265.64 209.35 L 265.98 209.13 L 266.32 209.32 L 266.65 208.99 L 266.82 209.22 L 266.99 209.13 L 267.16 208.89 L 267.33 209.29 L 267.5 209.1 L 267.67 209.44 L 268.18 209.09 L 268.52 209.33 L 268.86 209.06 L 269.03 209.07 L 269.2 209.42 L 269.36 209.21 L 269.53 209.39 L 269.87 209.16 L 270.04 209.49 L 270.21 209.02 L 270.38 209.42 L 270.55 209.32 L 270.72 209.6 L 271.23 209.17 L 271.4 209.09 L 271.74 209.52 L 271.91 209.53 L 272.07 208.96 L 272.41 209.54 L 272.58 209.4 L 272.75 209.42 L 272.92 209.27 L 273.26 209.68 L 273.6 209.35 L 274.11 209.63 L 274.28 209.27 L 274.45 209.36 L 274.62 209.58 L 274.78 209.54 L 274.95 209.19 L 275.12 209.51 L 275.29 209.27 L 275.46 209.49 L 276.31 209.62 L 276.48 209.24 L 276.65 209.55 L 276.82 209.58 L 276.99 209.33 L 277.16 209.61 L 277.66 209.38 L 277.83 209.75 L 278 209.66 L 278.17 209.87 L 278.34 209.45 L 279.02 209.64 L 279.19 209.46 L 279.36 209.7 L 279.7 209.61 L 279.87 209.42 L 280.04 209.75 L 280.2 209.14 L 280.37 209.68 L 280.54 209.8 L 280.71 209.56 L 280.88 209.71 L 281.05 209.49 L 281.22 209.47 L 281.39 209.74 L 281.56 209.52 L 281.73 209.68 L 281.9 209.57 L 282.07 209.68 L 282.41 209.57 L 282.58 209.41 L 282.75 209.68 L 283.08 209.41 L 283.25 209.75 L 283.42 209.48 L 283.59 209.69 L 283.93 209.59 L 284.1 209.69 L 284.27 209.45 L 284.44 209.48 L 284.78 209.68 L 285.29 209.61 L 285.46 209.89 L 285.63 209.6 L 285.96 209.76 L 286.3 209.96 L 286.47 209.68 L 286.64 209.83 L 286.81 209.8 L 286.98 209.38 L 287.15 209.96 L 287.49 209.66 L 287.66 210.03 L 288 209.79 L 288.17 209.93 L 288.34 209.64 L 288.5 209.81 L 288.67 209.81 L 289.01 210 L 289.18 209.89 L 289.35 209.6 L 289.52 209.89 L 289.86 209.84 L 290.03 210.05 L 290.2 209.83 L 290.54 210.21 L 290.71 210.24 L 291.05 209.73 L 291.21 209.92 L 291.38 209.87 L 291.72 210.47 L 291.89 209.82 L 292.06 209.95 L 292.23 210.34 L 292.4 210.09 L 292.91 210.32 L 293.25 210.1 L 293.42 210.41 L 293.59 210.18 L 293.76 210.46 L 293.92 210.18 L 294.09 210.32 L 294.26 210.18 L 294.43 210.26 L 294.6 210.57 L 295.28 210.24 L 295.45 210.59 L 295.62 210.46 L 295.79 210.12 L 296.13 210.62 L 296.3 210.76 L 296.47 210.46 L 296.63 210.41 L 296.8 210.67 L 296.97 210.45 L 297.31 210.4 L 297.82 210.75 L 297.99 210.54 L 298.16 210.87 L 298.33 210.48 L 298.84 211 L 299.01 210.87 L 299.18 210.98 L 299.34 210.93 L 299.68 210.49 L 299.85 210.97 L 300.02 210.95 L 300.19 210.55 L 300.36 210.84 L 300.53 210.82 L 300.7 210.98 L 300.87 210.67 L 301.04 210.89 L 301.55 210.71 L 301.89 211.02 L 302.05 210.87 L 302.22 210.97 L 302.39 211.21 L 302.56 211.05 L 302.73 211.19 L 302.9 211 L 303.41 211.22 L 303.58 210.92 L 303.75 210.97 L 303.92 210.85 L 304.09 211.17 L 304.26 211.01 L 304.43 211.09 L 304.6 210.94 L 304.76 211.1 L 304.93 210.93 L 305.1 211.15 L 305.27 210.94 L 305.95 211.02 L 306.29 210.86 L 306.63 210.98 L 306.97 211.08 L 307.31 211.01 L 307.81 211.15 L 307.98 210.9 L 308.15 211.1 L 308.32 211.01 L 308.49 211.06 L 308.66 210.96 L 308.83 211.04 L 309 210.85 L 309.34 211.16 L 309.51 211 L 309.68 211.15 L 310.02 210.88 L 310.18 211.19 L 310.35 210.93 L 310.52 211.01 L 310.69 210.86 L 310.86 211 L 311.03 210.87 L 311.2 210.99 L 311.37 210.84 L 311.71 211.1 L 311.88 210.98 L 312.05 211 L 312.22 210.76 L 312.56 211.21 L 312.73 210.83 L 313.06 211.23 L 313.4 211.1 L 313.57 211.05 L 313.74 210.7 L 313.91 211.03 L 314.08 210.91 L 314.25 210.93 L 314.59 211.23 L 314.76 210.74 L 314.93 211.06 L 315.1 211.11 L 315.27 210.92 L 315.44 211.11 L 315.6 211.07 L 315.77 210.86 L 315.94 211.06 L 316.11 210.96 L 316.28 211.04 L 316.45 210.79 L 316.79 211.36 L 316.96 210.97 L 317.13 211.03 L 317.3 210.61 L 317.47 210.97 L 318.15 210.9 L 318.32 211.1 L 318.48 211.02 L 318.65 210.78 L 318.82 211.14 L 319.33 210.87 L 319.5 210.97 L 319.84 210.86 L 320.18 211.06 L 320.35 210.9 L 320.69 211.04 L 320.86 210.79 L 321.03 210.9 L 321.03 210.9 
" clip-path="url(#p1e43ecd677)" style="fill: none; stroke: #bf00bf; stroke-linecap: square"/>
<g clip-path="url(#p1e43ecd677)">
<path d="M 0 1.3 
C 0.34 1.3 0.68 1.16 0.92 0.92 
C 1.16 0.68 1.3 0.34 1.3 0 
C 1.3 -0.34 1.16 -0.68 0.92 -0.92 
C 0.68 -1.16 0.34 -1.3 0 -1.3 
C -0.34 -1.3 -0.68 -1.16 -0.92 -0.92 
C -1.16 -0.68 -1.3 -0.34 -1.3 0 
C -1.3 0.34 -1.16 0.68 -0.92 0.92 
C -0.68 1.16 -0.34 1.3 0 1.3 z
" transform="translate(67.13 38.81)" style="fill: #bf00bf; stroke: #bf00bf"/>
<path d="M 0 1.3 
C 0.34 1.3 0.68 1.16 0.92 0.92 
C 1.16 0.68 1.3 0.34 1.3 0 
C 1.3 -0.34 1.16 -0.68 0.92 -0.92 
C 0.68 -1.16 0.34 -1.3 0 -1.3 
C -0.34 -1.3 -0.68 -1.16 -0.92 -0.92 
C -1.16 -0.68 -1.3 -0.34 -1.3 0 
C -1.3 0.34 -1.16 0.68 -0.92 0.92 
C -0.68 1.16 -0.34 1.3 0 1.3 z
" transform="translate(84.06 113.94)" style="fill: #bf00bf; stroke: #bf00bf"/>
<path d="M 0 1.3 
C 0.34 1.3 0.68 1.16 0.92 0.92 
C 1.16 0.68 1.3 0.34 1.3 0 
C 1.3 -0.34 1.16 -0.68 0.92 -0.92 
C 0.68 -1.16 0.34 -1.3 0 -1.3 
C -0.34 -1.3 -0.68 -1.16 -0.92 -0.92 
C -1.16 -0.68 -1.3 -0.34 -1.3 0 
C -1.3 0.34 -1.16 0.68 -0.92 0.92 
C -0.68 1.16 -0.34 1.3 0 1.3 z
" transform="translate(101 171.29)" style="fill: #bf00bf; stroke: #bf00bf"/>
<path d="M 0 1.3 
C 0.34 1.3 0.68 1.16 0.92 0.92 
C 1.16 0.68 1.3 0.34 1.3 0 
C 1.3 -0.34 1.16 -0.68 0.92 -0.92 
C 0.68 -1.16 0.34 -1.3 0 -1.3 
C -0.34 -1.3 -0.68 -1.16 -0.92 -0.92 
C -1.16 -0.68 -1.3 -0.34 -1.3 0 
C -1.3 0.34 -1.16 0.68 -0.92 0.92 
C -0.68 1.16 -0.34 1.3 0 1.3 z
" transform="translate(117.94 182.79)" style="fill: #bf00bf; stroke: #bf00bf"/>
<path d="M 0 1.3 
C 0.34 1.3 0.68 1.16 0.92 0.92 
C 1.16 0.68 1.3 0.34 1.3 0 
C 1.3 -0.34 1.16 -0.68 0.92 -0.92 
C 0.68 -1.16 0.34 -1.3 0 -1.3 
C -0.34 -1.3 -0.68 -1.16 -0.92 -0.92 
C -1.16 -0.68 -1.3 -0.34 -1.3 0 
C -1.3 0.34 -1.16 0.68 -0.92 0.92 
C -0.68 1.16 -0.34 1.3 0 1.3 z
" transform="translate(134.88 195.68)" style="fill: #bf00bf; stroke: #bf00bf"/>
<path d="M 0 1.3 
C 0.34 1.3 0.68 1.16 0.92 0.92 
C 1.16 0.68 1.3 0.34 1.3 0 
C 1.3 -0.34 1.16 -0.68 0.92 -0.92 
C 0.68 -1.16 0.34 -1.3 0 -1.3 
C -0.34 -1.3 -0.68 -1.16 -0.92 -0.92 
C -1.16 -0.68 -1.3 -0.34 -1.3 0 
C -1.3 0.34 -1.16 0.68 -0.92 0.92 
C -0.68 1.16 -0.34 1.3 0 1.3 z
" transform="translate(151.82 200.17)" style="fill: #bf00bf; stroke: #bf00bf"/>
<path d="M 0 1.3 
C 0.34 1.3 0.68 1.16 0.92 0.92 
C 1.16 0.68 1.3 0.34 1.3 0 
C 1.3 -0.34 1.16 -0.68 0.92 -0.92 
C 0.68 -1.16 0.34 -1.3 0 -1.3 
C -0.34 -1.3 -0.68 -1.16 -0.92 -0.92 
C -1.16 -0.68 -1.3 -0.34 -1.3 0 
C -1.3 0.34 -1.16 0.68 -0.92 0.92 
C -0.68 1.16 -0.34 1.3 0 1.3 z
" transform="translate(168.75 203.65)" style="fill: #bf00bf; stroke: #bf00bf"/>
<path d="M 0 1.3 
C 0.34 1.3 0.68 1.16 0.92 0.92 
C 1.16 0.68 1.3 0.34 1.3 0 
C 1.3 -0.34 1.16 -0.68 0.92 -0.92 
C 0.68 -1.16 0.34 -1.3 0 -1.3 
C -0.34 -1.3 -0.68 -1.16 -0.92 -0.92 
C -1.16 -0.68 -1.3 -0.34 -1.3 0 
C -1.3 0.34 -1.16 0.68 -0.92 0.92 
C -0.68 1.16 -0.34 1.3 0 1.3 z
" transform="translate(185.69 205.2)" style="fill: #bf00bf; stroke: #bf00bf"/>
<path d="M 0 1.3 
C 0.34 1.3 0.68 1.16 0.92 0.92 
C 1.16 0.68 1.3 0.34 1.3 0 
C 1.3 -0.34 1.16 -0.68 0.92 -0.92 
C 0.68 -1.16 0.34 -1.3 0 -1.3 
C -0.34 -1.3 -0.68 -1.16 -0.92 -0.92 
C -1.16 -0.68 -1.3 -0.34 -1.3 0 
C -1.3 0.34 -1.16 0.68 -0.92 0.92 
C -0.68 1.16 -0.34 1.3 0 1.3 z
" transform="translate(202.63 206.05)" style="fill: #bf00bf; stroke: #bf00bf"/>
<path d="M 0 1.3 
C 0.34 1.3 0.68 1.16 0.92 0.92 
C 1.16 0.68 1.3 0.34 1.3 0 
C 1.3 -0.34 1.16 -0.68 0.92 -0.92 
C 0.68 -1.16 0.34 -1.3 0 -1.3 
C -0.34 -1.3 -0.68 -1.16 -0.92 -0.92 
C -1.16 -0.68 -1.3 -0.34 -1.3 0 
C -1.3 0.34 -1.16 0.68 -0.92 0.92 
C -0.68 1.16 -0.34 1.3 0 1.3 z
" transform="translate(219.57 206.85)" style="fill: #bf00bf; stroke: #bf00bf"/>
<path d="M 0 1.3 
C 0.34 1.3 0.68 1.16 0.92 0.92 
C 1.16 0.68 1.3 0.34 1.3 0 
C 1.3 -0.34 1.16 -0.68 0.92 -0.92 
C 0.68 -1.16 0.34 -1.3 0 -1.3 
C -0.34 -1.3 -0.68 -1.16 -0.92 -0.92 
C -1.16 -0.68 -1.3 -0.34 -1.3 0 
C -1.3 0.34 -1.16 0.68 -0.92 0.92 
C -0.68 1.16 -0.34 1.3 0 1.3 z
" transform="translate(236.51 207.97)" style="fill: #bf00bf; stroke: #bf00bf"/>
<path d="M 0 1.3 
C 0.34 1.3 0.68 1.16 0.92 0.92 
C 1.16 0.68 1.3 0.34 1.3 0 
C 1.3 -0.34 1.16 -0.68 0.92 -0.92 
C 0.68 -1.16 0.34 -1.3 0 -1.3 
C -0.34 -1.3 -0.68 -1.16 -0.92 -0.92 
C -1.16 -0.68 -1.3 -0.34 -1.3 0 
C -1.3 0.34 -1.16 0.68 -0.92 0.92 
C -0.68 1.16 -0.34 1.3 0 1.3 z
" transform="translate(253.44 208.37)" style="fill: #bf00bf; stroke: #bf00bf"/>
<path d="M 0 1.3 
C 0.34 1.3 0.68 1.16 0.92 0.92 
C 1.16 0.68 1.3 0.34 1.3 0 
C 1.3 -0.34 1.16 -0.68 0.92 -0.92 
C 0.68 -1.16 0.34 -1.3 0 -1.3 
C -0.34 -1.3 -0.68 -1.16 -0.92 -0.92 
C -1.16 -0.68 -1.3 -0.34 -1.3 0 
C -1.3 0.34 -1.16 0.68 -0.92 0.92 
C -0.68 1.16 -0.34 1.3 0 1.3 z
" transform="translate(270.38 209.42)" style="fill: #bf00bf; stroke: #bf00bf"/>
<path d="M 0 1.3 
C 0.34 1.3 0.68 1.16 0.92 0.92 
C 1.16 0.68 1.3 0.34 1.3 0 
C 1.3 -0.34 1.16 -0.68 0.92 -0.92 
C 0.68 -1.16 0.34 -1.3 0 -1.3 
C -0.34 -1.3 -0.68 -1.16 -0.92 -0.92 
C -1.16 -0.68 -1.3 -0.34 -1.3 0 
C -1.3 0.34 -1.16 0.68 -0.92 0.92 
C -0.68 1.16 -0.34 1.3 0 1.3 z
" transform="translate(287.32 209.83)" style="fill: #bf00bf; stroke: #bf00bf"/>
<path d="M 0 1.3 
C 0.34 1.3 0.68 1.16 0.92 0.92 
C 1.16 0.68 1.3 0.34 1.3 0 
C 1.3 -0.34 1.16 -0.68 0.92 -0.92 
C 0.68 -1.16 0.34 -1.3 0 -1.3 
C -0.34 -1.3 -0.68 -1.16 -0.92 -0.92 
C -1.16 -0.68 -1.3 -0.34 -1.3 0 
C -1.3 0.34 -1.16 0.68 -0.92 0.92 
C -0.68 1.16 -0.34 1.3 0 1.3 z
" transform="translate(304.26 211.01)" style="fill: #bf00bf; stroke: #bf00bf"/>
</g>
</g>
<g id="line2d_29">
<path d="M 67.13 38.81 L 67.8 88.16 L 68.48 122.93 L 69.16 146.92 L 69.84 160.16 L 71.7 178.36 L 71.87 178.09 L 72.04 178.86 L 72.21 178.71 L 72.38 179.17 L 72.55 179.3 L 72.72 180.39 L 72.89 180.58 L 73.22 179.53 L 73.39 180.66 L 73.56 180.92 L 73.73 181.58 L 73.9 180.72 L 74.24 182.14 L 74.41 182.3 L 74.58 182.95 L 74.75 182.77 L 75.43 184.71 L 75.6 184.68 L 75.77 185.93 L 75.93 185.79 L 76.1 185.91 L 76.27 186.71 L 76.44 186.92 L 76.61 189.93 L 76.78 190.19 L 76.95 190.93 L 77.12 191 L 77.46 192.18 L 77.63 192.06 L 77.8 192.53 L 77.97 191.75 L 78.14 193.15 L 78.31 193 L 78.48 193.01 L 78.81 193.77 L 78.98 193.84 L 79.15 194.08 L 79.32 194.52 L 79.49 194.21 L 79.66 193.64 L 79.83 193.81 L 80 195.03 L 80.17 194.43 L 80.51 195.13 L 80.68 195.26 L 80.85 194.89 L 81.02 195.81 L 81.19 196.02 L 81.35 195.28 L 81.52 196.74 L 81.86 196.02 L 82.2 196.61 L 82.37 195.78 L 82.71 196.57 L 82.88 196.45 L 83.22 197.28 L 83.39 196.7 L 83.56 196.74 L 83.73 197.92 L 83.9 196.81 L 84.06 197.43 L 84.23 197.2 L 84.4 198.26 L 84.57 197.57 L 84.74 198.25 L 84.91 197.57 L 85.08 198.14 L 85.25 198.29 L 85.42 198.71 L 85.59 198.41 L 85.76 198.35 L 85.93 199.12 L 86.1 198.84 L 86.27 199.1 L 86.44 198.32 L 86.77 199.2 L 86.94 198.5 L 87.28 199.12 L 87.45 199.2 L 87.62 198.63 L 87.96 200.01 L 88.13 199.58 L 88.3 199.55 L 88.47 200.47 L 88.64 199.09 L 88.81 198.94 L 88.98 199.95 L 89.15 199.14 L 89.65 200.09 L 89.82 198.96 L 90.16 200.14 L 90.33 199.52 L 90.67 200.28 L 90.84 199.58 L 91.01 199.78 L 91.18 200.83 L 91.35 200.08 L 91.86 199.59 L 92.03 200.09 L 92.19 200.15 L 92.36 200.84 L 92.53 200.44 L 92.7 200.7 L 92.87 200.06 L 93.04 199.96 L 93.38 201.52 L 93.55 200.48 L 93.72 200.2 L 94.06 201.41 L 94.23 200.53 L 94.4 201.27 L 94.57 200.95 L 94.74 201.09 L 94.9 200.71 L 95.07 201.76 L 95.24 200.68 L 95.41 201.13 L 95.58 200.39 L 95.92 202.4 L 96.09 201.61 L 96.26 202.25 L 96.43 201.62 L 96.6 202.59 L 96.77 201.44 L 96.94 201.75 L 97.11 201.58 L 97.45 202.56 L 97.62 201.55 L 97.95 201.5 L 98.12 202.41 L 98.46 202.04 L 98.63 202.54 L 98.8 202.34 L 98.97 202.35 L 99.14 201.99 L 99.31 203.24 L 99.48 201.87 L 99.65 202.5 L 99.82 202.5 L 99.99 202.78 L 100.16 202.05 L 100.49 202.5 L 100.66 202.12 L 100.83 202.83 L 101 202.67 L 101.17 203.1 L 101.34 202.91 L 101.51 202.08 L 101.68 203.16 L 101.85 203.23 L 102.19 202.81 L 102.36 202.73 L 102.7 203.16 L 102.87 203.19 L 103.04 202.15 L 103.2 204.07 L 103.37 203.27 L 103.54 203.03 L 103.71 203.82 L 103.88 203.21 L 104.05 203.23 L 104.22 204.72 L 104.39 202.72 L 104.9 204.04 L 105.07 203.79 L 105.24 204.03 L 105.41 204.07 L 105.58 203.3 L 105.75 204.64 L 105.91 204.7 L 106.25 203.51 L 106.42 204.3 L 106.59 203.56 L 106.76 204.11 L 106.93 203.88 L 107.1 203.95 L 107.44 203.76 L 107.95 204.75 L 108.12 203.66 L 108.29 204.07 L 108.46 203.8 L 108.62 204.51 L 108.79 203.97 L 109.13 203.73 L 109.3 204.34 L 109.47 203.9 L 109.64 205.01 L 109.81 204.58 L 109.98 204.93 L 110.15 205.02 L 110.49 204.17 L 110.66 204.9 L 110.83 204.82 L 111.17 204.95 L 111.33 204.32 L 111.5 204.24 L 111.67 205.33 L 111.84 204.53 L 112.01 204.51 L 112.35 205.48 L 112.52 204.86 L 112.69 205.33 L 112.86 204.56 L 113.03 204.66 L 113.2 204.23 L 113.37 205.07 L 113.54 204.76 L 113.71 205.08 L 113.88 204.82 L 114.04 205.35 L 114.21 205.37 L 114.38 205.65 L 114.55 205.19 L 114.72 205.16 L 114.89 204.53 L 115.23 205.43 L 115.4 204.92 L 115.57 204.93 L 115.74 205.61 L 115.91 205.46 L 116.08 205.77 L 116.59 205.72 L 116.75 205.93 L 116.92 205.53 L 117.26 206.57 L 117.6 205.4 L 117.77 205.77 L 117.94 205.73 L 118.11 205.91 L 118.45 206.58 L 118.62 206.49 L 118.79 205.94 L 118.96 206.09 L 119.13 205.95 L 119.3 206.26 L 119.46 205.05 L 119.63 206.33 L 119.8 205.44 L 119.97 206.19 L 120.31 205.27 L 120.65 205.52 L 120.82 205.98 L 120.99 206.85 L 121.16 206.95 L 121.33 206.15 L 121.5 205.89 L 121.67 206.82 L 121.84 205.77 L 122.17 206.8 L 122.34 206.32 L 122.51 205.47 L 122.68 206.71 L 122.85 206.29 L 123.02 206.22 L 123.19 206.53 L 123.36 205.87 L 123.53 205.73 L 123.7 206.05 L 123.87 205.73 L 124.04 206.35 L 124.21 206.11 L 124.38 206.92 L 124.55 205.97 L 124.88 207.12 L 125.05 206.44 L 125.22 207.02 L 125.39 206.89 L 125.56 206.15 L 125.73 206.16 L 126.07 207.54 L 126.24 206.32 L 126.41 207.11 L 126.58 206.26 L 126.75 206.28 L 126.92 206.43 L 127.09 205.77 L 127.43 206.83 L 127.59 206.97 L 127.93 206.65 L 128.1 207.4 L 128.44 206.84 L 128.61 207.46 L 128.78 207.44 L 128.95 206.72 L 129.12 207.48 L 129.29 206.34 L 129.97 207.22 L 130.14 206.68 L 130.31 206.68 L 130.47 206.44 L 130.64 207.99 L 130.81 206.65 L 130.98 206.55 L 131.15 207.22 L 131.32 206.79 L 131.49 207.21 L 131.66 207.17 L 131.83 207.58 L 132 206.7 L 132.34 207.16 L 132.51 207.15 L 133.02 206.48 L 133.35 207.49 L 133.52 206.96 L 133.69 207.94 L 133.86 206.67 L 134.03 206.96 L 134.2 207.6 L 134.37 207.56 L 134.54 207.79 L 134.71 207.34 L 135.05 207.56 L 135.39 208.33 L 135.56 207.46 L 136.06 207.95 L 136.23 207.6 L 136.4 207.56 L 136.57 207.75 L 136.91 207.41 L 137.08 207.72 L 137.25 207.02 L 137.42 207.24 L 137.59 207.1 L 137.76 207.79 L 138.1 207.48 L 138.27 207.57 L 138.44 207.86 L 138.6 207.86 L 138.94 207.23 L 139.11 206.93 L 139.28 207.74 L 139.45 207.37 L 139.62 207.34 L 139.79 207.59 L 140.13 207.7 L 140.3 207.31 L 140.47 207.3 L 140.64 207.98 L 140.81 207.79 L 140.98 207.95 L 141.15 207.57 L 141.31 207.86 L 141.65 207.11 L 141.82 207.86 L 141.99 207.23 L 142.33 207.8 L 142.67 207.84 L 143.01 207.09 L 143.18 207.84 L 143.35 208.08 L 143.52 207.47 L 143.69 207.69 L 143.86 208.28 L 144.02 207.68 L 144.19 208.19 L 144.53 207.8 L 144.7 208.25 L 145.04 207.89 L 145.21 208.65 L 145.38 208.2 L 145.55 208.78 L 145.72 207.97 L 145.89 208.13 L 146.06 208.5 L 146.23 208.36 L 146.4 208.81 L 146.57 208.21 L 146.73 208.57 L 147.07 207.92 L 147.41 208.84 L 147.58 207.87 L 147.75 208.68 L 147.92 208.02 L 148.09 208.31 L 148.26 208.03 L 148.6 209.24 L 149.11 207.81 L 149.28 208.88 L 149.44 208.36 L 149.61 209.14 L 149.78 208.78 L 149.95 208.14 L 150.12 208.11 L 150.46 208.53 L 150.8 208.16 L 150.97 208.59 L 151.14 208.62 L 151.48 208.42 L 151.65 209.3 L 151.82 208.69 L 151.99 208.74 L 152.15 208.59 L 152.32 208.81 L 152.49 208.21 L 152.83 208.63 L 153 207.53 L 153.17 208.41 L 153.34 208.32 L 153.51 208.72 L 153.85 208.41 L 154.19 209.4 L 154.36 207.94 L 154.53 209.44 L 154.7 209.31 L 154.86 208.87 L 155.03 209.06 L 155.2 208.8 L 155.37 208.19 L 155.54 208.42 L 155.71 209.55 L 156.05 208.65 L 156.22 208.84 L 156.39 209.68 L 156.73 208.57 L 157.07 209.31 L 157.24 209.68 L 157.57 208.24 L 157.74 209.57 L 157.91 208.89 L 158.42 210.11 L 158.59 209.35 L 158.93 209.74 L 159.1 209.35 L 159.27 209.29 L 159.44 208.44 L 159.61 209.49 L 159.95 209.82 L 160.12 209.17 L 160.29 208.98 L 160.45 209.4 L 160.62 208.99 L 160.96 209.43 L 161.13 209.58 L 161.3 209.29 L 161.47 209.23 L 161.98 209.74 L 162.15 208.93 L 162.32 209.62 L 162.49 208.68 L 162.66 209.98 L 162.83 209.45 L 163 209.54 L 163.33 210.1 L 163.5 209.7 L 163.67 208.85 L 163.84 209.77 L 164.01 209.37 L 164.35 209.36 L 164.52 210.52 L 164.69 209.79 L 164.86 210.35 L 165.03 209.44 L 165.37 209.26 L 165.54 209.46 L 165.71 209.27 L 165.87 209.41 L 166.04 209.69 L 166.21 209.49 L 166.38 210.18 L 166.55 209.69 L 166.72 210.16 L 166.89 209.99 L 167.23 209.18 L 167.4 209.78 L 167.57 209.41 L 167.74 209.7 L 167.91 209.29 L 168.08 209.53 L 168.25 210.03 L 168.42 209.39 L 168.75 209.92 L 168.92 209.14 L 169.26 210.1 L 169.43 210.7 L 169.6 210.54 L 169.77 209.61 L 169.94 211.28 L 170.11 209.63 L 170.28 210.4 L 170.45 210.33 L 170.62 209.46 L 170.79 210.54 L 170.96 210.22 L 171.13 210.36 L 171.29 210.12 L 171.63 209.4 L 171.8 210.84 L 171.97 210.62 L 172.14 209.24 L 172.31 210.02 L 172.48 209.59 L 172.65 209.66 L 172.99 210.88 L 173.16 210.25 L 173.33 210.47 L 173.5 210 L 173.67 210.46 L 173.84 209.73 L 174 211.28 L 174.17 211.25 L 174.34 210.82 L 174.51 211.09 L 174.68 210.57 L 174.85 210.86 L 175.02 210.03 L 175.19 210.48 L 175.36 210.34 L 175.53 210.69 L 175.7 210.51 L 176.04 210.86 L 176.21 210.41 L 176.38 211.25 L 176.55 210.7 L 176.71 210.79 L 176.88 210.04 L 177.22 211.26 L 177.39 210.61 L 177.9 210.27 L 178.24 210.43 L 178.41 210.11 L 178.58 210.76 L 178.75 210.43 L 178.92 210.59 L 179.26 210.48 L 179.42 210.83 L 179.76 210.63 L 179.93 211.54 L 180.1 210.55 L 180.27 210.29 L 180.44 210.74 L 180.61 210.87 L 180.78 210.83 L 180.95 210.35 L 181.12 210.95 L 181.29 210.31 L 181.46 211.27 L 181.63 211.01 L 181.8 210.19 L 182.13 211.37 L 182.3 210.76 L 182.47 211.02 L 182.81 210.64 L 182.98 211.02 L 183.15 210.63 L 183.32 210.84 L 183.49 210.72 L 183.66 210.86 L 183.83 211.35 L 184.17 211.1 L 184.34 210.51 L 184.51 211.13 L 184.68 211.19 L 184.84 210.78 L 185.01 210.67 L 185.52 211.59 L 185.86 210.65 L 186.03 211.16 L 186.2 211.07 L 186.37 211.42 L 186.54 211.38 L 186.71 211.11 L 186.88 211.27 L 187.05 211.04 L 187.55 211.41 L 187.72 211.02 L 187.89 211.72 L 188.06 211.13 L 188.4 211.94 L 188.74 211.49 L 188.91 210.47 L 189.25 211.88 L 189.42 211.03 L 189.59 211.76 L 189.76 211.81 L 190.1 210.95 L 190.26 210.49 L 190.6 211.53 L 191.11 210.57 L 191.28 211.55 L 191.45 210.57 L 191.79 211.63 L 191.96 210.95 L 192.13 211.13 L 192.3 211.77 L 192.47 211.6 L 192.64 211.25 L 192.81 211.18 L 192.98 211.79 L 193.14 210.99 L 193.31 211.76 L 193.48 211.75 L 193.82 210.96 L 193.99 211.58 L 194.16 211.56 L 194.5 211.07 L 194.67 211.69 L 194.84 211.68 L 195.01 211.8 L 195.18 212.13 L 195.35 211.24 L 195.52 211.64 L 195.69 211.08 L 195.85 211.63 L 196.02 210.97 L 196.19 211.4 L 196.36 211.13 L 196.53 211.91 L 196.87 211.59 L 197.04 210.71 L 197.55 212.22 L 197.72 211.83 L 197.89 210.89 L 198.06 211.56 L 198.23 211.17 L 198.4 212.06 L 198.56 211.33 L 198.73 211.1 L 198.9 211.34 L 199.07 211.97 L 199.24 212.03 L 199.41 211.42 L 199.58 212.02 L 199.75 212.2 L 199.92 211.62 L 200.09 212.09 L 200.26 212.12 L 200.43 211.84 L 200.6 211.82 L 200.77 212.3 L 201.11 211.39 L 201.27 211.59 L 201.44 211.46 L 201.61 211.47 L 201.78 211.82 L 201.95 211.77 L 202.12 212.24 L 202.46 212.23 L 202.63 211.99 L 202.8 211.18 L 202.97 211.41 L 203.14 212.55 L 203.31 211.71 L 203.48 211.91 L 203.98 211.48 L 204.15 212.24 L 204.49 211.97 L 204.66 211.5 L 204.83 211.79 L 205.17 211.84 L 205.34 211.5 L 205.51 211.66 L 205.85 210.99 L 206.36 212.16 L 206.69 211.74 L 206.86 211.86 L 207.2 211.82 L 207.37 211.34 L 207.54 211.87 L 207.71 211.45 L 208.05 212.04 L 208.22 211.95 L 208.39 212.19 L 208.56 212.01 L 208.73 212.87 L 209.07 211.77 L 209.24 211.73 L 209.4 212.37 L 209.57 212.51 L 209.74 211.75 L 209.91 212.7 L 210.08 212.29 L 210.25 212.36 L 210.76 211.8 L 210.93 213.03 L 211.1 212.4 L 211.27 213.08 L 211.44 212.56 L 211.61 212.84 L 211.78 212.41 L 211.95 212.5 L 212.28 212.07 L 212.45 212.29 L 212.79 211.85 L 212.96 212.27 L 213.13 212.28 L 213.3 212.52 L 213.47 212.56 L 213.81 211.6 L 214.15 212.72 L 214.49 212.12 L 214.66 212.19 L 214.82 212.61 L 214.99 212.24 L 215.16 212.24 L 215.33 212.87 L 215.5 212.69 L 215.67 212.07 L 215.84 212.64 L 216.01 212.43 L 216.18 211.99 L 216.52 212.24 L 216.69 212.91 L 217.37 212.24 L 217.7 212.17 L 217.87 212.05 L 218.21 213.07 L 218.38 212.4 L 218.55 212.65 L 218.72 212.68 L 218.89 212.91 L 219.06 212.79 L 219.23 211.96 L 219.4 213.53 L 219.57 212.46 L 219.74 212.66 L 219.91 212.51 L 220.08 212.89 L 220.24 212.64 L 220.41 212.79 L 220.75 212.76 L 220.92 212.04 L 221.26 212.37 L 221.43 212.43 L 221.77 213.04 L 221.94 212.41 L 222.11 212.81 L 222.28 212.73 L 222.45 212.89 L 222.62 212.71 L 222.79 212.8 L 222.96 212.11 L 223.12 212.03 L 223.29 212.5 L 223.46 212.25 L 223.63 212.53 L 223.8 212.4 L 223.97 212.7 L 224.14 212.39 L 224.48 213.36 L 224.65 211.84 L 224.82 212.42 L 224.99 212.42 L 225.16 212.26 L 225.33 212.43 L 225.5 212.23 L 225.67 212.92 L 225.83 212.74 L 226 212.02 L 226.51 212.92 L 226.68 211.75 L 227.02 212.22 L 227.19 212.93 L 227.36 212.67 L 227.7 213.18 L 227.87 212.69 L 228.04 212.58 L 228.21 211.73 L 228.38 213.02 L 228.54 212.22 L 228.71 212.46 L 228.88 212.31 L 229.05 212.48 L 229.22 212.23 L 229.39 212.73 L 229.56 212.26 L 229.73 212.45 L 229.9 213.03 L 230.07 212.76 L 230.24 212.08 L 230.41 212.11 L 230.58 213.09 L 230.92 212.17 L 231.25 212.98 L 231.42 212.54 L 231.59 212.79 L 231.76 213.45 L 231.93 212.57 L 232.1 212.71 L 232.27 212.53 L 232.44 212.15 L 232.95 212.2 L 233.12 213.09 L 233.29 213.12 L 233.46 212.66 L 233.63 212.86 L 233.8 212.76 L 233.96 213.1 L 234.3 212.35 L 234.47 213 L 234.64 212.95 L 234.81 213.13 L 234.98 213.65 L 235.15 212.99 L 235.32 212.99 L 235.49 212.86 L 235.66 213.22 L 235.83 212.46 L 236 212.56 L 236.17 212.27 L 236.34 213.86 L 236.51 212.92 L 236.67 212.63 L 237.18 212.92 L 237.35 212.51 L 237.52 213.03 L 237.69 213.01 L 237.86 212.08 L 238.03 212.98 L 238.2 212.55 L 238.37 212.93 L 238.54 212.73 L 238.71 212.95 L 238.88 212.62 L 239.05 212.54 L 239.22 212.93 L 239.72 213.19 L 239.89 212.38 L 240.06 212.26 L 240.23 213.51 L 240.74 212.53 L 240.91 213.18 L 241.42 212.5 L 241.59 213.1 L 241.76 212.52 L 241.93 213.17 L 242.09 212.54 L 242.26 213.06 L 242.43 212.96 L 242.6 212.6 L 242.77 212.76 L 242.94 212.73 L 243.11 213.11 L 243.28 213.13 L 243.62 212.37 L 243.79 212.92 L 243.96 212.87 L 244.13 213.3 L 244.3 212.37 L 244.47 213.22 L 244.8 212.66 L 244.97 214.09 L 245.14 213.2 L 245.31 213.54 L 245.65 213.02 L 245.82 213.49 L 246.16 212.2 L 246.33 213.08 L 246.5 212.95 L 246.67 212.36 L 247.01 213.24 L 247.18 212.75 L 247.35 213.11 L 247.51 212.47 L 247.68 213.18 L 247.85 212.46 L 248.02 213.4 L 248.19 213.07 L 248.36 213.8 L 248.53 212.23 L 248.7 213.08 L 248.87 213.22 L 249.04 213.02 L 249.21 213.13 L 249.38 213 L 249.55 212.45 L 249.72 212.59 L 249.89 213.3 L 250.06 213.01 L 250.22 213.11 L 250.39 212.94 L 250.56 213.43 L 250.73 213.2 L 250.9 213.55 L 251.07 212.76 L 251.24 213.2 L 251.41 212.55 L 251.75 213.4 L 251.92 212.35 L 252.09 213.61 L 252.26 211.98 L 252.43 212.45 L 252.77 212.47 L 252.93 212.65 L 253.27 213.34 L 253.44 213.15 L 253.61 214.04 L 253.78 212.99 L 253.95 213.17 L 254.12 213.09 L 254.46 213.63 L 254.63 213.11 L 254.8 213.23 L 255.14 213.11 L 255.48 212.65 L 255.65 213.49 L 255.81 212.97 L 255.98 213.76 L 256.15 213.53 L 256.32 213.57 L 256.49 213.29 L 256.83 213.18 L 257.17 213.31 L 257.34 213.8 L 257.51 213.16 L 257.68 213.62 L 257.85 213.02 L 258.02 213.35 L 258.19 212.62 L 258.36 213.63 L 258.69 212.82 L 258.86 213.37 L 259.03 213.26 L 259.2 212.53 L 259.71 213.32 L 259.88 213.27 L 260.05 213.62 L 260.22 212.52 L 260.39 213.04 L 260.73 212.58 L 261.07 213.16 L 261.23 212.67 L 261.4 213.7 L 261.57 212.7 L 261.91 213.25 L 262.25 212.9 L 262.42 213.54 L 262.59 213.27 L 262.76 213.52 L 262.93 213.48 L 263.1 213.11 L 263.44 213.73 L 263.61 213.5 L 263.78 212.87 L 264.11 213.21 L 264.28 212.9 L 264.45 213.47 L 264.79 213.6 L 264.96 213.22 L 265.13 213.17 L 265.3 213.72 L 265.47 212.5 L 265.98 214.04 L 266.15 213.4 L 266.32 213.47 L 266.49 213.95 L 266.65 213.53 L 266.99 213.62 L 267.16 213.19 L 267.33 214.1 L 267.5 213.67 L 267.67 214.04 L 267.84 213.59 L 268.01 213.57 L 268.18 212.89 L 268.35 213.95 L 268.52 213.5 L 268.69 213.62 L 268.86 213.48 L 269.2 213.93 L 269.36 213.69 L 269.53 213.79 L 269.7 213.23 L 269.87 213.62 L 270.04 213.08 L 270.21 213.85 L 270.38 213.67 L 270.55 213.72 L 270.72 213.63 L 270.89 212.8 L 271.06 213.89 L 271.23 213.24 L 271.4 213.66 L 271.57 213.74 L 271.74 213.21 L 271.91 213.78 L 272.07 212.9 L 272.24 213.31 L 272.41 213.21 L 272.58 213.53 L 272.92 213.21 L 273.09 213.76 L 273.26 213.53 L 273.43 213.8 L 273.77 213.42 L 273.94 214.05 L 274.11 213.47 L 274.28 213.72 L 274.45 213.22 L 274.62 213.89 L 274.78 213.64 L 274.95 213.64 L 275.12 213.2 L 275.29 213.52 L 275.46 213.01 L 275.63 213.26 L 275.8 213.9 L 275.97 214.01 L 276.31 213.41 L 276.65 213.99 L 276.82 213.47 L 277.16 213.97 L 277.33 213.59 L 277.49 213.71 L 277.66 214.17 L 278 213.57 L 278.34 214.2 L 278.51 213.52 L 278.68 213.38 L 278.85 213.83 L 279.02 213.66 L 279.19 213.99 L 279.36 213.71 L 279.53 214.2 L 279.7 213.77 L 279.87 213.64 L 280.04 213.95 L 280.54 213.36 L 280.88 214.18 L 281.39 213.55 L 281.56 213.24 L 281.73 214.04 L 282.07 213.47 L 282.24 213.79 L 282.41 213.68 L 282.58 213.92 L 282.75 213.25 L 282.91 213.42 L 283.08 213.94 L 283.25 213.47 L 283.42 213.98 L 283.59 213.38 L 283.76 213.29 L 283.93 214.25 L 284.1 213.83 L 284.27 213.82 L 284.44 213.08 L 284.61 213.63 L 284.78 213.55 L 284.95 213.84 L 285.29 213.62 L 285.46 213.78 L 285.63 213.65 L 285.96 214.33 L 286.13 213.84 L 286.3 213.87 L 286.47 214.33 L 286.81 213.97 L 286.98 213.34 L 287.15 213.62 L 287.32 213.66 L 287.49 214.45 L 287.83 213.32 L 288 213.95 L 288.17 213.73 L 288.34 214.19 L 288.5 213.77 L 288.67 213.91 L 288.84 214.44 L 289.01 213.66 L 289.18 214.04 L 289.35 213.86 L 289.52 214.46 L 289.69 213.65 L 289.86 214.11 L 290.03 213.75 L 290.2 214.23 L 290.37 213.5 L 290.54 213.97 L 290.71 213.82 L 290.88 213.98 L 291.05 214.31 L 291.55 213.32 L 291.72 213.83 L 291.89 213.38 L 292.23 214.3 L 292.4 213.95 L 292.57 213.87 L 292.74 213.56 L 292.91 214.51 L 293.08 213.5 L 293.42 213.69 L 293.59 214.36 L 293.76 214.37 L 293.92 213.56 L 294.09 214.05 L 294.26 213.6 L 294.43 214.22 L 294.6 213.66 L 294.77 213.66 L 294.94 214.32 L 295.11 214.1 L 295.28 213.48 L 295.45 214.35 L 295.62 213.69 L 295.96 214.4 L 296.13 214.23 L 296.3 214.41 L 296.47 213.53 L 296.63 214.58 L 296.8 214.58 L 297.14 214 L 297.31 214.7 L 297.48 214.55 L 297.65 214.2 L 297.82 214.26 L 297.99 214.14 L 298.16 214.4 L 298.5 213.9 L 298.67 214.46 L 298.84 214.62 L 299.18 214.06 L 299.34 213.23 L 299.51 213.79 L 299.68 213.86 L 299.85 214.92 L 300.02 214.63 L 300.19 213.92 L 300.36 214.3 L 300.53 214.38 L 300.7 213.91 L 300.87 213.81 L 301.21 214.16 L 301.38 214.78 L 301.72 213.97 L 302.22 214.93 L 302.56 213.96 L 302.73 214.34 L 303.07 213.92 L 303.24 214.23 L 303.41 214.17 L 303.75 214.34 L 303.92 213.97 L 304.09 214.01 L 304.26 214.21 L 304.43 214.62 L 304.6 214.13 L 304.76 213.99 L 305.1 214.06 L 305.44 214.43 L 305.78 214.2 L 305.95 214.19 L 306.29 214.98 L 306.46 214.3 L 306.97 214.27 L 307.14 214.88 L 307.47 214.28 L 307.64 214.67 L 307.81 214.58 L 307.98 214.14 L 308.15 214.32 L 308.32 214.75 L 308.49 214.5 L 308.66 214.77 L 308.83 214.33 L 309 214.9 L 309.17 214.98 L 309.34 214.02 L 309.51 214.17 L 309.68 214.71 L 309.85 214.27 L 310.02 215.19 L 310.35 213.99 L 310.86 214.19 L 311.03 214.11 L 311.2 213.55 L 311.37 214.42 L 311.71 213.91 L 311.88 214.39 L 312.05 213.64 L 312.22 214.7 L 312.39 214.17 L 312.73 214.11 L 312.89 214.48 L 313.23 214.02 L 313.4 214.33 L 313.57 213.82 L 313.74 214.73 L 314.08 213.62 L 314.25 214.46 L 314.42 214.22 L 314.76 214.46 L 314.93 214.12 L 315.1 214.72 L 315.27 214.18 L 315.44 214.82 L 315.77 214.19 L 315.94 214.64 L 316.11 214.51 L 316.28 213.83 L 316.45 214.53 L 316.62 214.51 L 316.96 214.34 L 317.3 214.6 L 317.81 214.18 L 317.98 214.55 L 318.32 214.04 L 318.48 215.09 L 318.65 214.72 L 318.82 214.8 L 318.99 214.74 L 319.16 214.28 L 319.33 214.83 L 319.5 214.69 L 319.67 214.21 L 319.84 215.37 L 320.52 214.53 L 320.69 214.95 L 320.86 214.27 L 321.03 214.22 L 321.03 214.22 
" clip-path="url(#p1e43ecd677)" style="fill: none; stroke: #ee82ee; stroke-linecap: square"/>
<g clip-path="url(#p1e43ecd677)">
<path d="M 0 0 L 0 1.3 
M 0 0 L 1.04 -0.65 
M 0 0 L -1.04 -0.65 
" transform="translate(67.13 38.81)" style="fill: #ee82ee; stroke: #ee82ee"/>
<path d="M 0 0 L 0 1.3 
M 0 0 L 1.04 -0.65 
M 0 0 L -1.04 -0.65 
" transform="translate(84.06 197.43)" style="fill: #ee82ee; stroke: #ee82ee"/>
<path d="M 0 0 L 0 1.3 
M 0 0 L 1.04 -0.65 
M 0 0 L -1.04 -0.65 
" transform="translate(101 202.67)" style="fill: #ee82ee; stroke: #ee82ee"/>
<path d="M 0 0 L 0 1.3 
M 0 0 L 1.04 -0.65 
M 0 0 L -1.04 -0.65 
" transform="translate(117.94 205.73)" style="fill: #ee82ee; stroke: #ee82ee"/>
<path d="M 0 0 L 0 1.3 
M 0 0 L 1.04 -0.65 
M 0 0 L -1.04 -0.65 
" transform="translate(134.88 207.42)" style="fill: #ee82ee; stroke: #ee82ee"/>
<path d="M 0 0 L 0 1.3 
M 0 0 L 1.04 -0.65 
M 0 0 L -1.04 -0.65 
" transform="translate(151.82 208.69)" style="fill: #ee82ee; stroke: #ee82ee"/>
<path d="M 0 0 L 0 1.3 
M 0 0 L 1.04 -0.65 
M 0 0 L -1.04 -0.65 
" transform="translate(168.75 209.92)" style="fill: #ee82ee; stroke: #ee82ee"/>
<path d="M 0 0 L 0 1.3 
M 0 0 L 1.04 -0.65 
M 0 0 L -1.04 -0.65 
" transform="translate(185.69 210.95)" style="fill: #ee82ee; stroke: #ee82ee"/>
<path d="M 0 0 L 0 1.3 
M 0 0 L 1.04 -0.65 
M 0 0 L -1.04 -0.65 
" transform="translate(202.63 211.99)" style="fill: #ee82ee; stroke: #ee82ee"/>
<path d="M 0 0 L 0 1.3 
M 0 0 L 1.04 -0.65 
M 0 0 L -1.04 -0.65 
" transform="translate(219.57 212.46)" style="fill: #ee82ee; stroke: #ee82ee"/>
<path d="M 0 0 L 0 1.3 
M 0 0 L 1.04 -0.65 
M 0 0 L -1.04 -0.65 
" transform="translate(236.51 212.92)" style="fill: #ee82ee; stroke: #ee82ee"/>
<path d="M 0 0 L 0 1.3 
M 0 0 L 1.04 -0.65 
M 0 0 L -1.04 -0.65 
" transform="translate(253.44 213.15)" style="fill: #ee82ee; stroke: #ee82ee"/>
<path d="M 0 0 L 0 1.3 
M 0 0 L 1.04 -0.65 
M 0 0 L -1.04 -0.65 
" transform="translate(270.38 213.67)" style="fill: #ee82ee; stroke: #ee82ee"/>
<path d="M 0 0 L 0 1.3 
M 0 0 L 1.04 -0.65 
M 0 0 L -1.04 -0.65 
" transform="translate(287.32 213.66)" style="fill: #ee82ee; stroke: #ee82ee"/>
<path d="M 0 0 L 0 1.3 
M 0 0 L 1.04 -0.65 
M 0 0 L -1.04 -0.65 
" transform="translate(304.26 214.21)" style="fill: #ee82ee; stroke: #ee82ee"/>
</g>
</g>
<g id="patch_3">
<path d="M 54.43 303.26 L 54.43 26.06 
" style="fill: none; stroke: #000000; stroke-width: 0.8; stroke-linejoin: miter; stroke-linecap: square"/>
</g>
<g id="patch_4">
<path d="M 333.72 303.26 L 333.72 26.06 
" style="fill: none; stroke: #000000; stroke-width: 0.8; stroke-linejoin: miter; stroke-linecap: square"/>
</g>
<g id="patch_5">
<path d="M 54.43 303.26 L 333.72 303.26 
" style="fill: none; stroke: #000000; stroke-width: 0.8; stroke-linejoin: miter; stroke-linecap: square"/>
</g>
<g id="patch_6">
<path d="M 54.43 26.06 L 333.72 26.06 
" style="fill: none; stroke: #000000; stroke-width: 0.8; stroke-linejoin: miter; stroke-linecap: square"/>
</g>
<g id="text_14">
<g transform="translate(-0.72 -0.18)"><text style="font-size: 16.8px; font-family: 'DejaVu Sans', sans-serif; text-anchor: middle" x="194.08" y="20.06" transform="rotate(-0 194.08 20.06)">Training Loss</text></g>
</g>
<g id="legend_1">
<g id="patch_7">
<path d="M 205.8 182.37 L 323.92 182.37 
Q 326.72 182.37 326.72 179.57 L 326.72 35.86 
Q 326.72 33.06 323.92 33.06 L 205.8 33.06 
Q 203 33.06 203 35.86 L 203 179.57 
Q 203 182.37 205.8 182.37 z
" style="fill: #ffffff; opacity: 0.8; stroke: #cccccc; stroke-linejoin: miter"/>
</g>
<g id="line2d_30">
<path d="M 208.6 44.4 L 222.6 44.4 L 236.6 44.4 
" style="fill: none; stroke: #2ca02c; stroke-linecap: square"/>
<g>
<path d="M 0 1.3 
C 0.34 1.3 0.68 1.16 0.92 0.92 
C 1.16 0.68 1.3 0.34 1.3 0 
C 1.3 -0.34 1.16 -0.68 0.92 -0.92 
C 0.68 -1.16 0.34 -1.3 0 -1.3 
C -0.34 -1.3 -0.68 -1.16 -0.92 -0.92 
C -1.16 -0.68 -1.3 -0.34 -1.3 0 
C -1.3 0.34 -1.16 0.68 -0.92 0.92 
C -0.68 1.16 -0.34 1.3 0 1.3 z
" transform="translate(222.6 44.4)" style="fill: #2ca02c; stroke: #2ca02c"/>
</g>
</g>
<g id="text_15">
<g transform="translate(-0.14 0.72)"><text style="font-size: 14px; font-family: 'DejaVu Sans', sans-serif; text-anchor: start" x="247.8" y="49.3" transform="rotate(-0 247.8 49.3)">FedDisk</text></g>
</g>
<g id="line2d_31">
<path d="M 208.6 65.16 L 222.6 65.16 L 236.6 65.16 
" style="fill: none; stroke: #1f77b4; stroke-linecap: square"/>
<g>
<path d="M -0 1.3 L 1.3 -1.3 L -1.3 -1.3 z
" transform="translate(222.6 65.16)" style="fill: #1f77b4; stroke: #1f77b4; stroke-linejoin: miter"/>
</g>
</g>
<g id="text_16">
<g transform="translate(-0.14 0.72)"><text style="font-size: 14px; font-family: 'DejaVu Sans', sans-serif; text-anchor: start" x="247.8" y="70.06" transform="rotate(-0 247.8 70.06)">FedAvg</text></g>
</g>
<g id="line2d_32">
<path d="M 208.6 85.92 L 222.6 85.92 L 236.6 85.92 
" style="fill: none; stroke: #ff0000; stroke-linecap: square"/>
<g>
<path d="M -1.3 1.3 L 1.3 1.3 L 1.3 -1.3 L -1.3 -1.3 z
" transform="translate(222.6 85.92)" style="fill: #ff0000; stroke: #ff0000; stroke-linejoin: miter"/>
</g>
</g>
<g id="text_17">
<g transform="translate(-0.14 0.72)"><text style="font-size: 14px; font-family: 'DejaVu Sans', sans-serif; text-anchor: start" x="247.8" y="90.82" transform="rotate(-0 247.8 90.82)">FedBN</text></g>
</g>
<g id="line2d_33">
<path d="M 208.6 106.68 L 222.6 106.68 L 236.6 106.68 
" style="fill: none; stroke: #ff8c00; stroke-linecap: square"/>
<g>
<path d="M 0 -1.3 L -0.29 -0.4 L -1.24 -0.4 L -0.47 0.15 L -0.76 1.05 L -0 0.5 L 0.76 1.05 L 0.47 0.15 L 1.24 -0.4 L 0.29 -0.4 z
" transform="translate(222.6 106.68)" style="fill: #ff8c00; stroke: #ff8c00; stroke-linejoin: bevel"/>
</g>
</g>
<g id="text_18">
<g transform="translate(-0.14 0.72)"><text style="font-size: 14px; font-family: 'DejaVu Sans', sans-serif; text-anchor: start" x="247.8" y="111.58" transform="rotate(-0 247.8 111.58)">FedProx</text></g>
</g>
<g id="line2d_34">
<path d="M 208.6 127.44 L 222.6 127.44 L 236.6 127.44 
" style="fill: none; stroke: #8c564b; stroke-linecap: square"/>
<g>
<path d="M -1.3 1.3 L 1.3 -1.3 
M -1.3 -1.3 L 1.3 1.3 
" transform="translate(222.6 127.44)" style="fill: #8c564b; stroke: #8c564b"/>
</g>
</g>
<g id="text_19">
<g transform="translate(-0.14 0.72)"><text style="font-size: 14px; font-family: 'DejaVu Sans', sans-serif; text-anchor: start" x="247.8" y="132.34" transform="rotate(-0 247.8 132.34)">FedROD</text></g>
</g>
<g id="line2d_35">
<path d="M 208.6 148.2 L 222.6 148.2 L 236.6 148.2 
" style="fill: none; stroke: #bf00bf; stroke-linecap: square"/>
<g>
<path d="M 0 1.3 
C 0.34 1.3 0.68 1.16 0.92 0.92 
C 1.16 0.68 1.3 0.34 1.3 0 
C 1.3 -0.34 1.16 -0.68 0.92 -0.92 
C 0.68 -1.16 0.34 -1.3 0 -1.3 
C -0.34 -1.3 -0.68 -1.16 -0.92 -0.92 
C -1.16 -0.68 -1.3 -0.34 -1.3 0 
C -1.3 0.34 -1.16 0.68 -0.92 0.92 
C -0.68 1.16 -0.34 1.3 0 1.3 z
" transform="translate(222.6 148.2)" style="fill: #bf00bf; stroke: #bf00bf"/>
</g>
</g>
<g id="text_20">
<g transform="translate(-0.14 0.72)"><text style="font-size: 14px; font-family: 'DejaVu Sans', sans-serif; text-anchor: start" x="247.8" y="153.1" transform="rotate(-0 247.8 153.1)">FedPCL</text></g>
</g>
<g id="line2d_36">
<path d="M 208.6 168.96 L 222.6 168.96 L 236.6 168.96 
" style="fill: none; stroke: #ee82ee; stroke-linecap: square"/>
<g>
<path d="M 0 0 L 0 1.3 
M 0 0 L 1.04 -0.65 
M 0 0 L -1.04 -0.65 
" transform="translate(222.6 168.96)" style="fill: #ee82ee; stroke: #ee82ee"/>
</g>
</g>
<g id="text_21">
<g transform="translate(-0.14 0.72)"><text style="font-size: 14px; font-family: 'DejaVu Sans', sans-serif; text-anchor: start" x="247.8" y="173.86" transform="rotate(-0 247.8 173.86)">FedDiskAb</text></g>
</g>
</g>
</g>
</g>
<defs>
<clipPath id="p1e43ecd677">
<rect x="54.43" y="26.06" width="279.29" height="277.2"/>
</clipPath>
</defs>
</svg>

</body></html>
